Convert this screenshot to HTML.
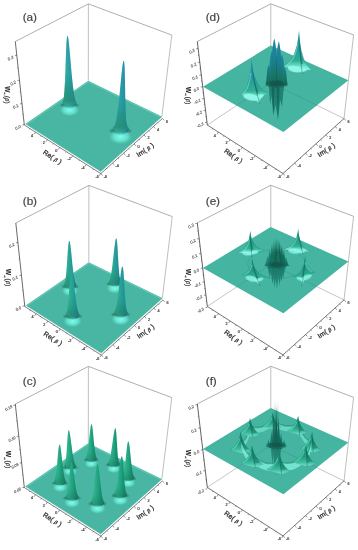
<!DOCTYPE html>
<html><head><meta charset="utf-8"><title>Wigner functions</title>
<style>
html,body{margin:0;padding:0;background:#fff;}
svg{display:block;font-family:"Liberation Sans",sans-serif;filter:blur(0.3px);}
</style></head><body>
<svg width="358" height="550" viewBox="0 0 358 550">
<rect width="358" height="550" fill="#fff"/>
<defs>
<filter id="b5" x="-30%" y="-50%" width="160%" height="200%"><feGaussianBlur stdDeviation="0.7"/></filter>
<radialGradient id="glow"><stop offset="0" stop-color="#8ffff0" stop-opacity="1"/><stop offset="0.5" stop-color="#6eecd9" stop-opacity="0.9"/><stop offset="0.78" stop-color="#5cd6c2" stop-opacity="0.5"/><stop offset="1" stop-color="#48b6a2" stop-opacity="0"/></radialGradient>
<radialGradient id="glowc"><stop offset="0" stop-color="#7ffbea" stop-opacity="0.95"/><stop offset="0.5" stop-color="#66e6d4" stop-opacity="0.6"/><stop offset="1" stop-color="#55cdb9" stop-opacity="0"/></radialGradient>
<radialGradient id="glow2"><stop offset="0" stop-color="#9afff2" stop-opacity="0.9"/><stop offset="0.55" stop-color="#7af0e0" stop-opacity="0.7"/><stop offset="0.8" stop-color="#62d8c6" stop-opacity="0.3"/><stop offset="1" stop-color="#48b6a2" stop-opacity="0"/></radialGradient>
<linearGradient id="gA" x1="0" x2="1" y1="0" y2="0"><stop offset="0.15" stop-color="#34b3a0"/><stop offset="0.5" stop-color="#2a9fa6"/><stop offset="0.85" stop-color="#2386a6"/></linearGradient>
<linearGradient id="gAv" x1="0" x2="0" y1="0" y2="1"><stop offset="0" stop-color="#2590be" stop-opacity="0.5"/><stop offset="0.5" stop-color="#2a9c9c" stop-opacity="0.1"/><stop offset="0.72" stop-color="#23907a" stop-opacity="0.6"/><stop offset="0.9" stop-color="#258a70" stop-opacity="0.75"/><stop offset="1" stop-color="#3aa890" stop-opacity="0.4"/></linearGradient>
<linearGradient id="gB" x1="0" x2="1" y1="0" y2="0"><stop offset="0.15" stop-color="#36b898"/><stop offset="0.5" stop-color="#27a294"/><stop offset="0.85" stop-color="#1f889c"/></linearGradient>
<linearGradient id="gBv" x1="0" x2="0" y1="0" y2="1"><stop offset="0" stop-color="#1f9aa8" stop-opacity="0.35"/><stop offset="0.55" stop-color="#2a9c90" stop-opacity="0.05"/><stop offset="0.85" stop-color="#1d7d60" stop-opacity="0.45"/><stop offset="1" stop-color="#2c6f60" stop-opacity="0.55"/></linearGradient>
<linearGradient id="gG" x1="0" x2="1" y1="0" y2="0"><stop offset="0.25" stop-color="#30b892"/><stop offset="0.55" stop-color="#1fa27e"/><stop offset="0.8" stop-color="#12876a"/></linearGradient>
<linearGradient id="gGv" x1="0" x2="0" y1="0" y2="1"><stop offset="0" stop-color="#22a88a" stop-opacity="0.2"/><stop offset="0.6" stop-color="#2a9c80" stop-opacity="0.0"/><stop offset="0.88" stop-color="#1d7d60" stop-opacity="0.4"/><stop offset="1" stop-color="#2c6f60" stop-opacity="0.55"/></linearGradient>
<linearGradient id="gC" x1="0" x2="0" y1="0" y2="1"><stop offset="0" stop-color="#2388ac"/><stop offset="0.4" stop-color="#2399a0"/><stop offset="0.7" stop-color="#2fae94"/><stop offset="0.87" stop-color="#7cf0de"/><stop offset="0.94" stop-color="#78ead8"/><stop offset="1" stop-color="#55c6b2"/></linearGradient>
<linearGradient id="gE" x1="0" x2="0" y1="0" y2="1"><stop offset="0" stop-color="#1a8f7c"/><stop offset="0.45" stop-color="#209c82"/><stop offset="0.7" stop-color="#33b398"/><stop offset="0.84" stop-color="#80f2e0"/><stop offset="0.93" stop-color="#78ead8"/><stop offset="1" stop-color="#55c6b2"/></linearGradient>
<linearGradient id="gF" x1="0" x2="0" y1="0" y2="1"><stop offset="0" stop-color="#17866f"/><stop offset="0.55" stop-color="#1f9c7e"/><stop offset="0.8" stop-color="#3dbb9e"/><stop offset="1" stop-color="#6fe2cc"/></linearGradient>
<linearGradient id="gS" x1="0" x2="0" y1="0" y2="1"><stop offset="0" stop-color="#1f84a6"/><stop offset="0.45" stop-color="#1c7f92"/><stop offset="0.75" stop-color="#197868"/><stop offset="1" stop-color="#166a5a"/></linearGradient>
<linearGradient id="gS2" x1="0" x2="0" y1="0" y2="1"><stop offset="0" stop-color="#1c8088"/><stop offset="1" stop-color="#166a5a"/></linearGradient>
<linearGradient id="gCold" x1="0" x2="1" y1="0" y2="0"><stop offset="0.1" stop-color="#6fe6d2"/><stop offset="0.42" stop-color="#2fae9b"/><stop offset="0.6" stop-color="#1d8c86"/><stop offset="0.9" stop-color="#5fdcca"/></linearGradient>
<linearGradient id="gCv" x1="0" x2="0" y1="0" y2="1"><stop offset="0" stop-color="#1d84a4" stop-opacity="0.75"/><stop offset="0.5" stop-color="#209a88" stop-opacity="0.35"/><stop offset="0.85" stop-color="#48b6a2" stop-opacity="0.0"/></linearGradient>
</defs>
<line x1="15.30" y1="41.50" x2="88.40" y2="3.90" stroke="#8c8c8c" stroke-width="0.70" />
<line x1="88.40" y1="3.90" x2="171.80" y2="35.10" stroke="#8c8c8c" stroke-width="0.70" />
<line x1="88.40" y1="3.90" x2="88.30" y2="81.10" stroke="#9c9c9c" stroke-width="0.65" />
<line x1="171.80" y1="35.10" x2="161.80" y2="116.80" stroke="#9c9c9c" stroke-width="0.65" />
<polygon points="25.60,123.90 100.70,171.40 161.80,116.80 88.30,81.10" fill="#48b6a2" stroke="#f4fbfa" stroke-width="1.0" stroke-linejoin="round"/>
<polygon points="25.60,123.90 100.70,171.40 161.80,116.80 88.30,81.10" fill="#48b6a2" stroke="#48b6a2" stroke-width="0.3"/>
<polyline points="26.80,124.00 88.30,81.85 160.60,116.90" fill="none" stroke="#62c8b4" stroke-width="1.1" stroke-linejoin="round"/>
<line x1="24.30" y1="125.00" x2="100.80" y2="173.60" stroke="#3a3a3a" stroke-width="0.65" />
<line x1="100.80" y1="173.60" x2="162.40" y2="118.50" stroke="#3a3a3a" stroke-width="0.65" />
<line x1="15.30" y1="41.50" x2="24.30" y2="125.00" stroke="#3a3a3a" stroke-width="0.75" />
<line x1="29.87" y1="128.54" x2="29.17" y2="129.54" stroke="#3a3a3a" stroke-width="0.45" />
<line x1="35.57" y1="132.16" x2="34.07" y2="134.26" stroke="#3a3a3a" stroke-width="0.55" />
<text x="31.97" y="135.56" font-size="3.70" text-anchor="middle" fill="#3a3a3a" transform="rotate(0.0 31.97 135.56)" dominant-baseline="central" stroke="#4a4a4a" stroke-width="0.2">4</text>
<line x1="41.41" y1="135.87" x2="40.71" y2="136.87" stroke="#3a3a3a" stroke-width="0.45" />
<line x1="47.38" y1="139.66" x2="45.88" y2="141.76" stroke="#3a3a3a" stroke-width="0.55" />
<text x="43.78" y="143.06" font-size="3.70" text-anchor="middle" fill="#3a3a3a" transform="rotate(0.0 43.78 143.06)" dominant-baseline="central" stroke="#4a4a4a" stroke-width="0.2">2</text>
<line x1="53.50" y1="143.55" x2="52.80" y2="144.55" stroke="#3a3a3a" stroke-width="0.45" />
<line x1="59.76" y1="147.53" x2="58.26" y2="149.63" stroke="#3a3a3a" stroke-width="0.55" />
<text x="56.16" y="150.93" font-size="3.70" text-anchor="middle" fill="#3a3a3a" transform="rotate(0.0 56.16 150.93)" dominant-baseline="central" stroke="#4a4a4a" stroke-width="0.2">0</text>
<line x1="66.18" y1="151.61" x2="65.48" y2="152.61" stroke="#3a3a3a" stroke-width="0.45" />
<line x1="72.76" y1="155.79" x2="71.26" y2="157.89" stroke="#3a3a3a" stroke-width="0.55" />
<text x="69.16" y="159.19" font-size="3.70" text-anchor="middle" fill="#3a3a3a" transform="rotate(0.0 69.16 159.19)" dominant-baseline="central" stroke="#4a4a4a" stroke-width="0.2">-2</text>
<line x1="79.51" y1="160.07" x2="78.81" y2="161.07" stroke="#3a3a3a" stroke-width="0.45" />
<line x1="86.42" y1="164.47" x2="84.92" y2="166.57" stroke="#3a3a3a" stroke-width="0.55" />
<text x="82.82" y="167.87" font-size="3.70" text-anchor="middle" fill="#3a3a3a" transform="rotate(0.0 82.82 167.87)" dominant-baseline="central" stroke="#4a4a4a" stroke-width="0.2">-4</text>
<line x1="93.52" y1="168.97" x2="92.82" y2="169.97" stroke="#3a3a3a" stroke-width="0.45" />
<line x1="100.80" y1="173.60" x2="99.30" y2="175.70" stroke="#3a3a3a" stroke-width="0.55" />
<text x="97.20" y="177.00" font-size="3.70" text-anchor="middle" fill="#3a3a3a" transform="rotate(0.0 97.20 177.00)" dominant-baseline="central" stroke="#4a4a4a" stroke-width="0.2">-6</text>
<line x1="100.80" y1="173.60" x2="102.70" y2="175.40" stroke="#3a3a3a" stroke-width="0.55" />
<text x="105.40" y="176.60" font-size="3.70" text-anchor="middle" fill="#3a3a3a" transform="rotate(0.0 105.40 176.60)" dominant-baseline="central" stroke="#4a4a4a" stroke-width="0.2">-6</text>
<line x1="106.71" y1="168.31" x2="107.61" y2="169.21" stroke="#3a3a3a" stroke-width="0.45" />
<line x1="112.47" y1="163.17" x2="114.37" y2="164.97" stroke="#3a3a3a" stroke-width="0.55" />
<text x="117.07" y="166.17" font-size="3.70" text-anchor="middle" fill="#3a3a3a" transform="rotate(0.0 117.07 166.17)" dominant-baseline="central" stroke="#4a4a4a" stroke-width="0.2">-4</text>
<line x1="118.06" y1="158.16" x2="118.96" y2="159.06" stroke="#3a3a3a" stroke-width="0.45" />
<line x1="123.51" y1="153.28" x2="125.41" y2="155.08" stroke="#3a3a3a" stroke-width="0.55" />
<text x="128.11" y="156.28" font-size="3.70" text-anchor="middle" fill="#3a3a3a" transform="rotate(0.0 128.11 156.28)" dominant-baseline="central" stroke="#4a4a4a" stroke-width="0.2">-2</text>
<line x1="128.82" y1="148.54" x2="129.72" y2="149.44" stroke="#3a3a3a" stroke-width="0.45" />
<line x1="133.99" y1="143.91" x2="135.89" y2="145.71" stroke="#3a3a3a" stroke-width="0.55" />
<text x="138.59" y="146.91" font-size="3.70" text-anchor="middle" fill="#3a3a3a" transform="rotate(0.0 138.59 146.91)" dominant-baseline="central" stroke="#4a4a4a" stroke-width="0.2">0</text>
<line x1="139.03" y1="139.41" x2="139.93" y2="140.31" stroke="#3a3a3a" stroke-width="0.45" />
<line x1="143.94" y1="135.02" x2="145.84" y2="136.82" stroke="#3a3a3a" stroke-width="0.55" />
<text x="148.54" y="138.02" font-size="3.70" text-anchor="middle" fill="#3a3a3a" transform="rotate(0.0 148.54 138.02)" dominant-baseline="central" stroke="#4a4a4a" stroke-width="0.2">2</text>
<line x1="148.72" y1="130.73" x2="149.62" y2="131.63" stroke="#3a3a3a" stroke-width="0.45" />
<line x1="153.40" y1="126.55" x2="155.30" y2="128.35" stroke="#3a3a3a" stroke-width="0.55" />
<text x="158.00" y="129.55" font-size="3.70" text-anchor="middle" fill="#3a3a3a" transform="rotate(0.0 158.00 129.55)" dominant-baseline="central" stroke="#4a4a4a" stroke-width="0.2">4</text>
<line x1="157.95" y1="122.48" x2="158.85" y2="123.38" stroke="#3a3a3a" stroke-width="0.45" />
<line x1="162.40" y1="118.50" x2="164.30" y2="120.30" stroke="#3a3a3a" stroke-width="0.55" />
<text x="167.00" y="121.50" font-size="3.70" text-anchor="middle" fill="#3a3a3a" transform="rotate(0.0 167.00 121.50)" dominant-baseline="central" stroke="#4a4a4a" stroke-width="0.2">6</text>
<line x1="16.80" y1="55.40" x2="14.80" y2="55.70" stroke="#3a3a3a" stroke-width="0.55" />
<text x="10.50" y="58.20" font-size="4.20" text-anchor="middle" fill="#3a3a3a" transform="rotate(-27.0 10.50 58.20)" dominant-baseline="central" stroke="#4a4a4a" stroke-width="0.1" font-style="italic">0.3</text>
<line x1="18.13" y1="67.80" x2="17.13" y2="67.95" stroke="#3a3a3a" stroke-width="0.45" />
<line x1="19.47" y1="80.20" x2="17.47" y2="80.50" stroke="#3a3a3a" stroke-width="0.55" />
<text x="13.17" y="83.00" font-size="4.20" text-anchor="middle" fill="#3a3a3a" transform="rotate(-27.0 13.17 83.00)" dominant-baseline="central" stroke="#4a4a4a" stroke-width="0.1" font-style="italic">0.2</text>
<line x1="20.73" y1="91.90" x2="19.73" y2="92.05" stroke="#3a3a3a" stroke-width="0.45" />
<line x1="21.99" y1="103.60" x2="19.99" y2="103.90" stroke="#3a3a3a" stroke-width="0.55" />
<text x="15.69" y="106.40" font-size="4.20" text-anchor="middle" fill="#3a3a3a" transform="rotate(-27.0 15.69 106.40)" dominant-baseline="central" stroke="#4a4a4a" stroke-width="0.1" font-style="italic">0.1</text>
<line x1="23.13" y1="114.15" x2="22.13" y2="114.30" stroke="#3a3a3a" stroke-width="0.45" />
<line x1="24.27" y1="124.70" x2="22.27" y2="125.00" stroke="#3a3a3a" stroke-width="0.55" />
<text x="17.97" y="127.50" font-size="4.20" text-anchor="middle" fill="#3a3a3a" transform="rotate(-27.0 17.97 127.50)" dominant-baseline="central" stroke="#4a4a4a" stroke-width="0.1" font-style="italic">0.0</text>
<text x="22.70" y="20.60" font-size="11.80" text-anchor="start" fill="#454545" transform="rotate(0.0 22.70 20.60)" stroke="#454545" stroke-width="0.2" letter-spacing="-0.1">(a)</text>
<text x="51.20" y="159.00" font-size="6.80" text-anchor="middle" fill="#2e2e2e" transform="rotate(32.4 51.20 159.00)" stroke="#2e2e2e" stroke-width="0.26" letter-spacing="0.1">Re( <tspan font-size='5' font-style='italic'>β</tspan> )</text>
<text x="146.50" y="151.80" font-size="6.80" text-anchor="middle" fill="#2e2e2e" transform="rotate(-35.0 146.50 151.80)" stroke="#2e2e2e" stroke-width="0.26" letter-spacing="0.1">Im( <tspan font-size='5' font-style='italic'>β</tspan> )</text>
<text x="5.40" y="95.00" font-size="6.60" text-anchor="middle" fill="#2e2e2e" transform="rotate(90.0 5.40 95.00)" stroke="#2e2e2e" stroke-width="0.12"><tspan font-weight='bold'>W</tspan><tspan font-size='2.3' dy='1.5'>|ψ⟩</tspan><tspan dy='-1.5' font-size='7.6'>(</tspan><tspan font-size='5.4' font-style='italic'>β</tspan><tspan font-size='7.6'>)</tspan></text>
<ellipse cx="69.50" cy="110.00" rx="10.36" ry="6.72" fill="url(#glow)"/>
<path d="M67.50,35.70 L67.32,35.88 L67.19,36.26 L67.08,36.76 L66.98,37.38 L66.89,38.11 L66.80,38.92 L66.72,39.82 L66.64,40.81 L66.56,41.86 L66.49,43.00 L66.41,44.20 L66.34,45.47 L66.28,46.80 L66.21,48.20 L66.14,49.66 L66.08,51.18 L66.02,52.75 L65.95,54.39 L65.89,56.08 L65.83,57.82 L65.76,59.61 L65.70,61.46 L65.63,63.36 L65.57,65.31 L65.50,67.31 L65.43,69.36 L65.35,71.45 L65.28,73.59 L65.19,75.78 L65.10,78.02 L65.01,80.30 L64.90,82.62 L64.79,84.99 L64.66,87.40 L64.50,89.85 L64.32,92.35 L64.09,94.89 L63.79,97.47 L63.34,100.09 L62.41,102.75 C62.50,109.58 76.50,109.58 76.41,102.75 L76.41,102.75 L75.24,100.09 L74.59,97.47 L74.10,94.89 L73.70,92.35 L73.36,89.85 L73.05,87.40 L72.77,84.99 L72.51,82.62 L72.27,80.30 L72.05,78.02 L71.83,75.78 L71.63,73.59 L71.43,71.45 L71.25,69.36 L71.07,67.31 L70.89,65.31 L70.72,63.36 L70.56,61.46 L70.40,59.61 L70.25,57.82 L70.09,56.08 L69.95,54.39 L69.80,52.75 L69.66,51.18 L69.52,49.66 L69.39,48.20 L69.25,46.80 L69.12,45.47 L68.99,44.20 L68.86,43.00 L68.73,41.86 L68.60,40.81 L68.48,39.82 L68.35,38.92 L68.23,38.11 L68.10,37.38 L67.97,36.76 L67.83,36.26 L67.69,35.88 L67.50,35.70 Z" fill="url(#gA)"/>
<path d="M67.50,35.70 L67.32,35.88 L67.19,36.26 L67.08,36.76 L66.98,37.38 L66.89,38.11 L66.80,38.92 L66.72,39.82 L66.64,40.81 L66.56,41.86 L66.49,43.00 L66.41,44.20 L66.34,45.47 L66.28,46.80 L66.21,48.20 L66.14,49.66 L66.08,51.18 L66.02,52.75 L65.95,54.39 L65.89,56.08 L65.83,57.82 L65.76,59.61 L65.70,61.46 L65.63,63.36 L65.57,65.31 L65.50,67.31 L65.43,69.36 L65.35,71.45 L65.28,73.59 L65.19,75.78 L65.10,78.02 L65.01,80.30 L64.90,82.62 L64.79,84.99 L64.66,87.40 L64.50,89.85 L64.32,92.35 L64.09,94.89 L63.79,97.47 L63.34,100.09 L62.41,102.75 C62.50,109.58 76.50,109.58 76.41,102.75 L76.41,102.75 L75.24,100.09 L74.59,97.47 L74.10,94.89 L73.70,92.35 L73.36,89.85 L73.05,87.40 L72.77,84.99 L72.51,82.62 L72.27,80.30 L72.05,78.02 L71.83,75.78 L71.63,73.59 L71.43,71.45 L71.25,69.36 L71.07,67.31 L70.89,65.31 L70.72,63.36 L70.56,61.46 L70.40,59.61 L70.25,57.82 L70.09,56.08 L69.95,54.39 L69.80,52.75 L69.66,51.18 L69.52,49.66 L69.39,48.20 L69.25,46.80 L69.12,45.47 L68.99,44.20 L68.86,43.00 L68.73,41.86 L68.60,40.81 L68.48,39.82 L68.35,38.92 L68.23,38.11 L68.10,37.38 L67.97,36.76 L67.83,36.26 L67.69,35.88 L67.50,35.70 Z" fill="url(#gAv)"/>
<ellipse cx="62.50" cy="105.12" rx="2.24" ry="1.54" fill="#245f52" opacity="0.4" filter="url(#b5)"/>
<ellipse cx="76.50" cy="105.12" rx="2.24" ry="1.54" fill="#245f52" opacity="0.4" filter="url(#b5)"/>
<ellipse cx="69.50" cy="110.20" rx="8.40" ry="5.04" fill="url(#glowc)"/>
<ellipse cx="120.50" cy="136.80" rx="12.21" ry="7.92" fill="url(#glow)"/>
<path d="M123.70,60.70 L123.51,60.89 L123.37,61.26 L123.23,61.77 L123.09,62.40 L122.95,63.13 L122.82,63.96 L122.68,64.87 L122.54,65.86 L122.40,66.93 L122.26,68.08 L122.12,69.29 L121.97,70.58 L121.82,71.92 L121.67,73.34 L121.51,74.81 L121.35,76.35 L121.19,77.94 L121.02,79.59 L120.85,81.30 L120.68,83.06 L120.50,84.88 L120.31,86.74 L120.12,88.66 L119.92,90.64 L119.72,92.66 L119.51,94.73 L119.29,96.84 L119.07,99.01 L118.83,101.22 L118.58,103.48 L118.32,105.78 L118.04,108.13 L117.74,110.53 L117.42,112.97 L117.06,115.45 L116.65,117.97 L116.16,120.54 L115.50,123.15 L114.47,125.80 L112.39,128.49 C112.25,136.31 128.75,136.31 128.89,128.49 L128.89,128.49 L127.19,125.80 L126.49,123.15 L126.13,120.54 L125.91,117.97 L125.76,115.45 L125.65,112.97 L125.57,110.53 L125.50,108.13 L125.44,105.78 L125.38,103.48 L125.33,101.22 L125.29,99.01 L125.25,96.84 L125.21,94.73 L125.18,92.66 L125.14,90.64 L125.11,88.66 L125.07,86.74 L125.04,84.88 L125.01,83.06 L124.97,81.30 L124.94,79.59 L124.90,77.94 L124.86,76.35 L124.82,74.81 L124.78,73.34 L124.74,71.92 L124.69,70.58 L124.64,69.29 L124.59,68.08 L124.53,66.93 L124.47,65.86 L124.41,64.87 L124.34,63.96 L124.27,63.13 L124.18,62.40 L124.09,61.77 L123.99,61.26 L123.87,60.89 L123.70,60.70 Z" fill="url(#gA)"/>
<path d="M123.70,60.70 L123.51,60.89 L123.37,61.26 L123.23,61.77 L123.09,62.40 L122.95,63.13 L122.82,63.96 L122.68,64.87 L122.54,65.86 L122.40,66.93 L122.26,68.08 L122.12,69.29 L121.97,70.58 L121.82,71.92 L121.67,73.34 L121.51,74.81 L121.35,76.35 L121.19,77.94 L121.02,79.59 L120.85,81.30 L120.68,83.06 L120.50,84.88 L120.31,86.74 L120.12,88.66 L119.92,90.64 L119.72,92.66 L119.51,94.73 L119.29,96.84 L119.07,99.01 L118.83,101.22 L118.58,103.48 L118.32,105.78 L118.04,108.13 L117.74,110.53 L117.42,112.97 L117.06,115.45 L116.65,117.97 L116.16,120.54 L115.50,123.15 L114.47,125.80 L112.39,128.49 C112.25,136.31 128.75,136.31 128.89,128.49 L128.89,128.49 L127.19,125.80 L126.49,123.15 L126.13,120.54 L125.91,117.97 L125.76,115.45 L125.65,112.97 L125.57,110.53 L125.50,108.13 L125.44,105.78 L125.38,103.48 L125.33,101.22 L125.29,99.01 L125.25,96.84 L125.21,94.73 L125.18,92.66 L125.14,90.64 L125.11,88.66 L125.07,86.74 L125.04,84.88 L125.01,83.06 L124.97,81.30 L124.94,79.59 L124.90,77.94 L124.86,76.35 L124.82,74.81 L124.78,73.34 L124.74,71.92 L124.69,70.58 L124.64,69.29 L124.59,68.08 L124.53,66.93 L124.47,65.86 L124.41,64.87 L124.34,63.96 L124.27,63.13 L124.18,62.40 L124.09,61.77 L123.99,61.26 L123.87,60.89 L123.70,60.70 Z" fill="url(#gAv)"/>
<ellipse cx="112.25" cy="130.87" rx="2.64" ry="1.81" fill="#245f52" opacity="0.4" filter="url(#b5)"/>
<ellipse cx="128.75" cy="130.87" rx="2.64" ry="1.81" fill="#245f52" opacity="0.4" filter="url(#b5)"/>
<ellipse cx="120.50" cy="137.00" rx="9.90" ry="5.94" fill="url(#glowc)"/>
<line x1="15.80" y1="223.00" x2="88.90" y2="185.40" stroke="#8c8c8c" stroke-width="0.70" />
<line x1="88.90" y1="185.40" x2="172.30" y2="216.60" stroke="#8c8c8c" stroke-width="0.70" />
<line x1="88.90" y1="185.40" x2="88.80" y2="262.60" stroke="#9c9c9c" stroke-width="0.65" />
<line x1="172.30" y1="216.60" x2="162.30" y2="298.30" stroke="#9c9c9c" stroke-width="0.65" />
<polygon points="26.10,305.40 101.20,352.90 162.30,298.30 88.80,262.60" fill="#48b6a2" stroke="#f4fbfa" stroke-width="1.0" stroke-linejoin="round"/>
<polygon points="26.10,305.40 101.20,352.90 162.30,298.30 88.80,262.60" fill="#48b6a2" stroke="#48b6a2" stroke-width="0.3"/>
<polyline points="27.30,305.50 88.80,263.35 161.10,298.40" fill="none" stroke="#62c8b4" stroke-width="1.1" stroke-linejoin="round"/>
<line x1="24.80" y1="306.50" x2="101.30" y2="355.10" stroke="#3a3a3a" stroke-width="0.65" />
<line x1="101.30" y1="355.10" x2="162.90" y2="300.00" stroke="#3a3a3a" stroke-width="0.65" />
<line x1="15.80" y1="223.00" x2="24.80" y2="306.50" stroke="#3a3a3a" stroke-width="0.75" />
<line x1="30.37" y1="310.04" x2="29.67" y2="311.04" stroke="#3a3a3a" stroke-width="0.45" />
<line x1="36.07" y1="313.66" x2="34.57" y2="315.76" stroke="#3a3a3a" stroke-width="0.55" />
<text x="32.47" y="317.06" font-size="3.70" text-anchor="middle" fill="#3a3a3a" transform="rotate(0.0 32.47 317.06)" dominant-baseline="central" stroke="#4a4a4a" stroke-width="0.2">4</text>
<line x1="41.91" y1="317.37" x2="41.21" y2="318.37" stroke="#3a3a3a" stroke-width="0.45" />
<line x1="47.88" y1="321.16" x2="46.38" y2="323.26" stroke="#3a3a3a" stroke-width="0.55" />
<text x="44.28" y="324.56" font-size="3.70" text-anchor="middle" fill="#3a3a3a" transform="rotate(0.0 44.28 324.56)" dominant-baseline="central" stroke="#4a4a4a" stroke-width="0.2">2</text>
<line x1="54.00" y1="325.05" x2="53.30" y2="326.05" stroke="#3a3a3a" stroke-width="0.45" />
<line x1="60.26" y1="329.03" x2="58.76" y2="331.13" stroke="#3a3a3a" stroke-width="0.55" />
<text x="56.66" y="332.43" font-size="3.70" text-anchor="middle" fill="#3a3a3a" transform="rotate(0.0 56.66 332.43)" dominant-baseline="central" stroke="#4a4a4a" stroke-width="0.2">0</text>
<line x1="66.68" y1="333.11" x2="65.98" y2="334.11" stroke="#3a3a3a" stroke-width="0.45" />
<line x1="73.26" y1="337.29" x2="71.76" y2="339.39" stroke="#3a3a3a" stroke-width="0.55" />
<text x="69.66" y="340.69" font-size="3.70" text-anchor="middle" fill="#3a3a3a" transform="rotate(0.0 69.66 340.69)" dominant-baseline="central" stroke="#4a4a4a" stroke-width="0.2">-2</text>
<line x1="80.01" y1="341.57" x2="79.31" y2="342.57" stroke="#3a3a3a" stroke-width="0.45" />
<line x1="86.92" y1="345.97" x2="85.42" y2="348.07" stroke="#3a3a3a" stroke-width="0.55" />
<text x="83.32" y="349.37" font-size="3.70" text-anchor="middle" fill="#3a3a3a" transform="rotate(0.0 83.32 349.37)" dominant-baseline="central" stroke="#4a4a4a" stroke-width="0.2">-4</text>
<line x1="94.02" y1="350.47" x2="93.32" y2="351.47" stroke="#3a3a3a" stroke-width="0.45" />
<line x1="101.30" y1="355.10" x2="99.80" y2="357.20" stroke="#3a3a3a" stroke-width="0.55" />
<text x="97.70" y="358.50" font-size="3.70" text-anchor="middle" fill="#3a3a3a" transform="rotate(0.0 97.70 358.50)" dominant-baseline="central" stroke="#4a4a4a" stroke-width="0.2">-6</text>
<line x1="101.30" y1="355.10" x2="103.20" y2="356.90" stroke="#3a3a3a" stroke-width="0.55" />
<text x="105.90" y="358.10" font-size="3.70" text-anchor="middle" fill="#3a3a3a" transform="rotate(0.0 105.90 358.10)" dominant-baseline="central" stroke="#4a4a4a" stroke-width="0.2">-6</text>
<line x1="107.21" y1="349.81" x2="108.11" y2="350.71" stroke="#3a3a3a" stroke-width="0.45" />
<line x1="112.97" y1="344.67" x2="114.87" y2="346.47" stroke="#3a3a3a" stroke-width="0.55" />
<text x="117.57" y="347.67" font-size="3.70" text-anchor="middle" fill="#3a3a3a" transform="rotate(0.0 117.57 347.67)" dominant-baseline="central" stroke="#4a4a4a" stroke-width="0.2">-4</text>
<line x1="118.56" y1="339.66" x2="119.46" y2="340.56" stroke="#3a3a3a" stroke-width="0.45" />
<line x1="124.01" y1="334.78" x2="125.91" y2="336.58" stroke="#3a3a3a" stroke-width="0.55" />
<text x="128.61" y="337.78" font-size="3.70" text-anchor="middle" fill="#3a3a3a" transform="rotate(0.0 128.61 337.78)" dominant-baseline="central" stroke="#4a4a4a" stroke-width="0.2">-2</text>
<line x1="129.32" y1="330.04" x2="130.22" y2="330.94" stroke="#3a3a3a" stroke-width="0.45" />
<line x1="134.49" y1="325.41" x2="136.39" y2="327.21" stroke="#3a3a3a" stroke-width="0.55" />
<text x="139.09" y="328.41" font-size="3.70" text-anchor="middle" fill="#3a3a3a" transform="rotate(0.0 139.09 328.41)" dominant-baseline="central" stroke="#4a4a4a" stroke-width="0.2">0</text>
<line x1="139.53" y1="320.91" x2="140.43" y2="321.81" stroke="#3a3a3a" stroke-width="0.45" />
<line x1="144.44" y1="316.52" x2="146.34" y2="318.32" stroke="#3a3a3a" stroke-width="0.55" />
<text x="149.04" y="319.52" font-size="3.70" text-anchor="middle" fill="#3a3a3a" transform="rotate(0.0 149.04 319.52)" dominant-baseline="central" stroke="#4a4a4a" stroke-width="0.2">2</text>
<line x1="149.22" y1="312.23" x2="150.12" y2="313.13" stroke="#3a3a3a" stroke-width="0.45" />
<line x1="153.90" y1="308.05" x2="155.80" y2="309.85" stroke="#3a3a3a" stroke-width="0.55" />
<text x="158.50" y="311.05" font-size="3.70" text-anchor="middle" fill="#3a3a3a" transform="rotate(0.0 158.50 311.05)" dominant-baseline="central" stroke="#4a4a4a" stroke-width="0.2">4</text>
<line x1="158.45" y1="303.98" x2="159.35" y2="304.88" stroke="#3a3a3a" stroke-width="0.45" />
<line x1="162.90" y1="300.00" x2="164.80" y2="301.80" stroke="#3a3a3a" stroke-width="0.55" />
<text x="167.50" y="303.00" font-size="3.70" text-anchor="middle" fill="#3a3a3a" transform="rotate(0.0 167.50 303.00)" dominant-baseline="central" stroke="#4a4a4a" stroke-width="0.2">6</text>
<line x1="17.90" y1="242.50" x2="15.90" y2="242.80" stroke="#3a3a3a" stroke-width="0.55" />
<text x="11.60" y="245.30" font-size="4.20" text-anchor="middle" fill="#3a3a3a" transform="rotate(-27.0 11.60 245.30)" dominant-baseline="central" stroke="#4a4a4a" stroke-width="0.1" font-style="italic">0.2</text>
<line x1="19.66" y1="258.85" x2="18.66" y2="259.00" stroke="#3a3a3a" stroke-width="0.45" />
<line x1="21.43" y1="275.20" x2="19.43" y2="275.50" stroke="#3a3a3a" stroke-width="0.55" />
<text x="15.13" y="278.00" font-size="4.20" text-anchor="middle" fill="#3a3a3a" transform="rotate(-27.0 15.13 278.00)" dominant-baseline="central" stroke="#4a4a4a" stroke-width="0.1" font-style="italic">0.1</text>
<line x1="23.08" y1="290.50" x2="22.08" y2="290.65" stroke="#3a3a3a" stroke-width="0.45" />
<line x1="24.72" y1="305.80" x2="22.72" y2="306.10" stroke="#3a3a3a" stroke-width="0.55" />
<text x="18.42" y="308.60" font-size="4.20" text-anchor="middle" fill="#3a3a3a" transform="rotate(-27.0 18.42 308.60)" dominant-baseline="central" stroke="#4a4a4a" stroke-width="0.1" font-style="italic">0.0</text>
<text x="22.80" y="204.50" font-size="11.80" text-anchor="start" fill="#454545" transform="rotate(0.0 22.80 204.50)" stroke="#454545" stroke-width="0.2" letter-spacing="-0.1">(b)</text>
<text x="51.70" y="340.50" font-size="6.80" text-anchor="middle" fill="#2e2e2e" transform="rotate(32.4 51.70 340.50)" stroke="#2e2e2e" stroke-width="0.26" letter-spacing="0.1">Re( <tspan font-size='5' font-style='italic'>β</tspan> )</text>
<text x="147.00" y="333.30" font-size="6.80" text-anchor="middle" fill="#2e2e2e" transform="rotate(-35.0 147.00 333.30)" stroke="#2e2e2e" stroke-width="0.26" letter-spacing="0.1">Im( <tspan font-size='5' font-style='italic'>β</tspan> )</text>
<text x="5.60" y="277.70" font-size="6.60" text-anchor="middle" fill="#2e2e2e" transform="rotate(90.0 5.60 277.70)" stroke="#2e2e2e" stroke-width="0.12"><tspan font-weight='bold'>W</tspan><tspan font-size='2.3' dy='1.5'>|ψ⟩</tspan><tspan dy='-1.5' font-size='7.6'>(</tspan><tspan font-size='5.4' font-style='italic'>β</tspan><tspan font-size='7.6'>)</tspan></text>
<ellipse cx="70.10" cy="290.80" rx="8.79" ry="5.70" fill="url(#glow)"/>
<path d="M69.30,240.90 L69.14,241.02 L69.02,241.26 L68.91,241.59 L68.81,242.00 L68.72,242.47 L68.63,243.00 L68.55,243.59 L68.46,244.23 L68.38,244.92 L68.30,245.66 L68.22,246.45 L68.14,247.27 L68.07,248.15 L67.99,249.06 L67.91,250.01 L67.84,251.00 L67.76,252.03 L67.68,253.10 L67.61,254.20 L67.53,255.33 L67.45,256.51 L67.36,257.71 L67.28,258.95 L67.20,260.22 L67.11,261.53 L67.02,262.86 L66.92,264.23 L66.82,265.63 L66.72,267.06 L66.61,268.52 L66.49,270.00 L66.36,271.52 L66.22,273.06 L66.06,274.64 L65.89,276.24 L65.68,277.87 L65.44,279.53 L65.12,281.21 L64.66,282.92 L63.77,284.66 C63.85,290.43 76.35,290.43 76.36,284.66 L76.36,284.66 L75.37,282.92 L74.83,281.21 L74.44,279.53 L74.13,277.87 L73.86,276.24 L73.62,274.64 L73.40,273.06 L73.21,271.52 L73.02,270.00 L72.85,268.52 L72.69,267.06 L72.54,265.63 L72.39,264.23 L72.25,262.86 L72.12,261.53 L71.99,260.22 L71.86,258.95 L71.74,257.71 L71.62,256.51 L71.50,255.33 L71.39,254.20 L71.28,253.10 L71.17,252.03 L71.06,251.00 L70.95,250.01 L70.85,249.06 L70.74,248.15 L70.64,247.27 L70.54,246.45 L70.44,245.66 L70.34,244.92 L70.23,244.23 L70.13,243.59 L70.03,243.00 L69.92,242.47 L69.82,242.00 L69.71,241.59 L69.59,241.26 L69.47,241.02 L69.30,240.90 Z" fill="url(#gB)"/>
<path d="M69.30,240.90 L69.14,241.02 L69.02,241.26 L68.91,241.59 L68.81,242.00 L68.72,242.47 L68.63,243.00 L68.55,243.59 L68.46,244.23 L68.38,244.92 L68.30,245.66 L68.22,246.45 L68.14,247.27 L68.07,248.15 L67.99,249.06 L67.91,250.01 L67.84,251.00 L67.76,252.03 L67.68,253.10 L67.61,254.20 L67.53,255.33 L67.45,256.51 L67.36,257.71 L67.28,258.95 L67.20,260.22 L67.11,261.53 L67.02,262.86 L66.92,264.23 L66.82,265.63 L66.72,267.06 L66.61,268.52 L66.49,270.00 L66.36,271.52 L66.22,273.06 L66.06,274.64 L65.89,276.24 L65.68,277.87 L65.44,279.53 L65.12,281.21 L64.66,282.92 L63.77,284.66 C63.85,290.43 76.35,290.43 76.36,284.66 L76.36,284.66 L75.37,282.92 L74.83,281.21 L74.44,279.53 L74.13,277.87 L73.86,276.24 L73.62,274.64 L73.40,273.06 L73.21,271.52 L73.02,270.00 L72.85,268.52 L72.69,267.06 L72.54,265.63 L72.39,264.23 L72.25,262.86 L72.12,261.53 L71.99,260.22 L71.86,258.95 L71.74,257.71 L71.62,256.51 L71.50,255.33 L71.39,254.20 L71.28,253.10 L71.17,252.03 L71.06,251.00 L70.95,250.01 L70.85,249.06 L70.74,248.15 L70.64,247.27 L70.54,246.45 L70.44,245.66 L70.34,244.92 L70.23,244.23 L70.13,243.59 L70.03,243.00 L69.92,242.47 L69.82,242.00 L69.71,241.59 L69.59,241.26 L69.47,241.02 L69.30,240.90 Z" fill="url(#gBv)"/>
<ellipse cx="63.85" cy="286.55" rx="2.00" ry="1.38" fill="#245f52" opacity="0.4" filter="url(#b5)"/>
<ellipse cx="76.35" cy="286.55" rx="2.00" ry="1.38" fill="#245f52" opacity="0.4" filter="url(#b5)"/>
<ellipse cx="70.10" cy="291.00" rx="7.12" ry="4.27" fill="url(#glowc)"/>
<ellipse cx="114.80" cy="288.20" rx="8.79" ry="5.70" fill="url(#glow)"/>
<path d="M116.20,238.40 L116.03,238.52 L115.90,238.76 L115.78,239.09 L115.67,239.50 L115.56,239.97 L115.45,240.50 L115.34,241.08 L115.23,241.72 L115.12,242.41 L115.01,243.15 L114.90,243.93 L114.79,244.76 L114.68,245.63 L114.56,246.54 L114.45,247.49 L114.33,248.48 L114.21,249.50 L114.09,250.57 L113.96,251.67 L113.84,252.80 L113.71,253.97 L113.57,255.17 L113.43,256.41 L113.29,257.68 L113.15,258.98 L113.00,260.31 L112.84,261.68 L112.68,263.07 L112.50,264.50 L112.32,265.95 L112.13,267.44 L111.93,268.95 L111.71,270.49 L111.48,272.06 L111.22,273.66 L110.92,275.29 L110.58,276.94 L110.16,278.62 L109.59,280.33 L108.57,282.06 C108.55,287.82 121.05,287.82 121.15,282.06 L121.15,282.06 L120.30,280.33 L119.87,278.62 L119.59,276.94 L119.36,275.29 L119.18,273.66 L119.03,272.06 L118.90,270.49 L118.78,268.95 L118.67,267.44 L118.57,265.95 L118.48,264.50 L118.39,263.07 L118.31,261.68 L118.23,260.31 L118.16,258.98 L118.09,257.68 L118.02,256.41 L117.95,255.17 L117.88,253.97 L117.81,252.80 L117.75,251.67 L117.68,250.57 L117.62,249.50 L117.55,248.48 L117.49,247.49 L117.42,246.54 L117.35,245.63 L117.29,244.76 L117.22,243.93 L117.15,243.15 L117.08,242.41 L117.00,241.72 L116.93,241.08 L116.85,240.50 L116.76,239.97 L116.67,239.50 L116.58,239.09 L116.48,238.76 L116.36,238.52 L116.20,238.40 Z" fill="url(#gB)"/>
<path d="M116.20,238.40 L116.03,238.52 L115.90,238.76 L115.78,239.09 L115.67,239.50 L115.56,239.97 L115.45,240.50 L115.34,241.08 L115.23,241.72 L115.12,242.41 L115.01,243.15 L114.90,243.93 L114.79,244.76 L114.68,245.63 L114.56,246.54 L114.45,247.49 L114.33,248.48 L114.21,249.50 L114.09,250.57 L113.96,251.67 L113.84,252.80 L113.71,253.97 L113.57,255.17 L113.43,256.41 L113.29,257.68 L113.15,258.98 L113.00,260.31 L112.84,261.68 L112.68,263.07 L112.50,264.50 L112.32,265.95 L112.13,267.44 L111.93,268.95 L111.71,270.49 L111.48,272.06 L111.22,273.66 L110.92,275.29 L110.58,276.94 L110.16,278.62 L109.59,280.33 L108.57,282.06 C108.55,287.82 121.05,287.82 121.15,282.06 L121.15,282.06 L120.30,280.33 L119.87,278.62 L119.59,276.94 L119.36,275.29 L119.18,273.66 L119.03,272.06 L118.90,270.49 L118.78,268.95 L118.67,267.44 L118.57,265.95 L118.48,264.50 L118.39,263.07 L118.31,261.68 L118.23,260.31 L118.16,258.98 L118.09,257.68 L118.02,256.41 L117.95,255.17 L117.88,253.97 L117.81,252.80 L117.75,251.67 L117.68,250.57 L117.62,249.50 L117.55,248.48 L117.49,247.49 L117.42,246.54 L117.35,245.63 L117.29,244.76 L117.22,243.93 L117.15,243.15 L117.08,242.41 L117.00,241.72 L116.93,241.08 L116.85,240.50 L116.76,239.97 L116.67,239.50 L116.58,239.09 L116.48,238.76 L116.36,238.52 L116.20,238.40 Z" fill="url(#gBv)"/>
<ellipse cx="108.55" cy="283.95" rx="2.00" ry="1.38" fill="#245f52" opacity="0.4" filter="url(#b5)"/>
<ellipse cx="121.05" cy="283.95" rx="2.00" ry="1.38" fill="#245f52" opacity="0.4" filter="url(#b5)"/>
<ellipse cx="114.80" cy="288.40" rx="7.12" ry="4.27" fill="url(#glowc)"/>
<ellipse cx="72.60" cy="321.20" rx="9.84" ry="6.38" fill="url(#glow)"/>
<path d="M71.50,268.40 L71.32,268.53 L71.19,268.78 L71.07,269.13 L70.96,269.56 L70.86,270.05 L70.77,270.61 L70.67,271.23 L70.58,271.90 L70.49,272.63 L70.41,273.40 L70.32,274.23 L70.24,275.10 L70.16,276.01 L70.08,276.97 L69.99,277.97 L69.91,279.01 L69.83,280.10 L69.75,281.22 L69.67,282.37 L69.59,283.57 L69.50,284.80 L69.42,286.07 L69.33,287.37 L69.24,288.71 L69.15,290.08 L69.05,291.48 L68.95,292.92 L68.85,294.39 L68.74,295.89 L68.62,297.42 L68.50,298.98 L68.36,300.58 L68.21,302.20 L68.05,303.85 L67.86,305.54 L67.64,307.25 L67.37,308.99 L67.03,310.76 L66.53,312.56 L65.55,314.38 C65.60,320.78 79.60,320.78 79.55,314.38 L79.55,314.38 L78.44,312.56 L77.83,310.76 L77.38,308.99 L77.02,307.25 L76.71,305.54 L76.44,303.85 L76.19,302.20 L75.97,300.58 L75.76,298.98 L75.56,297.42 L75.38,295.89 L75.20,294.39 L75.03,292.92 L74.87,291.48 L74.71,290.08 L74.56,288.71 L74.42,287.37 L74.28,286.07 L74.14,284.80 L74.00,283.57 L73.87,282.37 L73.74,281.22 L73.62,280.10 L73.49,279.01 L73.37,277.97 L73.25,276.97 L73.13,276.01 L73.02,275.10 L72.90,274.23 L72.78,273.40 L72.67,272.63 L72.55,271.90 L72.43,271.23 L72.32,270.61 L72.20,270.05 L72.08,269.56 L71.96,269.13 L71.83,268.78 L71.69,268.53 L71.50,268.40 Z" fill="url(#gB)"/>
<path d="M71.50,268.40 L71.32,268.53 L71.19,268.78 L71.07,269.13 L70.96,269.56 L70.86,270.05 L70.77,270.61 L70.67,271.23 L70.58,271.90 L70.49,272.63 L70.41,273.40 L70.32,274.23 L70.24,275.10 L70.16,276.01 L70.08,276.97 L69.99,277.97 L69.91,279.01 L69.83,280.10 L69.75,281.22 L69.67,282.37 L69.59,283.57 L69.50,284.80 L69.42,286.07 L69.33,287.37 L69.24,288.71 L69.15,290.08 L69.05,291.48 L68.95,292.92 L68.85,294.39 L68.74,295.89 L68.62,297.42 L68.50,298.98 L68.36,300.58 L68.21,302.20 L68.05,303.85 L67.86,305.54 L67.64,307.25 L67.37,308.99 L67.03,310.76 L66.53,312.56 L65.55,314.38 C65.60,320.78 79.60,320.78 79.55,314.38 L79.55,314.38 L78.44,312.56 L77.83,310.76 L77.38,308.99 L77.02,307.25 L76.71,305.54 L76.44,303.85 L76.19,302.20 L75.97,300.58 L75.76,298.98 L75.56,297.42 L75.38,295.89 L75.20,294.39 L75.03,292.92 L74.87,291.48 L74.71,290.08 L74.56,288.71 L74.42,287.37 L74.28,286.07 L74.14,284.80 L74.00,283.57 L73.87,282.37 L73.74,281.22 L73.62,280.10 L73.49,279.01 L73.37,277.97 L73.25,276.97 L73.13,276.01 L73.02,275.10 L72.90,274.23 L72.78,273.40 L72.67,272.63 L72.55,271.90 L72.43,271.23 L72.32,270.61 L72.20,270.05 L72.08,269.56 L71.96,269.13 L71.83,268.78 L71.69,268.53 L71.50,268.40 Z" fill="url(#gBv)"/>
<ellipse cx="65.60" cy="316.32" rx="2.24" ry="1.54" fill="#245f52" opacity="0.4" filter="url(#b5)"/>
<ellipse cx="79.60" cy="316.32" rx="2.24" ry="1.54" fill="#245f52" opacity="0.4" filter="url(#b5)"/>
<ellipse cx="72.60" cy="321.40" rx="7.98" ry="4.79" fill="url(#glowc)"/>
<ellipse cx="120.70" cy="319.40" rx="9.84" ry="6.38" fill="url(#glow)"/>
<path d="M122.40,266.60 L122.21,266.73 L122.07,266.98 L121.94,267.33 L121.81,267.76 L121.68,268.25 L121.56,268.81 L121.44,269.43 L121.31,270.10 L121.19,270.83 L121.07,271.60 L120.94,272.43 L120.82,273.30 L120.69,274.21 L120.56,275.17 L120.43,276.17 L120.29,277.21 L120.16,278.30 L120.02,279.42 L119.88,280.57 L119.73,281.77 L119.59,283.00 L119.43,284.27 L119.28,285.57 L119.12,286.91 L118.95,288.28 L118.78,289.68 L118.60,291.12 L118.42,292.59 L118.22,294.09 L118.02,295.62 L117.80,297.18 L117.57,298.78 L117.32,300.40 L117.05,302.05 L116.76,303.74 L116.43,305.45 L116.04,307.19 L115.56,308.96 L114.92,310.76 L113.77,312.58 C113.70,318.98 127.70,318.98 127.77,312.58 L127.77,312.58 L126.83,310.76 L126.36,308.96 L126.05,307.19 L125.81,305.45 L125.61,303.74 L125.45,302.05 L125.30,300.40 L125.18,298.78 L125.06,297.18 L124.96,295.62 L124.86,294.09 L124.77,292.59 L124.68,291.12 L124.60,289.68 L124.52,288.28 L124.44,286.91 L124.37,285.57 L124.30,284.27 L124.22,283.00 L124.15,281.77 L124.08,280.57 L124.01,279.42 L123.94,278.30 L123.88,277.21 L123.81,276.17 L123.73,275.17 L123.66,274.21 L123.59,273.30 L123.52,272.43 L123.44,271.60 L123.36,270.83 L123.28,270.10 L123.20,269.43 L123.11,268.81 L123.02,268.25 L122.92,267.76 L122.82,267.33 L122.71,266.98 L122.58,266.73 L122.40,266.60 Z" fill="url(#gB)"/>
<path d="M122.40,266.60 L122.21,266.73 L122.07,266.98 L121.94,267.33 L121.81,267.76 L121.68,268.25 L121.56,268.81 L121.44,269.43 L121.31,270.10 L121.19,270.83 L121.07,271.60 L120.94,272.43 L120.82,273.30 L120.69,274.21 L120.56,275.17 L120.43,276.17 L120.29,277.21 L120.16,278.30 L120.02,279.42 L119.88,280.57 L119.73,281.77 L119.59,283.00 L119.43,284.27 L119.28,285.57 L119.12,286.91 L118.95,288.28 L118.78,289.68 L118.60,291.12 L118.42,292.59 L118.22,294.09 L118.02,295.62 L117.80,297.18 L117.57,298.78 L117.32,300.40 L117.05,302.05 L116.76,303.74 L116.43,305.45 L116.04,307.19 L115.56,308.96 L114.92,310.76 L113.77,312.58 C113.70,318.98 127.70,318.98 127.77,312.58 L127.77,312.58 L126.83,310.76 L126.36,308.96 L126.05,307.19 L125.81,305.45 L125.61,303.74 L125.45,302.05 L125.30,300.40 L125.18,298.78 L125.06,297.18 L124.96,295.62 L124.86,294.09 L124.77,292.59 L124.68,291.12 L124.60,289.68 L124.52,288.28 L124.44,286.91 L124.37,285.57 L124.30,284.27 L124.22,283.00 L124.15,281.77 L124.08,280.57 L124.01,279.42 L123.94,278.30 L123.88,277.21 L123.81,276.17 L123.73,275.17 L123.66,274.21 L123.59,273.30 L123.52,272.43 L123.44,271.60 L123.36,270.83 L123.28,270.10 L123.20,269.43 L123.11,268.81 L123.02,268.25 L122.92,267.76 L122.82,267.33 L122.71,266.98 L122.58,266.73 L122.40,266.60 Z" fill="url(#gBv)"/>
<ellipse cx="113.70" cy="314.52" rx="2.24" ry="1.54" fill="#245f52" opacity="0.4" filter="url(#b5)"/>
<ellipse cx="127.70" cy="314.52" rx="2.24" ry="1.54" fill="#245f52" opacity="0.4" filter="url(#b5)"/>
<ellipse cx="120.70" cy="319.60" rx="7.98" ry="4.79" fill="url(#glowc)"/>
<line x1="15.30" y1="404.00" x2="88.40" y2="366.40" stroke="#8c8c8c" stroke-width="0.70" />
<line x1="88.40" y1="366.40" x2="171.80" y2="397.60" stroke="#8c8c8c" stroke-width="0.70" />
<line x1="88.40" y1="366.40" x2="88.30" y2="443.60" stroke="#9c9c9c" stroke-width="0.65" />
<line x1="171.80" y1="397.60" x2="161.80" y2="479.30" stroke="#9c9c9c" stroke-width="0.65" />
<polygon points="25.60,486.40 100.70,533.90 161.80,479.30 88.30,443.60" fill="#48b6a2" stroke="#f4fbfa" stroke-width="1.0" stroke-linejoin="round"/>
<polygon points="25.60,486.40 100.70,533.90 161.80,479.30 88.30,443.60" fill="#48b6a2" stroke="#48b6a2" stroke-width="0.3"/>
<polyline points="26.80,486.50 88.30,444.35 160.60,479.40" fill="none" stroke="#62c8b4" stroke-width="1.1" stroke-linejoin="round"/>
<line x1="24.30" y1="487.50" x2="100.80" y2="536.10" stroke="#3a3a3a" stroke-width="0.65" />
<line x1="100.80" y1="536.10" x2="162.40" y2="481.00" stroke="#3a3a3a" stroke-width="0.65" />
<line x1="15.30" y1="404.00" x2="24.30" y2="487.50" stroke="#3a3a3a" stroke-width="0.75" />
<line x1="29.87" y1="491.04" x2="29.17" y2="492.04" stroke="#3a3a3a" stroke-width="0.45" />
<line x1="35.57" y1="494.66" x2="34.07" y2="496.76" stroke="#3a3a3a" stroke-width="0.55" />
<text x="31.97" y="498.06" font-size="3.70" text-anchor="middle" fill="#3a3a3a" transform="rotate(0.0 31.97 498.06)" dominant-baseline="central" stroke="#4a4a4a" stroke-width="0.2">4</text>
<line x1="41.41" y1="498.37" x2="40.71" y2="499.37" stroke="#3a3a3a" stroke-width="0.45" />
<line x1="47.38" y1="502.16" x2="45.88" y2="504.26" stroke="#3a3a3a" stroke-width="0.55" />
<text x="43.78" y="505.56" font-size="3.70" text-anchor="middle" fill="#3a3a3a" transform="rotate(0.0 43.78 505.56)" dominant-baseline="central" stroke="#4a4a4a" stroke-width="0.2">2</text>
<line x1="53.50" y1="506.05" x2="52.80" y2="507.05" stroke="#3a3a3a" stroke-width="0.45" />
<line x1="59.76" y1="510.03" x2="58.26" y2="512.13" stroke="#3a3a3a" stroke-width="0.55" />
<text x="56.16" y="513.43" font-size="3.70" text-anchor="middle" fill="#3a3a3a" transform="rotate(0.0 56.16 513.43)" dominant-baseline="central" stroke="#4a4a4a" stroke-width="0.2">0</text>
<line x1="66.18" y1="514.11" x2="65.48" y2="515.11" stroke="#3a3a3a" stroke-width="0.45" />
<line x1="72.76" y1="518.29" x2="71.26" y2="520.39" stroke="#3a3a3a" stroke-width="0.55" />
<text x="69.16" y="521.69" font-size="3.70" text-anchor="middle" fill="#3a3a3a" transform="rotate(0.0 69.16 521.69)" dominant-baseline="central" stroke="#4a4a4a" stroke-width="0.2">-2</text>
<line x1="79.51" y1="522.57" x2="78.81" y2="523.57" stroke="#3a3a3a" stroke-width="0.45" />
<line x1="86.42" y1="526.97" x2="84.92" y2="529.07" stroke="#3a3a3a" stroke-width="0.55" />
<text x="82.82" y="530.37" font-size="3.70" text-anchor="middle" fill="#3a3a3a" transform="rotate(0.0 82.82 530.37)" dominant-baseline="central" stroke="#4a4a4a" stroke-width="0.2">-4</text>
<line x1="93.52" y1="531.47" x2="92.82" y2="532.47" stroke="#3a3a3a" stroke-width="0.45" />
<line x1="100.80" y1="536.10" x2="99.30" y2="538.20" stroke="#3a3a3a" stroke-width="0.55" />
<text x="97.20" y="539.50" font-size="3.70" text-anchor="middle" fill="#3a3a3a" transform="rotate(0.0 97.20 539.50)" dominant-baseline="central" stroke="#4a4a4a" stroke-width="0.2">-6</text>
<line x1="100.80" y1="536.10" x2="102.70" y2="537.90" stroke="#3a3a3a" stroke-width="0.55" />
<text x="105.40" y="539.10" font-size="3.70" text-anchor="middle" fill="#3a3a3a" transform="rotate(0.0 105.40 539.10)" dominant-baseline="central" stroke="#4a4a4a" stroke-width="0.2">-6</text>
<line x1="106.71" y1="530.81" x2="107.61" y2="531.71" stroke="#3a3a3a" stroke-width="0.45" />
<line x1="112.47" y1="525.67" x2="114.37" y2="527.47" stroke="#3a3a3a" stroke-width="0.55" />
<text x="117.07" y="528.67" font-size="3.70" text-anchor="middle" fill="#3a3a3a" transform="rotate(0.0 117.07 528.67)" dominant-baseline="central" stroke="#4a4a4a" stroke-width="0.2">-4</text>
<line x1="118.06" y1="520.66" x2="118.96" y2="521.56" stroke="#3a3a3a" stroke-width="0.45" />
<line x1="123.51" y1="515.78" x2="125.41" y2="517.58" stroke="#3a3a3a" stroke-width="0.55" />
<text x="128.11" y="518.78" font-size="3.70" text-anchor="middle" fill="#3a3a3a" transform="rotate(0.0 128.11 518.78)" dominant-baseline="central" stroke="#4a4a4a" stroke-width="0.2">-2</text>
<line x1="128.82" y1="511.04" x2="129.72" y2="511.94" stroke="#3a3a3a" stroke-width="0.45" />
<line x1="133.99" y1="506.41" x2="135.89" y2="508.21" stroke="#3a3a3a" stroke-width="0.55" />
<text x="138.59" y="509.41" font-size="3.70" text-anchor="middle" fill="#3a3a3a" transform="rotate(0.0 138.59 509.41)" dominant-baseline="central" stroke="#4a4a4a" stroke-width="0.2">0</text>
<line x1="139.03" y1="501.91" x2="139.93" y2="502.81" stroke="#3a3a3a" stroke-width="0.45" />
<line x1="143.94" y1="497.52" x2="145.84" y2="499.32" stroke="#3a3a3a" stroke-width="0.55" />
<text x="148.54" y="500.52" font-size="3.70" text-anchor="middle" fill="#3a3a3a" transform="rotate(0.0 148.54 500.52)" dominant-baseline="central" stroke="#4a4a4a" stroke-width="0.2">2</text>
<line x1="148.72" y1="493.23" x2="149.62" y2="494.13" stroke="#3a3a3a" stroke-width="0.45" />
<line x1="153.40" y1="489.05" x2="155.30" y2="490.85" stroke="#3a3a3a" stroke-width="0.55" />
<text x="158.00" y="492.05" font-size="3.70" text-anchor="middle" fill="#3a3a3a" transform="rotate(0.0 158.00 492.05)" dominant-baseline="central" stroke="#4a4a4a" stroke-width="0.2">4</text>
<line x1="157.95" y1="484.98" x2="158.85" y2="485.88" stroke="#3a3a3a" stroke-width="0.45" />
<line x1="162.40" y1="481.00" x2="164.30" y2="482.80" stroke="#3a3a3a" stroke-width="0.55" />
<text x="167.00" y="484.00" font-size="3.70" text-anchor="middle" fill="#3a3a3a" transform="rotate(0.0 167.00 484.00)" dominant-baseline="central" stroke="#4a4a4a" stroke-width="0.2">6</text>
<line x1="15.43" y1="405.20" x2="13.43" y2="405.50" stroke="#3a3a3a" stroke-width="0.55" />
<text x="8.63" y="408.00" font-size="3.90" text-anchor="middle" fill="#3a3a3a" transform="rotate(-27.0 8.63 408.00)" dominant-baseline="central" stroke="#4a4a4a" stroke-width="0.1" font-style="italic">0.15</text>
<line x1="17.10" y1="420.70" x2="16.10" y2="420.85" stroke="#3a3a3a" stroke-width="0.45" />
<line x1="18.77" y1="436.20" x2="16.77" y2="436.50" stroke="#3a3a3a" stroke-width="0.55" />
<text x="11.97" y="439.00" font-size="3.90" text-anchor="middle" fill="#3a3a3a" transform="rotate(-27.0 11.97 439.00)" dominant-baseline="central" stroke="#4a4a4a" stroke-width="0.1" font-style="italic">0.10</text>
<line x1="20.20" y1="449.50" x2="19.20" y2="449.65" stroke="#3a3a3a" stroke-width="0.45" />
<line x1="21.64" y1="462.80" x2="19.64" y2="463.10" stroke="#3a3a3a" stroke-width="0.55" />
<text x="14.84" y="465.60" font-size="3.90" text-anchor="middle" fill="#3a3a3a" transform="rotate(-27.0 14.84 465.60)" dominant-baseline="central" stroke="#4a4a4a" stroke-width="0.1" font-style="italic">0.05</text>
<line x1="22.96" y1="475.10" x2="21.96" y2="475.25" stroke="#3a3a3a" stroke-width="0.45" />
<line x1="24.29" y1="487.40" x2="22.29" y2="487.70" stroke="#3a3a3a" stroke-width="0.55" />
<text x="17.49" y="490.20" font-size="3.90" text-anchor="middle" fill="#3a3a3a" transform="rotate(-27.0 17.49 490.20)" dominant-baseline="central" stroke="#4a4a4a" stroke-width="0.1" font-style="italic">0.00</text>
<text x="22.80" y="385.00" font-size="11.80" text-anchor="start" fill="#454545" transform="rotate(0.0 22.80 385.00)" stroke="#454545" stroke-width="0.2" letter-spacing="-0.1">(c)</text>
<text x="51.20" y="521.50" font-size="6.80" text-anchor="middle" fill="#2e2e2e" transform="rotate(32.4 51.20 521.50)" stroke="#2e2e2e" stroke-width="0.26" letter-spacing="0.1">Re( <tspan font-size='5' font-style='italic'>β</tspan> )</text>
<text x="146.50" y="514.30" font-size="6.80" text-anchor="middle" fill="#2e2e2e" transform="rotate(-35.0 146.50 514.30)" stroke="#2e2e2e" stroke-width="0.26" letter-spacing="0.1">Im( <tspan font-size='5' font-style='italic'>β</tspan> )</text>
<text x="5.60" y="459.70" font-size="6.60" text-anchor="middle" fill="#2e2e2e" transform="rotate(90.0 5.60 459.70)" stroke="#2e2e2e" stroke-width="0.12"><tspan font-weight='bold'>W</tspan><tspan font-size='2.3' dy='1.5'>|ψ⟩</tspan><tspan dy='-1.5' font-size='7.6'>(</tspan><tspan font-size='5.4' font-style='italic'>β</tspan><tspan font-size='7.6'>)</tspan></text>
<ellipse cx="91.20" cy="463.60" rx="7.16" ry="4.65" fill="url(#glow)"/>
<path d="M91.50,424.20 L91.35,424.29 L91.23,424.48 L91.12,424.74 L91.03,425.06 L90.93,425.42 L90.84,425.84 L90.75,426.30 L90.65,426.80 L90.57,427.33 L90.48,427.91 L90.39,428.52 L90.30,429.17 L90.21,429.84 L90.12,430.55 L90.03,431.30 L89.94,432.07 L89.85,432.87 L89.76,433.70 L89.66,434.56 L89.56,435.44 L89.47,436.36 L89.36,437.30 L89.26,438.26 L89.15,439.25 L89.04,440.27 L88.93,441.31 L88.81,442.37 L88.69,443.46 L88.56,444.57 L88.42,445.71 L88.28,446.87 L88.12,448.05 L87.96,449.25 L87.77,450.48 L87.57,451.73 L87.33,453.00 L87.06,454.29 L86.71,455.60 L86.23,456.93 L85.34,458.28 C85.70,463.27 96.70,463.27 97.09,458.28 L97.09,458.28 L96.23,456.93 L95.78,455.60 L95.46,454.29 L95.21,453.00 L95.00,451.73 L94.82,450.48 L94.66,449.25 L94.51,448.05 L94.38,446.87 L94.25,445.71 L94.14,444.57 L94.03,443.46 L93.92,442.37 L93.82,441.31 L93.72,440.27 L93.63,439.25 L93.54,438.26 L93.45,437.30 L93.36,436.36 L93.28,435.44 L93.19,434.56 L93.11,433.70 L93.03,432.87 L92.95,432.07 L92.87,431.30 L92.79,430.55 L92.71,429.84 L92.63,429.17 L92.55,428.52 L92.47,427.91 L92.39,427.33 L92.31,426.80 L92.23,426.30 L92.14,425.84 L92.05,425.42 L91.96,425.06 L91.87,424.74 L91.77,424.48 L91.65,424.29 L91.50,424.20 Z" fill="url(#gG)"/>
<path d="M91.50,424.20 L91.35,424.29 L91.23,424.48 L91.12,424.74 L91.03,425.06 L90.93,425.42 L90.84,425.84 L90.75,426.30 L90.65,426.80 L90.57,427.33 L90.48,427.91 L90.39,428.52 L90.30,429.17 L90.21,429.84 L90.12,430.55 L90.03,431.30 L89.94,432.07 L89.85,432.87 L89.76,433.70 L89.66,434.56 L89.56,435.44 L89.47,436.36 L89.36,437.30 L89.26,438.26 L89.15,439.25 L89.04,440.27 L88.93,441.31 L88.81,442.37 L88.69,443.46 L88.56,444.57 L88.42,445.71 L88.28,446.87 L88.12,448.05 L87.96,449.25 L87.77,450.48 L87.57,451.73 L87.33,453.00 L87.06,454.29 L86.71,455.60 L86.23,456.93 L85.34,458.28 C85.70,463.27 96.70,463.27 97.09,458.28 L97.09,458.28 L96.23,456.93 L95.78,455.60 L95.46,454.29 L95.21,453.00 L95.00,451.73 L94.82,450.48 L94.66,449.25 L94.51,448.05 L94.38,446.87 L94.25,445.71 L94.14,444.57 L94.03,443.46 L93.92,442.37 L93.82,441.31 L93.72,440.27 L93.63,439.25 L93.54,438.26 L93.45,437.30 L93.36,436.36 L93.28,435.44 L93.19,434.56 L93.11,433.70 L93.03,432.87 L92.95,432.07 L92.87,431.30 L92.79,430.55 L92.71,429.84 L92.63,429.17 L92.55,428.52 L92.47,427.91 L92.39,427.33 L92.31,426.80 L92.23,426.30 L92.14,425.84 L92.05,425.42 L91.96,425.06 L91.87,424.74 L91.77,424.48 L91.65,424.29 L91.50,424.20 Z" fill="url(#gGv)"/>
<ellipse cx="85.70" cy="459.98" rx="1.76" ry="1.21" fill="#245f52" opacity="0.4" filter="url(#b5)"/>
<ellipse cx="96.70" cy="459.98" rx="1.76" ry="1.21" fill="#245f52" opacity="0.4" filter="url(#b5)"/>
<ellipse cx="91.20" cy="463.80" rx="5.81" ry="3.48" fill="url(#glowc)"/>
<ellipse cx="70.10" cy="471.30" rx="7.49" ry="4.86" fill="url(#glow)"/>
<path d="M68.80,430.20 L68.65,430.30 L68.53,430.49 L68.44,430.76 L68.35,431.09 L68.26,431.48 L68.18,431.91 L68.10,432.39 L68.03,432.91 L67.96,433.47 L67.89,434.07 L67.82,434.71 L67.76,435.38 L67.69,436.09 L67.63,436.83 L67.56,437.60 L67.50,438.40 L67.44,439.24 L67.38,440.11 L67.31,441.00 L67.25,441.93 L67.18,442.88 L67.12,443.86 L67.05,444.86 L66.98,445.90 L66.91,446.96 L66.84,448.04 L66.77,449.15 L66.69,450.29 L66.60,451.45 L66.51,452.63 L66.42,453.84 L66.31,455.07 L66.20,456.33 L66.07,457.61 L65.92,458.91 L65.75,460.23 L65.53,461.58 L65.26,462.94 L64.85,464.33 L64.03,465.74 C64.35,470.96 75.85,470.96 76.06,465.74 L76.06,465.74 L75.08,464.33 L74.54,462.94 L74.14,461.58 L73.82,460.23 L73.54,458.91 L73.29,457.61 L73.06,456.33 L72.86,455.07 L72.66,453.84 L72.48,452.63 L72.31,451.45 L72.15,450.29 L71.99,449.15 L71.85,448.04 L71.70,446.96 L71.56,445.90 L71.43,444.86 L71.30,443.86 L71.17,442.88 L71.05,441.93 L70.93,441.00 L70.81,440.11 L70.69,439.24 L70.58,438.40 L70.47,437.60 L70.36,436.83 L70.25,436.09 L70.14,435.38 L70.04,434.71 L69.93,434.07 L69.83,433.47 L69.72,432.91 L69.62,432.39 L69.52,431.91 L69.41,431.48 L69.31,431.09 L69.20,430.76 L69.08,430.49 L68.96,430.30 L68.80,430.20 Z" fill="url(#gG)"/>
<path d="M68.80,430.20 L68.65,430.30 L68.53,430.49 L68.44,430.76 L68.35,431.09 L68.26,431.48 L68.18,431.91 L68.10,432.39 L68.03,432.91 L67.96,433.47 L67.89,434.07 L67.82,434.71 L67.76,435.38 L67.69,436.09 L67.63,436.83 L67.56,437.60 L67.50,438.40 L67.44,439.24 L67.38,440.11 L67.31,441.00 L67.25,441.93 L67.18,442.88 L67.12,443.86 L67.05,444.86 L66.98,445.90 L66.91,446.96 L66.84,448.04 L66.77,449.15 L66.69,450.29 L66.60,451.45 L66.51,452.63 L66.42,453.84 L66.31,455.07 L66.20,456.33 L66.07,457.61 L65.92,458.91 L65.75,460.23 L65.53,461.58 L65.26,462.94 L64.85,464.33 L64.03,465.74 C64.35,470.96 75.85,470.96 76.06,465.74 L76.06,465.74 L75.08,464.33 L74.54,462.94 L74.14,461.58 L73.82,460.23 L73.54,458.91 L73.29,457.61 L73.06,456.33 L72.86,455.07 L72.66,453.84 L72.48,452.63 L72.31,451.45 L72.15,450.29 L71.99,449.15 L71.85,448.04 L71.70,446.96 L71.56,445.90 L71.43,444.86 L71.30,443.86 L71.17,442.88 L71.05,441.93 L70.93,441.00 L70.81,440.11 L70.69,439.24 L70.58,438.40 L70.47,437.60 L70.36,436.83 L70.25,436.09 L70.14,435.38 L70.04,434.71 L69.93,434.07 L69.83,433.47 L69.72,432.91 L69.62,432.39 L69.52,431.91 L69.41,431.48 L69.31,431.09 L69.20,430.76 L69.08,430.49 L68.96,430.30 L68.80,430.20 Z" fill="url(#gGv)"/>
<ellipse cx="64.35" cy="467.47" rx="1.84" ry="1.26" fill="#245f52" opacity="0.4" filter="url(#b5)"/>
<ellipse cx="75.85" cy="467.47" rx="1.84" ry="1.26" fill="#245f52" opacity="0.4" filter="url(#b5)"/>
<ellipse cx="70.10" cy="471.50" rx="6.07" ry="3.64" fill="url(#glowc)"/>
<ellipse cx="113.60" cy="468.70" rx="7.49" ry="4.86" fill="url(#glow)"/>
<path d="M115.30,428.20 L115.14,428.30 L115.01,428.49 L114.90,428.75 L114.79,429.08 L114.68,429.45 L114.57,429.88 L114.46,430.35 L114.35,430.86 L114.24,431.41 L114.13,432.00 L114.02,432.63 L113.91,433.29 L113.80,433.99 L113.68,434.72 L113.56,435.48 L113.44,436.27 L113.32,437.09 L113.20,437.94 L113.07,438.82 L112.94,439.73 L112.81,440.67 L112.67,441.63 L112.53,442.62 L112.39,443.64 L112.24,444.68 L112.09,445.75 L111.93,446.84 L111.76,447.96 L111.59,449.10 L111.40,450.26 L111.21,451.45 L111.00,452.66 L110.78,453.90 L110.54,455.15 L110.28,456.43 L109.98,457.73 L109.64,459.06 L109.22,460.40 L108.66,461.77 L107.66,463.16 C107.85,468.36 119.35,468.36 119.69,463.16 L119.69,463.16 L118.89,461.77 L118.51,460.40 L118.25,459.06 L118.05,457.73 L117.89,456.43 L117.76,455.15 L117.65,453.90 L117.54,452.66 L117.45,451.45 L117.37,450.26 L117.29,449.10 L117.22,447.96 L117.16,446.84 L117.09,445.75 L117.03,444.68 L116.97,443.64 L116.91,442.62 L116.85,441.63 L116.80,440.67 L116.74,439.73 L116.69,438.82 L116.63,437.94 L116.58,437.09 L116.52,436.27 L116.47,435.48 L116.41,434.72 L116.35,433.99 L116.30,433.29 L116.24,432.63 L116.17,432.00 L116.11,431.41 L116.04,430.86 L115.98,430.35 L115.90,429.88 L115.83,429.45 L115.75,429.08 L115.66,428.75 L115.56,428.49 L115.45,428.30 L115.30,428.20 Z" fill="url(#gG)"/>
<path d="M115.30,428.20 L115.14,428.30 L115.01,428.49 L114.90,428.75 L114.79,429.08 L114.68,429.45 L114.57,429.88 L114.46,430.35 L114.35,430.86 L114.24,431.41 L114.13,432.00 L114.02,432.63 L113.91,433.29 L113.80,433.99 L113.68,434.72 L113.56,435.48 L113.44,436.27 L113.32,437.09 L113.20,437.94 L113.07,438.82 L112.94,439.73 L112.81,440.67 L112.67,441.63 L112.53,442.62 L112.39,443.64 L112.24,444.68 L112.09,445.75 L111.93,446.84 L111.76,447.96 L111.59,449.10 L111.40,450.26 L111.21,451.45 L111.00,452.66 L110.78,453.90 L110.54,455.15 L110.28,456.43 L109.98,457.73 L109.64,459.06 L109.22,460.40 L108.66,461.77 L107.66,463.16 C107.85,468.36 119.35,468.36 119.69,463.16 L119.69,463.16 L118.89,461.77 L118.51,460.40 L118.25,459.06 L118.05,457.73 L117.89,456.43 L117.76,455.15 L117.65,453.90 L117.54,452.66 L117.45,451.45 L117.37,450.26 L117.29,449.10 L117.22,447.96 L117.16,446.84 L117.09,445.75 L117.03,444.68 L116.97,443.64 L116.91,442.62 L116.85,441.63 L116.80,440.67 L116.74,439.73 L116.69,438.82 L116.63,437.94 L116.58,437.09 L116.52,436.27 L116.47,435.48 L116.41,434.72 L116.35,433.99 L116.30,433.29 L116.24,432.63 L116.17,432.00 L116.11,431.41 L116.04,430.86 L115.98,430.35 L115.90,429.88 L115.83,429.45 L115.75,429.08 L115.66,428.75 L115.56,428.49 L115.45,428.30 L115.30,428.20 Z" fill="url(#gGv)"/>
<ellipse cx="107.85" cy="464.87" rx="1.84" ry="1.26" fill="#245f52" opacity="0.4" filter="url(#b5)"/>
<ellipse cx="119.35" cy="464.87" rx="1.84" ry="1.26" fill="#245f52" opacity="0.4" filter="url(#b5)"/>
<ellipse cx="113.60" cy="468.90" rx="6.07" ry="3.64" fill="url(#glowc)"/>
<ellipse cx="60.00" cy="487.30" rx="7.81" ry="5.07" fill="url(#glow)"/>
<path d="M59.60,444.40 L59.44,444.50 L59.32,444.71 L59.21,444.99 L59.11,445.33 L59.01,445.73 L58.92,446.18 L58.83,446.68 L58.74,447.23 L58.65,447.81 L58.57,448.44 L58.48,449.10 L58.40,449.81 L58.31,450.54 L58.23,451.32 L58.15,452.12 L58.06,452.96 L57.98,453.84 L57.89,454.74 L57.81,455.67 L57.72,456.64 L57.63,457.63 L57.54,458.66 L57.45,459.71 L57.35,460.79 L57.25,461.89 L57.15,463.02 L57.04,464.18 L56.93,465.37 L56.81,466.58 L56.69,467.82 L56.56,469.08 L56.42,470.36 L56.26,471.67 L56.09,473.01 L55.90,474.37 L55.68,475.75 L55.42,477.15 L55.08,478.58 L54.60,480.03 L53.69,481.50 C54.00,486.94 66.00,486.94 66.28,481.50 L66.28,481.50 L65.31,480.03 L64.80,478.58 L64.42,477.15 L64.12,475.75 L63.87,474.37 L63.65,473.01 L63.45,471.67 L63.27,470.36 L63.10,469.08 L62.94,467.82 L62.79,466.58 L62.65,465.37 L62.51,464.18 L62.39,463.02 L62.26,461.89 L62.14,460.79 L62.03,459.71 L61.91,458.66 L61.80,457.63 L61.70,456.64 L61.59,455.67 L61.49,454.74 L61.39,453.84 L61.29,452.96 L61.19,452.12 L61.09,451.32 L60.99,450.54 L60.90,449.81 L60.80,449.10 L60.70,448.44 L60.61,447.81 L60.51,447.23 L60.41,446.68 L60.31,446.18 L60.21,445.73 L60.11,445.33 L60.00,444.99 L59.89,444.71 L59.77,444.50 L59.60,444.40 Z" fill="url(#gG)"/>
<path d="M59.60,444.40 L59.44,444.50 L59.32,444.71 L59.21,444.99 L59.11,445.33 L59.01,445.73 L58.92,446.18 L58.83,446.68 L58.74,447.23 L58.65,447.81 L58.57,448.44 L58.48,449.10 L58.40,449.81 L58.31,450.54 L58.23,451.32 L58.15,452.12 L58.06,452.96 L57.98,453.84 L57.89,454.74 L57.81,455.67 L57.72,456.64 L57.63,457.63 L57.54,458.66 L57.45,459.71 L57.35,460.79 L57.25,461.89 L57.15,463.02 L57.04,464.18 L56.93,465.37 L56.81,466.58 L56.69,467.82 L56.56,469.08 L56.42,470.36 L56.26,471.67 L56.09,473.01 L55.90,474.37 L55.68,475.75 L55.42,477.15 L55.08,478.58 L54.60,480.03 L53.69,481.50 C54.00,486.94 66.00,486.94 66.28,481.50 L66.28,481.50 L65.31,480.03 L64.80,478.58 L64.42,477.15 L64.12,475.75 L63.87,474.37 L63.65,473.01 L63.45,471.67 L63.27,470.36 L63.10,469.08 L62.94,467.82 L62.79,466.58 L62.65,465.37 L62.51,464.18 L62.39,463.02 L62.26,461.89 L62.14,460.79 L62.03,459.71 L61.91,458.66 L61.80,457.63 L61.70,456.64 L61.59,455.67 L61.49,454.74 L61.39,453.84 L61.29,452.96 L61.19,452.12 L61.09,451.32 L60.99,450.54 L60.90,449.81 L60.80,449.10 L60.70,448.44 L60.61,447.81 L60.51,447.23 L60.41,446.68 L60.31,446.18 L60.21,445.73 L60.11,445.33 L60.00,444.99 L59.89,444.71 L59.77,444.50 L59.60,444.40 Z" fill="url(#gGv)"/>
<ellipse cx="54.00" cy="483.26" rx="1.92" ry="1.32" fill="#245f52" opacity="0.4" filter="url(#b5)"/>
<ellipse cx="66.00" cy="483.26" rx="1.92" ry="1.32" fill="#245f52" opacity="0.4" filter="url(#b5)"/>
<ellipse cx="60.00" cy="487.50" rx="6.34" ry="3.80" fill="url(#glowc)"/>
<ellipse cx="128.20" cy="482.80" rx="7.81" ry="5.07" fill="url(#glow)"/>
<path d="M128.30,441.40 L128.13,441.50 L128.01,441.70 L127.90,441.96 L127.80,442.30 L127.70,442.68 L127.60,443.11 L127.50,443.59 L127.41,444.11 L127.31,444.68 L127.22,445.28 L127.13,445.92 L127.04,446.59 L126.95,447.30 L126.86,448.04 L126.76,448.82 L126.67,449.63 L126.58,450.46 L126.48,451.33 L126.38,452.23 L126.28,453.15 L126.18,454.11 L126.08,455.09 L125.98,456.10 L125.87,457.14 L125.76,458.20 L125.64,459.29 L125.52,460.40 L125.39,461.54 L125.26,462.70 L125.12,463.89 L124.97,465.10 L124.82,466.33 L124.64,467.59 L124.46,468.87 L124.24,470.18 L124.00,471.50 L123.72,472.85 L123.36,474.23 L122.86,475.62 L121.91,477.03 C122.20,482.44 134.20,482.44 134.50,477.03 L134.50,477.03 L133.57,475.62 L133.07,474.23 L132.72,472.85 L132.45,471.50 L132.21,470.18 L132.01,468.87 L131.83,467.59 L131.66,466.33 L131.51,465.10 L131.37,463.89 L131.24,462.70 L131.11,461.54 L130.99,460.40 L130.88,459.29 L130.77,458.20 L130.66,457.14 L130.56,456.10 L130.46,455.09 L130.36,454.11 L130.26,453.15 L130.17,452.23 L130.07,451.33 L129.98,450.46 L129.89,449.63 L129.80,448.82 L129.71,448.04 L129.63,447.30 L129.54,446.59 L129.45,445.92 L129.36,445.28 L129.27,444.68 L129.18,444.11 L129.09,443.59 L129.00,443.11 L128.90,442.68 L128.80,442.30 L128.70,441.96 L128.59,441.70 L128.46,441.50 L128.30,441.40 Z" fill="url(#gG)"/>
<path d="M128.30,441.40 L128.13,441.50 L128.01,441.70 L127.90,441.96 L127.80,442.30 L127.70,442.68 L127.60,443.11 L127.50,443.59 L127.41,444.11 L127.31,444.68 L127.22,445.28 L127.13,445.92 L127.04,446.59 L126.95,447.30 L126.86,448.04 L126.76,448.82 L126.67,449.63 L126.58,450.46 L126.48,451.33 L126.38,452.23 L126.28,453.15 L126.18,454.11 L126.08,455.09 L125.98,456.10 L125.87,457.14 L125.76,458.20 L125.64,459.29 L125.52,460.40 L125.39,461.54 L125.26,462.70 L125.12,463.89 L124.97,465.10 L124.82,466.33 L124.64,467.59 L124.46,468.87 L124.24,470.18 L124.00,471.50 L123.72,472.85 L123.36,474.23 L122.86,475.62 L121.91,477.03 C122.20,482.44 134.20,482.44 134.50,477.03 L134.50,477.03 L133.57,475.62 L133.07,474.23 L132.72,472.85 L132.45,471.50 L132.21,470.18 L132.01,468.87 L131.83,467.59 L131.66,466.33 L131.51,465.10 L131.37,463.89 L131.24,462.70 L131.11,461.54 L130.99,460.40 L130.88,459.29 L130.77,458.20 L130.66,457.14 L130.56,456.10 L130.46,455.09 L130.36,454.11 L130.26,453.15 L130.17,452.23 L130.07,451.33 L129.98,450.46 L129.89,449.63 L129.80,448.82 L129.71,448.04 L129.63,447.30 L129.54,446.59 L129.45,445.92 L129.36,445.28 L129.27,444.68 L129.18,444.11 L129.09,443.59 L129.00,443.11 L128.90,442.68 L128.80,442.30 L128.70,441.96 L128.59,441.70 L128.46,441.50 L128.30,441.40 Z" fill="url(#gGv)"/>
<ellipse cx="122.20" cy="478.76" rx="1.92" ry="1.32" fill="#245f52" opacity="0.4" filter="url(#b5)"/>
<ellipse cx="134.20" cy="478.76" rx="1.92" ry="1.32" fill="#245f52" opacity="0.4" filter="url(#b5)"/>
<ellipse cx="128.20" cy="483.00" rx="6.34" ry="3.80" fill="url(#glowc)"/>
<ellipse cx="72.00" cy="502.60" rx="8.47" ry="5.49" fill="url(#glow)"/>
<path d="M71.60,462.00 L71.43,462.09 L71.30,462.29 L71.18,462.55 L71.07,462.87 L70.97,463.24 L70.87,463.65 L70.77,464.12 L70.68,464.62 L70.59,465.17 L70.49,465.75 L70.40,466.36 L70.31,467.02 L70.22,467.70 L70.14,468.42 L70.05,469.17 L69.96,469.95 L69.86,470.76 L69.77,471.60 L69.68,472.46 L69.59,473.36 L69.49,474.28 L69.39,475.23 L69.29,476.21 L69.19,477.21 L69.08,478.23 L68.97,479.29 L68.86,480.36 L68.74,481.46 L68.62,482.59 L68.48,483.73 L68.34,484.90 L68.19,486.10 L68.02,487.31 L67.84,488.55 L67.64,489.81 L67.40,491.09 L67.12,492.40 L66.76,493.72 L66.25,495.07 L65.27,496.44 C65.50,502.21 78.50,502.21 78.70,496.44 L78.70,496.44 L77.67,495.07 L77.12,493.72 L76.72,492.40 L76.41,491.09 L76.14,489.81 L75.90,488.55 L75.69,487.31 L75.49,486.10 L75.31,484.90 L75.15,483.73 L74.99,482.59 L74.84,481.46 L74.70,480.36 L74.56,479.29 L74.43,478.23 L74.30,477.21 L74.18,476.21 L74.06,475.23 L73.94,474.28 L73.83,473.36 L73.72,472.46 L73.61,471.60 L73.50,470.76 L73.39,469.95 L73.29,469.17 L73.18,468.42 L73.08,467.70 L72.98,467.02 L72.88,466.36 L72.77,465.75 L72.67,465.17 L72.57,464.62 L72.47,464.12 L72.36,463.65 L72.25,463.24 L72.14,462.87 L72.03,462.55 L71.91,462.29 L71.78,462.09 L71.60,462.00 Z" fill="url(#gG)"/>
<path d="M71.60,462.00 L71.43,462.09 L71.30,462.29 L71.18,462.55 L71.07,462.87 L70.97,463.24 L70.87,463.65 L70.77,464.12 L70.68,464.62 L70.59,465.17 L70.49,465.75 L70.40,466.36 L70.31,467.02 L70.22,467.70 L70.14,468.42 L70.05,469.17 L69.96,469.95 L69.86,470.76 L69.77,471.60 L69.68,472.46 L69.59,473.36 L69.49,474.28 L69.39,475.23 L69.29,476.21 L69.19,477.21 L69.08,478.23 L68.97,479.29 L68.86,480.36 L68.74,481.46 L68.62,482.59 L68.48,483.73 L68.34,484.90 L68.19,486.10 L68.02,487.31 L67.84,488.55 L67.64,489.81 L67.40,491.09 L67.12,492.40 L66.76,493.72 L66.25,495.07 L65.27,496.44 C65.50,502.21 78.50,502.21 78.70,496.44 L78.70,496.44 L77.67,495.07 L77.12,493.72 L76.72,492.40 L76.41,491.09 L76.14,489.81 L75.90,488.55 L75.69,487.31 L75.49,486.10 L75.31,484.90 L75.15,483.73 L74.99,482.59 L74.84,481.46 L74.70,480.36 L74.56,479.29 L74.43,478.23 L74.30,477.21 L74.18,476.21 L74.06,475.23 L73.94,474.28 L73.83,473.36 L73.72,472.46 L73.61,471.60 L73.50,470.76 L73.39,469.95 L73.29,469.17 L73.18,468.42 L73.08,467.70 L72.98,467.02 L72.88,466.36 L72.77,465.75 L72.67,465.17 L72.57,464.62 L72.47,464.12 L72.36,463.65 L72.25,463.24 L72.14,462.87 L72.03,462.55 L71.91,462.29 L71.78,462.09 L71.60,462.00 Z" fill="url(#gGv)"/>
<ellipse cx="65.50" cy="498.14" rx="2.08" ry="1.43" fill="#245f52" opacity="0.4" filter="url(#b5)"/>
<ellipse cx="78.50" cy="498.14" rx="2.08" ry="1.43" fill="#245f52" opacity="0.4" filter="url(#b5)"/>
<ellipse cx="72.00" cy="502.80" rx="6.86" ry="4.12" fill="url(#glowc)"/>
<ellipse cx="120.30" cy="500.20" rx="8.47" ry="5.49" fill="url(#glow)"/>
<path d="M121.80,456.30 L121.62,456.40 L121.48,456.61 L121.36,456.90 L121.23,457.25 L121.12,457.65 L121.00,458.11 L120.88,458.62 L120.76,459.17 L120.65,459.76 L120.53,460.40 L120.41,461.07 L120.29,461.79 L120.17,462.54 L120.05,463.32 L119.93,464.14 L119.80,465.00 L119.68,465.88 L119.55,466.80 L119.41,467.75 L119.28,468.73 L119.14,469.74 L118.99,470.77 L118.85,471.84 L118.70,472.94 L118.54,474.06 L118.38,475.21 L118.21,476.39 L118.04,477.59 L117.85,478.82 L117.66,480.07 L117.46,481.35 L117.24,482.66 L117.01,483.99 L116.76,485.35 L116.48,486.72 L116.16,488.13 L115.80,489.55 L115.35,491.00 L114.74,492.48 L113.65,493.97 C113.80,499.81 126.80,499.81 127.08,493.97 L127.08,493.97 L126.17,492.48 L125.71,491.00 L125.41,489.55 L125.17,488.13 L124.98,486.72 L124.81,485.35 L124.67,483.99 L124.55,482.66 L124.43,481.35 L124.33,480.07 L124.23,478.82 L124.14,477.59 L124.05,476.39 L123.97,475.21 L123.89,474.06 L123.81,472.94 L123.73,471.84 L123.66,470.77 L123.59,469.74 L123.52,468.73 L123.45,467.75 L123.38,466.80 L123.31,465.88 L123.24,465.00 L123.17,464.14 L123.10,463.32 L123.03,462.54 L122.96,461.79 L122.89,461.07 L122.81,460.40 L122.73,459.76 L122.65,459.17 L122.57,458.62 L122.49,458.11 L122.40,457.65 L122.31,457.25 L122.21,456.90 L122.10,456.61 L121.97,456.40 L121.80,456.30 Z" fill="url(#gG)"/>
<path d="M121.80,456.30 L121.62,456.40 L121.48,456.61 L121.36,456.90 L121.23,457.25 L121.12,457.65 L121.00,458.11 L120.88,458.62 L120.76,459.17 L120.65,459.76 L120.53,460.40 L120.41,461.07 L120.29,461.79 L120.17,462.54 L120.05,463.32 L119.93,464.14 L119.80,465.00 L119.68,465.88 L119.55,466.80 L119.41,467.75 L119.28,468.73 L119.14,469.74 L118.99,470.77 L118.85,471.84 L118.70,472.94 L118.54,474.06 L118.38,475.21 L118.21,476.39 L118.04,477.59 L117.85,478.82 L117.66,480.07 L117.46,481.35 L117.24,482.66 L117.01,483.99 L116.76,485.35 L116.48,486.72 L116.16,488.13 L115.80,489.55 L115.35,491.00 L114.74,492.48 L113.65,493.97 C113.80,499.81 126.80,499.81 127.08,493.97 L127.08,493.97 L126.17,492.48 L125.71,491.00 L125.41,489.55 L125.17,488.13 L124.98,486.72 L124.81,485.35 L124.67,483.99 L124.55,482.66 L124.43,481.35 L124.33,480.07 L124.23,478.82 L124.14,477.59 L124.05,476.39 L123.97,475.21 L123.89,474.06 L123.81,472.94 L123.73,471.84 L123.66,470.77 L123.59,469.74 L123.52,468.73 L123.45,467.75 L123.38,466.80 L123.31,465.88 L123.24,465.00 L123.17,464.14 L123.10,463.32 L123.03,462.54 L122.96,461.79 L122.89,461.07 L122.81,460.40 L122.73,459.76 L122.65,459.17 L122.57,458.62 L122.49,458.11 L122.40,457.65 L122.31,457.25 L122.21,456.90 L122.10,456.61 L121.97,456.40 L121.80,456.30 Z" fill="url(#gGv)"/>
<ellipse cx="113.80" cy="495.74" rx="2.08" ry="1.43" fill="#245f52" opacity="0.4" filter="url(#b5)"/>
<ellipse cx="126.80" cy="495.74" rx="2.08" ry="1.43" fill="#245f52" opacity="0.4" filter="url(#b5)"/>
<ellipse cx="120.30" cy="500.40" rx="6.86" ry="4.12" fill="url(#glowc)"/>
<ellipse cx="97.50" cy="508.40" rx="8.79" ry="5.70" fill="url(#glow)"/>
<path d="M97.50,463.80 L97.32,463.90 L97.19,464.12 L97.07,464.40 L96.95,464.76 L96.84,465.17 L96.74,465.63 L96.64,466.15 L96.54,466.71 L96.44,467.31 L96.34,467.95 L96.24,468.64 L96.14,469.36 L96.04,470.12 L95.94,470.91 L95.84,471.74 L95.75,472.61 L95.64,473.50 L95.54,474.43 L95.44,475.39 L95.33,476.39 L95.23,477.41 L95.12,478.46 L95.01,479.54 L94.89,480.65 L94.77,481.79 L94.65,482.95 L94.52,484.14 L94.39,485.36 L94.25,486.61 L94.10,487.88 L93.94,489.17 L93.77,490.50 L93.59,491.84 L93.39,493.22 L93.16,494.61 L92.90,496.03 L92.60,497.48 L92.21,498.95 L91.67,500.44 L90.65,501.95 C90.75,507.99 104.25,507.99 104.35,501.95 L104.35,501.95 L103.33,500.44 L102.79,498.95 L102.40,497.48 L102.10,496.03 L101.84,494.61 L101.61,493.22 L101.41,491.84 L101.23,490.50 L101.06,489.17 L100.90,487.88 L100.75,486.61 L100.61,485.36 L100.48,484.14 L100.35,482.95 L100.23,481.79 L100.11,480.65 L99.99,479.54 L99.88,478.46 L99.77,477.41 L99.67,476.39 L99.56,475.39 L99.46,474.43 L99.36,473.50 L99.25,472.61 L99.16,471.74 L99.06,470.91 L98.96,470.12 L98.86,469.36 L98.76,468.64 L98.66,467.95 L98.56,467.31 L98.46,466.71 L98.36,466.15 L98.26,465.63 L98.16,465.17 L98.05,464.76 L97.93,464.40 L97.81,464.12 L97.68,463.90 L97.50,463.80 Z" fill="url(#gG)"/>
<path d="M97.50,463.80 L97.32,463.90 L97.19,464.12 L97.07,464.40 L96.95,464.76 L96.84,465.17 L96.74,465.63 L96.64,466.15 L96.54,466.71 L96.44,467.31 L96.34,467.95 L96.24,468.64 L96.14,469.36 L96.04,470.12 L95.94,470.91 L95.84,471.74 L95.75,472.61 L95.64,473.50 L95.54,474.43 L95.44,475.39 L95.33,476.39 L95.23,477.41 L95.12,478.46 L95.01,479.54 L94.89,480.65 L94.77,481.79 L94.65,482.95 L94.52,484.14 L94.39,485.36 L94.25,486.61 L94.10,487.88 L93.94,489.17 L93.77,490.50 L93.59,491.84 L93.39,493.22 L93.16,494.61 L92.90,496.03 L92.60,497.48 L92.21,498.95 L91.67,500.44 L90.65,501.95 C90.75,507.99 104.25,507.99 104.35,501.95 L104.35,501.95 L103.33,500.44 L102.79,498.95 L102.40,497.48 L102.10,496.03 L101.84,494.61 L101.61,493.22 L101.41,491.84 L101.23,490.50 L101.06,489.17 L100.90,487.88 L100.75,486.61 L100.61,485.36 L100.48,484.14 L100.35,482.95 L100.23,481.79 L100.11,480.65 L99.99,479.54 L99.88,478.46 L99.77,477.41 L99.67,476.39 L99.56,475.39 L99.46,474.43 L99.36,473.50 L99.25,472.61 L99.16,471.74 L99.06,470.91 L98.96,470.12 L98.86,469.36 L98.76,468.64 L98.66,467.95 L98.56,467.31 L98.46,466.71 L98.36,466.15 L98.26,465.63 L98.16,465.17 L98.05,464.76 L97.93,464.40 L97.81,464.12 L97.68,463.90 L97.50,463.80 Z" fill="url(#gGv)"/>
<ellipse cx="90.75" cy="503.73" rx="2.16" ry="1.49" fill="#245f52" opacity="0.4" filter="url(#b5)"/>
<ellipse cx="104.25" cy="503.73" rx="2.16" ry="1.49" fill="#245f52" opacity="0.4" filter="url(#b5)"/>
<ellipse cx="97.50" cy="508.60" rx="7.13" ry="4.28" fill="url(#glowc)"/>
<line x1="197.30" y1="41.50" x2="270.80" y2="3.90" stroke="#8c8c8c" stroke-width="0.70" />
<line x1="270.80" y1="3.90" x2="353.60" y2="34.90" stroke="#8c8c8c" stroke-width="0.70" />
<line x1="270.80" y1="3.90" x2="270.80" y2="82.80" stroke="#9c9c9c" stroke-width="0.65" />
<line x1="353.60" y1="34.90" x2="344.00" y2="118.50" stroke="#9c9c9c" stroke-width="0.65" />
<line x1="207.30" y1="125.00" x2="270.80" y2="82.80" stroke="#8c8c8c" stroke-width="0.50" />
<line x1="344.00" y1="118.50" x2="270.80" y2="82.80" stroke="#8c8c8c" stroke-width="0.50" />
<polygon points="203.00,86.70 283.40,131.90 348.40,80.20 270.70,45.60" fill="#45b4a0" />
<clipPath id="cp41"><polygon points="203.00,86.70 283.40,131.90 348.40,80.20 270.70,45.60"/></clipPath>
<g clip-path="url(#cp41)" opacity="0.3">
<line x1="207.30" y1="125.00" x2="270.80" y2="82.80" stroke="#2a6a5e" stroke-width="0.60" />
<line x1="344.00" y1="118.50" x2="270.80" y2="82.80" stroke="#2a6a5e" stroke-width="0.60" />
</g>
<line x1="207.30" y1="125.00" x2="283.00" y2="173.50" stroke="#3a3a3a" stroke-width="0.70" />
<line x1="283.00" y1="173.50" x2="344.00" y2="118.50" stroke="#3a3a3a" stroke-width="0.70" />
<line x1="197.30" y1="41.50" x2="207.30" y2="125.00" stroke="#3a3a3a" stroke-width="0.80" />
<line x1="212.81" y1="128.53" x2="212.11" y2="129.53" stroke="#3a3a3a" stroke-width="0.45" />
<line x1="218.45" y1="132.14" x2="216.95" y2="134.24" stroke="#3a3a3a" stroke-width="0.55" />
<text x="214.85" y="135.54" font-size="3.70" text-anchor="middle" fill="#3a3a3a" transform="rotate(0.0 214.85 135.54)" dominant-baseline="central" stroke="#4a4a4a" stroke-width="0.2">4</text>
<line x1="224.22" y1="135.84" x2="223.52" y2="136.84" stroke="#3a3a3a" stroke-width="0.45" />
<line x1="230.12" y1="139.62" x2="228.62" y2="141.72" stroke="#3a3a3a" stroke-width="0.55" />
<text x="226.52" y="143.02" font-size="3.70" text-anchor="middle" fill="#3a3a3a" transform="rotate(0.0 226.52 143.02)" dominant-baseline="central" stroke="#4a4a4a" stroke-width="0.2">2</text>
<line x1="236.18" y1="143.50" x2="235.48" y2="144.50" stroke="#3a3a3a" stroke-width="0.45" />
<line x1="242.37" y1="147.47" x2="240.87" y2="149.57" stroke="#3a3a3a" stroke-width="0.55" />
<text x="238.77" y="150.87" font-size="3.70" text-anchor="middle" fill="#3a3a3a" transform="rotate(0.0 238.77 150.87)" dominant-baseline="central" stroke="#4a4a4a" stroke-width="0.2">0</text>
<line x1="248.73" y1="151.54" x2="248.03" y2="152.54" stroke="#3a3a3a" stroke-width="0.45" />
<line x1="255.24" y1="155.71" x2="253.74" y2="157.81" stroke="#3a3a3a" stroke-width="0.55" />
<text x="251.64" y="159.11" font-size="3.70" text-anchor="middle" fill="#3a3a3a" transform="rotate(0.0 251.64 159.11)" dominant-baseline="central" stroke="#4a4a4a" stroke-width="0.2">-2</text>
<line x1="261.91" y1="159.99" x2="261.21" y2="160.99" stroke="#3a3a3a" stroke-width="0.45" />
<line x1="268.76" y1="164.38" x2="267.26" y2="166.48" stroke="#3a3a3a" stroke-width="0.55" />
<text x="265.16" y="167.78" font-size="3.70" text-anchor="middle" fill="#3a3a3a" transform="rotate(0.0 265.16 167.78)" dominant-baseline="central" stroke="#4a4a4a" stroke-width="0.2">-4</text>
<line x1="275.79" y1="168.88" x2="275.09" y2="169.88" stroke="#3a3a3a" stroke-width="0.45" />
<line x1="283.00" y1="173.50" x2="281.50" y2="175.60" stroke="#3a3a3a" stroke-width="0.55" />
<text x="279.40" y="176.90" font-size="3.70" text-anchor="middle" fill="#3a3a3a" transform="rotate(0.0 279.40 176.90)" dominant-baseline="central" stroke="#4a4a4a" stroke-width="0.2">-6</text>
<line x1="283.00" y1="173.50" x2="284.90" y2="175.30" stroke="#3a3a3a" stroke-width="0.55" />
<text x="287.60" y="176.50" font-size="3.70" text-anchor="middle" fill="#3a3a3a" transform="rotate(0.0 287.60 176.50)" dominant-baseline="central" stroke="#4a4a4a" stroke-width="0.2">-6</text>
<line x1="288.87" y1="168.21" x2="289.77" y2="169.11" stroke="#3a3a3a" stroke-width="0.45" />
<line x1="294.58" y1="163.06" x2="296.48" y2="164.86" stroke="#3a3a3a" stroke-width="0.55" />
<text x="299.18" y="166.06" font-size="3.70" text-anchor="middle" fill="#3a3a3a" transform="rotate(0.0 299.18 166.06)" dominant-baseline="central" stroke="#4a4a4a" stroke-width="0.2">-4</text>
<line x1="300.13" y1="158.05" x2="301.03" y2="158.95" stroke="#3a3a3a" stroke-width="0.45" />
<line x1="305.53" y1="153.18" x2="307.43" y2="154.98" stroke="#3a3a3a" stroke-width="0.55" />
<text x="310.13" y="156.18" font-size="3.70" text-anchor="middle" fill="#3a3a3a" transform="rotate(0.0 310.13 156.18)" dominant-baseline="central" stroke="#4a4a4a" stroke-width="0.2">-2</text>
<line x1="310.79" y1="148.44" x2="311.69" y2="149.34" stroke="#3a3a3a" stroke-width="0.45" />
<line x1="315.91" y1="143.83" x2="317.81" y2="145.63" stroke="#3a3a3a" stroke-width="0.55" />
<text x="320.51" y="146.83" font-size="3.70" text-anchor="middle" fill="#3a3a3a" transform="rotate(0.0 320.51 146.83)" dominant-baseline="central" stroke="#4a4a4a" stroke-width="0.2">0</text>
<line x1="320.89" y1="139.33" x2="321.79" y2="140.23" stroke="#3a3a3a" stroke-width="0.45" />
<line x1="325.75" y1="134.95" x2="327.65" y2="136.75" stroke="#3a3a3a" stroke-width="0.55" />
<text x="330.35" y="137.95" font-size="3.70" text-anchor="middle" fill="#3a3a3a" transform="rotate(0.0 330.35 137.95)" dominant-baseline="central" stroke="#4a4a4a" stroke-width="0.2">2</text>
<line x1="330.49" y1="130.68" x2="331.39" y2="131.58" stroke="#3a3a3a" stroke-width="0.45" />
<line x1="335.10" y1="126.52" x2="337.00" y2="128.32" stroke="#3a3a3a" stroke-width="0.55" />
<text x="339.70" y="129.52" font-size="3.70" text-anchor="middle" fill="#3a3a3a" transform="rotate(0.0 339.70 129.52)" dominant-baseline="central" stroke="#4a4a4a" stroke-width="0.2">4</text>
<line x1="339.61" y1="122.46" x2="340.51" y2="123.36" stroke="#3a3a3a" stroke-width="0.45" />
<line x1="344.00" y1="118.50" x2="345.90" y2="120.30" stroke="#3a3a3a" stroke-width="0.55" />
<text x="348.60" y="121.50" font-size="3.70" text-anchor="middle" fill="#3a3a3a" transform="rotate(0.0 348.60 121.50)" dominant-baseline="central" stroke="#4a4a4a" stroke-width="0.2">6</text>
<line x1="198.14" y1="48.50" x2="196.14" y2="48.80" stroke="#3a3a3a" stroke-width="0.55" />
<text x="191.84" y="51.30" font-size="4.20" text-anchor="middle" fill="#3a3a3a" transform="rotate(-27.0 191.84 51.30)" dominant-baseline="central" stroke="#4a4a4a" stroke-width="0.1" font-style="italic">0.3</text>
<line x1="198.96" y1="55.35" x2="197.96" y2="55.50" stroke="#3a3a3a" stroke-width="0.45" />
<line x1="199.78" y1="62.20" x2="197.78" y2="62.50" stroke="#3a3a3a" stroke-width="0.55" />
<text x="193.48" y="65.00" font-size="4.20" text-anchor="middle" fill="#3a3a3a" transform="rotate(-27.0 193.48 65.00)" dominant-baseline="central" stroke="#4a4a4a" stroke-width="0.1" font-style="italic">0.2</text>
<line x1="200.54" y1="68.55" x2="199.54" y2="68.70" stroke="#3a3a3a" stroke-width="0.45" />
<line x1="201.30" y1="74.90" x2="199.30" y2="75.20" stroke="#3a3a3a" stroke-width="0.55" />
<text x="195.00" y="77.70" font-size="4.20" text-anchor="middle" fill="#3a3a3a" transform="rotate(-27.0 195.00 77.70)" dominant-baseline="central" stroke="#4a4a4a" stroke-width="0.1" font-style="italic">0.1</text>
<line x1="202.01" y1="80.80" x2="201.01" y2="80.95" stroke="#3a3a3a" stroke-width="0.45" />
<line x1="202.71" y1="86.70" x2="200.71" y2="87.00" stroke="#3a3a3a" stroke-width="0.55" />
<text x="196.41" y="89.50" font-size="4.20" text-anchor="middle" fill="#3a3a3a" transform="rotate(-27.0 196.41 89.50)" dominant-baseline="central" stroke="#4a4a4a" stroke-width="0.1" font-style="italic">0.0</text>
<line x1="203.42" y1="92.60" x2="202.42" y2="92.75" stroke="#3a3a3a" stroke-width="0.45" />
<line x1="204.13" y1="98.50" x2="202.13" y2="98.80" stroke="#3a3a3a" stroke-width="0.55" />
<text x="197.33" y="101.30" font-size="3.90" text-anchor="middle" fill="#3a3a3a" transform="rotate(-27.0 197.33 101.30)" dominant-baseline="central" stroke="#4a4a4a" stroke-width="0.1" font-style="italic">-0.1</text>
<line x1="204.84" y1="104.45" x2="203.84" y2="104.60" stroke="#3a3a3a" stroke-width="0.45" />
<line x1="205.55" y1="110.40" x2="203.55" y2="110.70" stroke="#3a3a3a" stroke-width="0.55" />
<text x="198.75" y="113.20" font-size="3.90" text-anchor="middle" fill="#3a3a3a" transform="rotate(-27.0 198.75 113.20)" dominant-baseline="central" stroke="#4a4a4a" stroke-width="0.1" font-style="italic">-0.2</text>
<line x1="206.26" y1="116.30" x2="205.26" y2="116.45" stroke="#3a3a3a" stroke-width="0.45" />
<line x1="206.96" y1="122.20" x2="204.96" y2="122.50" stroke="#3a3a3a" stroke-width="0.55" />
<text x="200.16" y="125.00" font-size="3.90" text-anchor="middle" fill="#3a3a3a" transform="rotate(-27.0 200.16 125.00)" dominant-baseline="central" stroke="#4a4a4a" stroke-width="0.1" font-style="italic">-0.3</text>
<text x="205.70" y="20.60" font-size="11.80" text-anchor="start" fill="#454545" transform="rotate(0.0 205.70 20.60)" stroke="#454545" stroke-width="0.2" letter-spacing="-0.1">(d)</text>
<text x="232.20" y="157.80" font-size="6.80" text-anchor="middle" fill="#2e2e2e" transform="rotate(34.8 232.20 157.80)" stroke="#2e2e2e" stroke-width="0.26" letter-spacing="0.1">Re( <tspan font-size='5' font-style='italic'>β</tspan> )</text>
<text x="327.60" y="151.80" font-size="6.80" text-anchor="middle" fill="#2e2e2e" transform="rotate(-33.3 327.60 151.80)" stroke="#2e2e2e" stroke-width="0.26" letter-spacing="0.1">Im( <tspan font-size='5' font-style='italic'>β</tspan> )</text>
<text x="186.20" y="95.80" font-size="6.60" text-anchor="middle" fill="#2e2e2e" transform="rotate(90.0 186.20 95.80)" stroke="#2e2e2e" stroke-width="0.12"><tspan font-weight='bold'>W</tspan><tspan font-size='2.3' dy='1.5'>|ψ⟩</tspan><tspan dy='-1.5' font-size='7.6'>(</tspan><tspan font-size='5.4' font-style='italic'>β</tspan><tspan font-size='7.6'>)</tspan></text>
<path d="M299.00,30.40 L298.70,33.22 L298.45,35.30 L298.20,37.18 L297.95,38.94 L297.69,40.61 L297.41,42.21 L297.12,43.76 L296.80,45.27 L296.47,46.73 L296.11,48.17 L295.72,49.58 L295.30,50.96 L294.83,52.32 L294.32,53.66 L293.76,54.98 L293.14,56.28 L292.44,57.57 L291.65,58.84 L290.75,60.10 L289.72,61.34 L288.52,62.57 L287.11,63.79 L285.44,65.00 L283.40,66.20 Q295.60,68.88 302.20,73.40 Q302.65,69.75 311.60,69.70 L309.96,68.38 L308.60,67.06 L307.46,65.72 L306.50,64.37 L305.66,63.00 L304.94,61.62 L304.30,60.23 L303.74,58.81 L303.23,57.38 L302.78,55.93 L302.37,54.46 L301.99,52.97 L301.65,51.45 L301.33,49.91 L301.04,48.33 L300.77,46.72 L300.52,45.07 L300.29,43.36 L300.06,41.60 L299.85,39.77 L299.64,37.85 L299.45,35.78 L299.24,33.49 L299.00,30.40 Z" fill="url(#gC)"/>
<path d="M299.00,30.40 L299.13,33.65 L299.26,36.06 L299.39,38.23 L299.54,40.26 L299.69,42.18 L299.85,44.04 L300.01,45.83 L300.19,47.56 L300.38,49.26 L300.59,50.92 L300.80,52.54 L301.03,54.14 L301.28,55.71 L301.55,57.26 L301.83,58.78 L302.15,60.28 L302.49,61.77 L302.86,63.24 L301.16,64.56 L301.00,63.03 L300.84,61.49 L300.69,59.92 L300.54,58.34 L300.39,56.73 L300.25,55.10 L300.11,53.44 L299.97,51.75 L299.84,50.02 L299.72,48.26 L299.60,46.45 L299.49,44.58 L299.38,42.66 L299.28,40.66 L299.19,38.55 L299.11,36.29 L299.04,33.78 L299.00,30.40 Z" fill="#106058" opacity="0.50"/>
<ellipse cx="294.91" cy="69.06" rx="7.25" ry="3.14" fill="#92f9ea" opacity="0.95" filter="url(#b5)" transform="rotate(10.5 294.91 69.06)"/>
<ellipse cx="303.06" cy="70.11" rx="3.64" ry="1.68" fill="#92f9ea" opacity="0.95" filter="url(#b5)" transform="rotate(-10.7 303.06 70.11)"/>
<path d="M297.12,43.76 L296.80,45.27 L296.47,46.73 L296.11,48.17 L295.72,49.58 L295.30,50.96 L294.83,52.32 L294.32,53.66 L293.76,54.98 L293.14,56.28 L292.44,57.57 L291.65,58.84 L290.75,60.10 L289.72,61.34 L288.52,62.57 L287.11,63.79 L285.44,65.00 L287.11,65.50 L288.76,64.29 L290.14,63.07 L291.31,61.84 L292.31,60.60 L293.18,59.34 L293.94,58.07 L294.61,56.78 L295.21,55.48 L295.74,54.16 L296.22,52.82 L296.66,51.46 L297.05,50.08 L297.41,48.67 L297.73,47.23 L298.04,45.77 L298.31,44.26 Z" fill="#7ef0d6" opacity="0.5"/>
<path d="M299.49,44.58 L299.60,46.45 L299.72,48.26 L299.84,50.02 L299.97,51.75 L300.11,53.44 L300.25,55.10 L300.39,56.73 L300.54,58.34 L300.69,59.92 L300.84,61.49 L301.00,63.03 L301.16,64.56 L301.33,66.07 L301.50,67.56 L301.67,69.04 L301.84,70.51 L302.02,71.96 L302.20,73.40" fill="none" stroke="#154f46" stroke-width="0.7" opacity="0.6" stroke-linecap="round"/>
<path d="M296.47,46.73 L296.11,48.17 L295.72,49.58 L295.30,50.96 L294.83,52.32 L294.32,53.66 L293.76,54.98 L293.14,56.28 L292.44,57.57 L291.65,58.84 L290.75,60.10 L289.72,61.34 L288.52,62.57 L287.11,63.79 L285.44,65.00 L283.40,66.20" fill="none" stroke="#1a6658" stroke-width="0.45" opacity="0.55"/>
<path d="M301.65,51.45 L301.99,52.97 L302.37,54.46 L302.78,55.93 L303.23,57.38 L303.74,58.81 L304.30,60.23 L304.94,61.62 L305.66,63.00 L306.50,64.37 L307.46,65.72 L308.60,67.06 L309.96,68.38 L311.60,69.70" fill="none" stroke="#1a6658" stroke-width="0.45" opacity="0.5"/>
<path d="M268.6,84.0 L270.2,104.5 L271.6,96 L273.3,116 L275.6,105 L278,120.2 L280.2,100 L282,106.5 L284.2,84.0 Z" fill="#1c7e6f" opacity="0.92"/>
<path d="M271.5,87.0 L273.3,113 L274.8,87.0 Z M276.3,87.0 L278,117 L279.6,87.0 Z" fill="#136256" opacity="0.8"/>
<path d="M268.80,65.00 C268.05,66.23 267.30,69.10 266.94,73.20 C266.55,78.33 266.10,82.42 265.80,85.50 L271.80,85.50 C271.50,82.42 271.05,78.33 270.66,73.20 C270.30,69.10 269.55,66.23 268.80,65.00 Z" fill="url(#gS2)" opacity="1.00"/>
<path d="M284.60,67.50 C283.85,68.58 283.10,71.10 282.74,74.70 C282.35,79.20 281.90,82.80 281.60,85.50 L287.60,85.50 C287.30,82.80 286.85,79.20 286.46,74.70 C286.10,71.10 285.35,68.58 284.60,67.50 Z" fill="url(#gS2)" opacity="1.00"/>
<path d="M271.80,51.00 C270.93,53.07 270.05,57.90 269.63,64.80 C269.18,73.42 268.65,80.33 268.30,85.50 L275.30,85.50 C274.95,80.33 274.43,73.42 273.97,64.80 C273.55,57.90 272.68,53.07 271.80,51.00 Z" fill="url(#gS)" opacity="1.00"/>
<path d="M282.00,54.50 C281.12,56.36 280.25,60.70 279.83,66.90 C279.38,74.65 278.85,80.85 278.50,85.50 L285.50,85.50 C285.15,80.85 284.62,74.65 284.17,66.90 C283.75,60.70 282.88,56.36 282.00,54.50 Z" fill="url(#gS)" opacity="1.00"/>
<path d="M274.30,38.60 C273.35,41.41 272.40,47.98 271.94,57.36 C271.45,69.09 270.88,78.47 270.50,85.50 L278.10,85.50 C277.72,78.47 277.15,69.09 276.66,57.36 C276.20,47.98 275.25,41.41 274.30,38.60 Z" fill="url(#gS)" opacity="1.00"/>
<path d="M278.80,41.20 C277.85,43.86 276.90,50.06 276.44,58.92 C275.95,70.00 275.38,78.85 275.00,85.50 L282.60,85.50 C282.22,78.85 281.65,70.00 281.16,58.92 C280.70,50.06 279.75,43.86 278.80,41.20 Z" fill="url(#gS)" opacity="1.00"/>
<path d="M276.4,47 L277.2,84.0 L275.8,84.0 Z" fill="#0f5a6a" opacity="0.6"/>
<polygon points="288.50,84.00 284.28,84.73 287.13,86.14 283.05,86.22 283.32,87.79 279.45,86.98 277.95,88.57 275.43,87.38 272.24,88.30 271.42,86.82 267.52,87.05 269.77,85.35 264.85,85.10 269.03,84.00 264.85,82.90 268.13,82.32 267.52,80.95 271.92,81.46 272.24,79.70 275.54,80.95 277.95,79.43 279.99,80.48 283.32,80.21 282.91,81.82 287.13,81.86 285.67,83.13" fill="#176457" opacity="0.85"/>
<polygon points="284.50,83.50 282.28,84.03 283.58,84.89 281.10,85.03 281.04,85.97 278.71,85.69 277.46,86.48 275.72,85.91 273.66,86.31 273.01,85.40 270.51,85.49 270.80,84.62 268.73,84.22 271.49,83.50 268.73,82.78 271.45,82.51 270.51,81.51 272.82,81.50 273.66,80.69 275.78,81.27 277.46,80.52 278.77,81.26 281.04,81.03 280.35,82.22 283.58,82.11 282.04,82.99" fill="#124f45" opacity="0.60"/>
<path d="M251.60,59.60 L251.38,62.36 L251.20,64.41 L251.02,66.25 L250.84,67.97 L250.65,69.61 L250.45,71.18 L250.24,72.70 L250.01,74.18 L249.77,75.62 L249.51,77.02 L249.22,78.40 L248.92,79.76 L248.58,81.09 L248.21,82.41 L247.81,83.70 L247.35,84.98 L246.85,86.24 L246.27,87.48 L245.62,88.72 L244.88,89.94 L244.01,91.14 L242.99,92.34 L241.77,93.53 L240.30,94.70 Q251.44,96.67 260.00,103.80 Q258.49,96.38 268.50,93.50 L266.29,92.37 L264.48,91.22 L262.95,90.07 L261.66,88.90 L260.54,87.72 L259.57,86.53 L258.71,85.33 L257.95,84.11 L257.28,82.88 L256.67,81.63 L256.11,80.36 L255.61,79.07 L255.15,77.76 L254.73,76.43 L254.34,75.07 L253.98,73.68 L253.64,72.25 L253.32,70.78 L253.02,69.27 L252.74,67.68 L252.46,66.02 L252.20,64.24 L251.93,62.27 L251.60,59.60 Z" fill="url(#gC)"/>
<path d="M251.60,59.60 L251.81,62.71 L252.03,65.02 L252.26,67.10 L252.52,69.04 L252.79,70.88 L253.08,72.65 L253.38,74.36 L253.71,76.03 L254.05,77.65 L254.41,79.24 L254.80,80.80 L255.21,82.32 L255.64,83.83 L256.10,85.31 L256.59,86.77 L257.12,88.20 L257.69,89.63 L258.31,91.03 L257.28,94.71 L256.86,93.14 L256.44,91.56 L256.03,89.95 L255.64,88.32 L255.25,86.66 L254.87,84.99 L254.51,83.28 L254.15,81.54 L253.81,79.77 L253.49,77.95 L253.17,76.09 L252.87,74.18 L252.59,72.20 L252.33,70.14 L252.10,67.97 L251.89,65.65 L251.71,63.08 L251.60,59.60 Z" fill="#106058" opacity="0.50"/>
<ellipse cx="250.94" cy="97.19" rx="7.81" ry="3.39" fill="#92f9ea" opacity="0.95" filter="url(#b5)" transform="rotate(12.4 250.94 97.19)"/>
<ellipse cx="259.11" cy="96.83" rx="4.81" ry="2.08" fill="#92f9ea" opacity="0.95" filter="url(#b5)" transform="rotate(-25.2 259.11 96.83)"/>
<path d="M250.24,72.70 L250.01,74.18 L249.77,75.62 L249.51,77.02 L249.22,78.40 L248.92,79.76 L248.58,81.09 L248.21,82.41 L247.81,83.70 L247.35,84.98 L246.85,86.24 L246.27,87.48 L245.62,88.72 L244.88,89.94 L244.01,91.14 L242.99,92.34 L241.77,93.53 L243.45,94.03 L244.64,92.84 L245.63,91.64 L246.47,90.44 L247.19,89.22 L247.81,87.98 L248.35,86.74 L248.83,85.48 L249.25,84.20 L249.63,82.91 L249.97,81.59 L250.28,80.26 L250.55,78.90 L250.80,77.52 L251.03,76.12 L251.24,74.68 L251.43,73.20 Z" fill="#7ef0d6" opacity="0.5"/>
<path d="M252.87,74.18 L253.17,76.09 L253.49,77.95 L253.81,79.77 L254.15,81.54 L254.51,83.28 L254.87,84.99 L255.25,86.66 L255.64,88.32 L256.03,89.95 L256.44,91.56 L256.86,93.14 L257.28,94.71 L257.71,96.27 L258.16,97.80 L258.61,99.32 L259.06,100.83 L259.53,102.32 L260.00,103.80" fill="none" stroke="#154f46" stroke-width="0.7" opacity="0.6" stroke-linecap="round"/>
<path d="M249.77,75.62 L249.51,77.02 L249.22,78.40 L248.92,79.76 L248.58,81.09 L248.21,82.41 L247.81,83.70 L247.35,84.98 L246.85,86.24 L246.27,87.48 L245.62,88.72 L244.88,89.94 L244.01,91.14 L242.99,92.34 L241.77,93.53 L240.30,94.70" fill="none" stroke="#1a6658" stroke-width="0.45" opacity="0.55"/>
<path d="M255.15,77.76 L255.61,79.07 L256.11,80.36 L256.67,81.63 L257.28,82.88 L257.95,84.11 L258.71,85.33 L259.57,86.53 L260.54,87.72 L261.66,88.90 L262.95,90.07 L264.48,91.22 L266.29,92.37 L268.50,93.50" fill="none" stroke="#1a6658" stroke-width="0.45" opacity="0.5"/>
<line x1="197.30" y1="222.90" x2="270.80" y2="185.30" stroke="#8c8c8c" stroke-width="0.70" />
<line x1="270.80" y1="185.30" x2="353.60" y2="216.30" stroke="#8c8c8c" stroke-width="0.70" />
<line x1="270.80" y1="185.30" x2="270.80" y2="264.20" stroke="#9c9c9c" stroke-width="0.65" />
<line x1="353.60" y1="216.30" x2="344.00" y2="299.90" stroke="#9c9c9c" stroke-width="0.65" />
<line x1="207.30" y1="306.40" x2="270.80" y2="264.20" stroke="#8c8c8c" stroke-width="0.50" />
<line x1="344.00" y1="299.90" x2="270.80" y2="264.20" stroke="#8c8c8c" stroke-width="0.50" />
<polygon points="203.00,268.10 283.40,313.30 348.40,261.60 270.70,227.00" fill="#45b4a0" />
<clipPath id="cp222"><polygon points="203.00,268.10 283.40,313.30 348.40,261.60 270.70,227.00"/></clipPath>
<g clip-path="url(#cp222)" opacity="0.3">
<line x1="207.30" y1="306.40" x2="270.80" y2="264.20" stroke="#2a6a5e" stroke-width="0.60" />
<line x1="344.00" y1="299.90" x2="270.80" y2="264.20" stroke="#2a6a5e" stroke-width="0.60" />
</g>
<line x1="207.30" y1="306.40" x2="283.00" y2="354.90" stroke="#3a3a3a" stroke-width="0.70" />
<line x1="283.00" y1="354.90" x2="344.00" y2="299.90" stroke="#3a3a3a" stroke-width="0.70" />
<line x1="197.30" y1="222.90" x2="207.30" y2="306.40" stroke="#3a3a3a" stroke-width="0.80" />
<line x1="212.81" y1="309.93" x2="212.11" y2="310.93" stroke="#3a3a3a" stroke-width="0.45" />
<line x1="218.45" y1="313.54" x2="216.95" y2="315.64" stroke="#3a3a3a" stroke-width="0.55" />
<text x="214.85" y="316.94" font-size="3.70" text-anchor="middle" fill="#3a3a3a" transform="rotate(0.0 214.85 316.94)" dominant-baseline="central" stroke="#4a4a4a" stroke-width="0.2">4</text>
<line x1="224.22" y1="317.24" x2="223.52" y2="318.24" stroke="#3a3a3a" stroke-width="0.45" />
<line x1="230.12" y1="321.02" x2="228.62" y2="323.12" stroke="#3a3a3a" stroke-width="0.55" />
<text x="226.52" y="324.42" font-size="3.70" text-anchor="middle" fill="#3a3a3a" transform="rotate(0.0 226.52 324.42)" dominant-baseline="central" stroke="#4a4a4a" stroke-width="0.2">2</text>
<line x1="236.18" y1="324.90" x2="235.48" y2="325.90" stroke="#3a3a3a" stroke-width="0.45" />
<line x1="242.37" y1="328.87" x2="240.87" y2="330.97" stroke="#3a3a3a" stroke-width="0.55" />
<text x="238.77" y="332.27" font-size="3.70" text-anchor="middle" fill="#3a3a3a" transform="rotate(0.0 238.77 332.27)" dominant-baseline="central" stroke="#4a4a4a" stroke-width="0.2">0</text>
<line x1="248.73" y1="332.94" x2="248.03" y2="333.94" stroke="#3a3a3a" stroke-width="0.45" />
<line x1="255.24" y1="337.11" x2="253.74" y2="339.21" stroke="#3a3a3a" stroke-width="0.55" />
<text x="251.64" y="340.51" font-size="3.70" text-anchor="middle" fill="#3a3a3a" transform="rotate(0.0 251.64 340.51)" dominant-baseline="central" stroke="#4a4a4a" stroke-width="0.2">-2</text>
<line x1="261.91" y1="341.39" x2="261.21" y2="342.39" stroke="#3a3a3a" stroke-width="0.45" />
<line x1="268.76" y1="345.78" x2="267.26" y2="347.88" stroke="#3a3a3a" stroke-width="0.55" />
<text x="265.16" y="349.18" font-size="3.70" text-anchor="middle" fill="#3a3a3a" transform="rotate(0.0 265.16 349.18)" dominant-baseline="central" stroke="#4a4a4a" stroke-width="0.2">-4</text>
<line x1="275.79" y1="350.28" x2="275.09" y2="351.28" stroke="#3a3a3a" stroke-width="0.45" />
<line x1="283.00" y1="354.90" x2="281.50" y2="357.00" stroke="#3a3a3a" stroke-width="0.55" />
<text x="279.40" y="358.30" font-size="3.70" text-anchor="middle" fill="#3a3a3a" transform="rotate(0.0 279.40 358.30)" dominant-baseline="central" stroke="#4a4a4a" stroke-width="0.2">-6</text>
<line x1="283.00" y1="354.90" x2="284.90" y2="356.70" stroke="#3a3a3a" stroke-width="0.55" />
<text x="287.60" y="357.90" font-size="3.70" text-anchor="middle" fill="#3a3a3a" transform="rotate(0.0 287.60 357.90)" dominant-baseline="central" stroke="#4a4a4a" stroke-width="0.2">-6</text>
<line x1="288.87" y1="349.61" x2="289.77" y2="350.51" stroke="#3a3a3a" stroke-width="0.45" />
<line x1="294.58" y1="344.46" x2="296.48" y2="346.26" stroke="#3a3a3a" stroke-width="0.55" />
<text x="299.18" y="347.46" font-size="3.70" text-anchor="middle" fill="#3a3a3a" transform="rotate(0.0 299.18 347.46)" dominant-baseline="central" stroke="#4a4a4a" stroke-width="0.2">-4</text>
<line x1="300.13" y1="339.45" x2="301.03" y2="340.35" stroke="#3a3a3a" stroke-width="0.45" />
<line x1="305.53" y1="334.58" x2="307.43" y2="336.38" stroke="#3a3a3a" stroke-width="0.55" />
<text x="310.13" y="337.58" font-size="3.70" text-anchor="middle" fill="#3a3a3a" transform="rotate(0.0 310.13 337.58)" dominant-baseline="central" stroke="#4a4a4a" stroke-width="0.2">-2</text>
<line x1="310.79" y1="329.84" x2="311.69" y2="330.74" stroke="#3a3a3a" stroke-width="0.45" />
<line x1="315.91" y1="325.23" x2="317.81" y2="327.03" stroke="#3a3a3a" stroke-width="0.55" />
<text x="320.51" y="328.23" font-size="3.70" text-anchor="middle" fill="#3a3a3a" transform="rotate(0.0 320.51 328.23)" dominant-baseline="central" stroke="#4a4a4a" stroke-width="0.2">0</text>
<line x1="320.89" y1="320.73" x2="321.79" y2="321.63" stroke="#3a3a3a" stroke-width="0.45" />
<line x1="325.75" y1="316.35" x2="327.65" y2="318.15" stroke="#3a3a3a" stroke-width="0.55" />
<text x="330.35" y="319.35" font-size="3.70" text-anchor="middle" fill="#3a3a3a" transform="rotate(0.0 330.35 319.35)" dominant-baseline="central" stroke="#4a4a4a" stroke-width="0.2">2</text>
<line x1="330.49" y1="312.08" x2="331.39" y2="312.98" stroke="#3a3a3a" stroke-width="0.45" />
<line x1="335.10" y1="307.92" x2="337.00" y2="309.72" stroke="#3a3a3a" stroke-width="0.55" />
<text x="339.70" y="310.92" font-size="3.70" text-anchor="middle" fill="#3a3a3a" transform="rotate(0.0 339.70 310.92)" dominant-baseline="central" stroke="#4a4a4a" stroke-width="0.2">4</text>
<line x1="339.61" y1="303.86" x2="340.51" y2="304.76" stroke="#3a3a3a" stroke-width="0.45" />
<line x1="344.00" y1="299.90" x2="345.90" y2="301.70" stroke="#3a3a3a" stroke-width="0.55" />
<text x="348.60" y="302.90" font-size="3.70" text-anchor="middle" fill="#3a3a3a" transform="rotate(0.0 348.60 302.90)" dominant-baseline="central" stroke="#4a4a4a" stroke-width="0.2">6</text>
<line x1="197.34" y1="223.20" x2="195.34" y2="223.50" stroke="#3a3a3a" stroke-width="0.55" />
<text x="191.04" y="226.00" font-size="4.20" text-anchor="middle" fill="#3a3a3a" transform="rotate(-27.0 191.04 226.00)" dominant-baseline="central" stroke="#4a4a4a" stroke-width="0.1" font-style="italic">0.3</text>
<line x1="198.26" y1="230.90" x2="197.26" y2="231.05" stroke="#3a3a3a" stroke-width="0.45" />
<line x1="199.18" y1="238.60" x2="197.18" y2="238.90" stroke="#3a3a3a" stroke-width="0.55" />
<text x="192.88" y="241.40" font-size="4.20" text-anchor="middle" fill="#3a3a3a" transform="rotate(-27.0 192.88 241.40)" dominant-baseline="central" stroke="#4a4a4a" stroke-width="0.1" font-style="italic">0.2</text>
<line x1="200.07" y1="246.05" x2="199.07" y2="246.20" stroke="#3a3a3a" stroke-width="0.45" />
<line x1="200.96" y1="253.50" x2="198.96" y2="253.80" stroke="#3a3a3a" stroke-width="0.55" />
<text x="194.66" y="256.30" font-size="4.20" text-anchor="middle" fill="#3a3a3a" transform="rotate(-27.0 194.66 256.30)" dominant-baseline="central" stroke="#4a4a4a" stroke-width="0.1" font-style="italic">0.1</text>
<line x1="201.84" y1="260.80" x2="200.84" y2="260.95" stroke="#3a3a3a" stroke-width="0.45" />
<line x1="202.71" y1="268.10" x2="200.71" y2="268.40" stroke="#3a3a3a" stroke-width="0.55" />
<text x="196.41" y="270.90" font-size="4.20" text-anchor="middle" fill="#3a3a3a" transform="rotate(-27.0 196.41 270.90)" dominant-baseline="central" stroke="#4a4a4a" stroke-width="0.1" font-style="italic">0.0</text>
<line x1="203.54" y1="275.00" x2="202.54" y2="275.15" stroke="#3a3a3a" stroke-width="0.45" />
<line x1="204.37" y1="281.90" x2="202.37" y2="282.20" stroke="#3a3a3a" stroke-width="0.55" />
<text x="197.57" y="284.70" font-size="3.90" text-anchor="middle" fill="#3a3a3a" transform="rotate(-27.0 197.57 284.70)" dominant-baseline="central" stroke="#4a4a4a" stroke-width="0.1" font-style="italic">-0.1</text>
<line x1="205.15" y1="288.45" x2="204.15" y2="288.60" stroke="#3a3a3a" stroke-width="0.45" />
<line x1="205.93" y1="295.00" x2="203.93" y2="295.30" stroke="#3a3a3a" stroke-width="0.55" />
<text x="199.13" y="297.80" font-size="3.90" text-anchor="middle" fill="#3a3a3a" transform="rotate(-27.0 199.13 297.80)" dominant-baseline="central" stroke="#4a4a4a" stroke-width="0.1" font-style="italic">-0.2</text>
<line x1="206.68" y1="301.20" x2="205.68" y2="301.35" stroke="#3a3a3a" stroke-width="0.45" />
<line x1="207.42" y1="307.40" x2="205.42" y2="307.70" stroke="#3a3a3a" stroke-width="0.55" />
<text x="200.62" y="310.20" font-size="3.90" text-anchor="middle" fill="#3a3a3a" transform="rotate(-27.0 200.62 310.20)" dominant-baseline="central" stroke="#4a4a4a" stroke-width="0.1" font-style="italic">-0.3</text>
<text x="205.80" y="204.50" font-size="11.80" text-anchor="start" fill="#454545" transform="rotate(0.0 205.80 204.50)" stroke="#454545" stroke-width="0.2" letter-spacing="-0.1">(e)</text>
<text x="232.20" y="339.20" font-size="6.80" text-anchor="middle" fill="#2e2e2e" transform="rotate(34.8 232.20 339.20)" stroke="#2e2e2e" stroke-width="0.26" letter-spacing="0.1">Re( <tspan font-size='5' font-style='italic'>β</tspan> )</text>
<text x="327.60" y="333.20" font-size="6.80" text-anchor="middle" fill="#2e2e2e" transform="rotate(-33.3 327.60 333.20)" stroke="#2e2e2e" stroke-width="0.26" letter-spacing="0.1">Im( <tspan font-size='5' font-style='italic'>β</tspan> )</text>
<text x="186.20" y="277.80" font-size="6.60" text-anchor="middle" fill="#2e2e2e" transform="rotate(90.0 186.20 277.80)" stroke="#2e2e2e" stroke-width="0.12"><tspan font-weight='bold'>W</tspan><tspan font-size='2.3' dy='1.5'>|ψ⟩</tspan><tspan dy='-1.5' font-size='7.6'>(</tspan><tspan font-size='5.4' font-style='italic'>β</tspan><tspan font-size='7.6'>)</tspan></text>
<ellipse cx="276.8" cy="264.0" rx="29.0" ry="14.5" fill="none" stroke="#1c7a6a" stroke-width="0.7" opacity="0.28"/>
<path d="M298.20,228.70 L297.95,230.32 L297.74,231.52 L297.53,232.60 L297.32,233.61 L297.10,234.57 L296.86,235.50 L296.61,236.39 L296.34,237.25 L296.05,238.10 L295.73,238.93 L295.39,239.74 L295.01,240.53 L294.59,241.31 L294.13,242.08 L293.61,242.84 L293.03,243.59 L292.37,244.33 L291.61,245.07 L290.73,245.79 L289.70,246.50 L288.47,247.21 L286.98,247.91 L285.14,248.61 L282.80,249.30 Q296.83,250.55 303.00,254.00 Q298.88,250.70 310.20,251.40 L308.38,250.64 L306.94,249.87 L305.78,249.10 L304.82,248.32 L304.02,247.53 L303.33,246.73 L302.74,245.93 L302.23,245.11 L301.77,244.29 L301.37,243.45 L301.01,242.60 L300.68,241.74 L300.39,240.86 L300.12,239.97 L299.88,239.06 L299.65,238.13 L299.44,237.17 L299.24,236.19 L299.06,235.17 L298.89,234.11 L298.72,233.00 L298.56,231.81 L298.40,230.49 L298.20,228.70 Z" fill="url(#gE)"/>
<path d="M298.20,228.70 L298.32,230.60 L298.45,232.01 L298.59,233.27 L298.74,234.45 L298.90,235.58 L299.07,236.66 L299.25,237.70 L299.45,238.72 L299.65,239.71 L299.87,240.68 L300.10,241.63 L300.35,242.56 L300.61,243.48 L300.89,244.38 L301.20,245.27 L301.53,246.15 L301.90,247.01 L302.30,247.87 L301.45,248.80 L301.20,247.90 L300.97,246.99 L300.73,246.07 L300.51,245.14 L300.29,244.19 L300.07,243.23 L299.86,242.25 L299.66,241.26 L299.46,240.24 L299.28,239.21 L299.10,238.14 L298.93,237.05 L298.77,235.91 L298.62,234.73 L298.48,233.49 L298.36,232.17 L298.26,230.69 L298.20,228.70 Z" fill="#106058" opacity="0.50"/>
<ellipse cx="294.57" cy="251.13" rx="6.22" ry="2.70" fill="#92f9ea" opacity="0.80" filter="url(#b5)" transform="rotate(6.5 294.57 251.13)"/>
<ellipse cx="302.55" cy="251.76" rx="2.30" ry="1.40" fill="#92f9ea" opacity="0.80" filter="url(#b5)" transform="rotate(-9.9 302.55 251.76)"/>
<path d="M296.61,236.39 L296.34,237.25 L296.05,238.10 L295.73,238.93 L295.39,239.74 L295.01,240.53 L294.59,241.31 L294.13,242.08 L293.61,242.84 L293.03,243.59 L292.37,244.33 L291.61,245.07 L290.73,245.79 L289.70,246.50 L288.47,247.21 L286.98,247.91 L285.14,248.61 L286.81,249.11 L288.63,248.41 L290.09,247.71 L291.29,247.00 L292.29,246.29 L293.15,245.57 L293.88,244.83 L294.51,244.09 L295.06,243.34 L295.55,242.58 L295.98,241.81 L296.37,241.03 L296.72,240.24 L297.03,239.43 L297.31,238.60 L297.57,237.75 L297.81,236.89 Z" fill="#7ef0d6" opacity="0.5"/>
<path d="M298.93,237.05 L299.10,238.14 L299.28,239.21 L299.46,240.24 L299.66,241.26 L299.86,242.25 L300.07,243.23 L300.29,244.19 L300.51,245.14 L300.73,246.07 L300.97,246.99 L301.20,247.90 L301.45,248.80 L301.69,249.69 L301.95,250.57 L302.20,251.44 L302.46,252.30 L302.73,253.15 L303.00,254.00" fill="none" stroke="#154f46" stroke-width="0.7" opacity="0.6" stroke-linecap="round"/>
<path d="M296.05,238.10 L295.73,238.93 L295.39,239.74 L295.01,240.53 L294.59,241.31 L294.13,242.08 L293.61,242.84 L293.03,243.59 L292.37,244.33 L291.61,245.07 L290.73,245.79 L289.70,246.50 L288.47,247.21 L286.98,247.91 L285.14,248.61 L282.80,249.30" fill="none" stroke="#1a6658" stroke-width="0.45" opacity="0.55"/>
<path d="M300.39,240.86 L300.68,241.74 L301.01,242.60 L301.37,243.45 L301.77,244.29 L302.23,245.11 L302.74,245.93 L303.33,246.73 L304.02,247.53 L304.82,248.32 L305.78,249.10 L306.94,249.87 L308.38,250.64 L310.20,251.40" fill="none" stroke="#1a6658" stroke-width="0.45" opacity="0.5"/>
<path d="M250.20,230.70 L249.99,232.45 L249.82,233.75 L249.64,234.93 L249.46,236.02 L249.28,237.06 L249.08,238.06 L248.87,239.02 L248.64,239.96 L248.40,240.87 L248.13,241.77 L247.84,242.65 L247.53,243.51 L247.18,244.35 L246.79,245.19 L246.36,246.01 L245.87,246.82 L245.32,247.62 L244.68,248.42 L243.94,249.20 L243.08,249.97 L242.05,250.74 L240.80,251.50 L239.26,252.25 L237.30,253.00 Q249.45,251.99 251.80,256.50 Q251.43,251.76 263.70,250.00 L261.65,249.35 L260.04,248.70 L258.73,248.04 L257.65,247.38 L256.75,246.71 L255.98,246.03 L255.31,245.35 L254.73,244.65 L254.22,243.95 L253.77,243.24 L253.36,242.52 L253.00,241.78 L252.66,241.04 L252.36,240.28 L252.09,239.51 L251.83,238.71 L251.59,237.90 L251.37,237.07 L251.17,236.20 L250.97,235.30 L250.78,234.36 L250.60,233.34 L250.42,232.22 L250.20,230.70 Z" fill="url(#gE)"/>
<path d="M250.20,230.70 L250.31,232.50 L250.41,233.83 L250.51,235.03 L250.62,236.16 L250.74,237.22 L250.86,238.25 L250.99,239.24 L251.13,240.20 L251.28,241.14 L251.44,242.06 L251.61,242.95 L251.80,243.84 L252.00,244.71 L252.23,245.56 L252.47,246.41 L252.75,247.24 L253.05,248.06 L253.39,248.87 L251.28,251.20 L251.20,250.28 L251.12,249.35 L251.04,248.41 L250.97,247.46 L250.90,246.50 L250.82,245.52 L250.75,244.52 L250.69,243.51 L250.62,242.47 L250.56,241.41 L250.50,240.33 L250.44,239.21 L250.39,238.06 L250.34,236.85 L250.29,235.59 L250.25,234.23 L250.22,232.73 L250.20,230.70 Z" fill="#106058" opacity="0.50"/>
<ellipse cx="246.81" cy="253.45" rx="4.47" ry="1.94" fill="#92f9ea" opacity="0.80" filter="url(#b5)" transform="rotate(6.8 246.81 253.45)"/>
<ellipse cx="254.33" cy="252.55" rx="4.07" ry="1.76" fill="#92f9ea" opacity="0.80" filter="url(#b5)" transform="rotate(-14.3 254.33 252.55)"/>
<path d="M248.87,239.02 L248.64,239.96 L248.40,240.87 L248.13,241.77 L247.84,242.65 L247.53,243.51 L247.18,244.35 L246.79,245.19 L246.36,246.01 L245.87,246.82 L245.32,247.62 L244.68,248.42 L243.94,249.20 L243.08,249.97 L242.05,250.74 L240.80,251.50 L239.26,252.25 L240.93,252.75 L242.45,252.00 L243.67,251.24 L244.67,250.47 L245.51,249.70 L246.22,248.92 L246.82,248.12 L247.35,247.32 L247.81,246.51 L248.21,245.69 L248.57,244.85 L248.89,244.01 L249.17,243.15 L249.43,242.27 L249.66,241.37 L249.87,240.46 L250.07,239.52 Z" fill="#7ef0d6" opacity="0.5"/>
<path d="M250.44,239.21 L250.50,240.33 L250.56,241.41 L250.62,242.47 L250.69,243.51 L250.75,244.52 L250.82,245.52 L250.90,246.50 L250.97,247.46 L251.04,248.41 L251.12,249.35 L251.20,250.28 L251.28,251.20 L251.36,252.10 L251.45,253.00 L251.53,253.89 L251.62,254.77 L251.71,255.64 L251.80,256.50" fill="none" stroke="#154f46" stroke-width="0.7" opacity="0.6" stroke-linecap="round"/>
<path d="M248.40,240.87 L248.13,241.77 L247.84,242.65 L247.53,243.51 L247.18,244.35 L246.79,245.19 L246.36,246.01 L245.87,246.82 L245.32,247.62 L244.68,248.42 L243.94,249.20 L243.08,249.97 L242.05,250.74 L240.80,251.50 L239.26,252.25 L237.30,253.00" fill="none" stroke="#1a6658" stroke-width="0.45" opacity="0.55"/>
<path d="M252.66,241.04 L253.00,241.78 L253.36,242.52 L253.77,243.24 L254.22,243.95 L254.73,244.65 L255.31,245.35 L255.98,246.03 L256.75,246.71 L257.65,247.38 L258.73,248.04 L260.04,248.70 L261.65,249.35 L263.70,250.00" fill="none" stroke="#1a6658" stroke-width="0.45" opacity="0.5"/>
<path d="M269.80,278.00 C268.93,272.15 267.70,267.60 266.30,265.00 L273.30,265.00 C271.90,267.60 270.68,272.15 269.80,278.00 Z" fill="#1a7a6b" opacity="0.85"/>
<path d="M283.20,279.00 C282.32,272.70 281.10,267.80 279.70,265.00 L286.70,265.00 C285.30,267.80 284.07,272.70 283.20,279.00 Z" fill="#1a7a6b" opacity="0.85"/>
<path d="M272.50,284.00 C271.50,275.45 270.10,268.80 268.50,265.00 L276.50,265.00 C274.90,268.80 273.50,275.45 272.50,284.00 Z" fill="#1a7a6b" opacity="0.85"/>
<path d="M274.60,288.00 C273.60,277.65 272.20,269.60 270.60,265.00 L278.60,265.00 C277.00,269.60 275.60,277.65 274.60,288.00 Z" fill="#1a7a6b" opacity="0.85"/>
<path d="M277.00,289.60 C275.94,278.53 274.45,269.92 272.75,265.00 L281.25,265.00 C279.55,269.92 278.06,278.53 277.00,289.60 Z" fill="#1a7a6b" opacity="0.85"/>
<path d="M279.60,286.00 C278.60,276.55 277.20,269.20 275.60,265.00 L283.60,265.00 C282.00,269.20 280.60,276.55 279.60,286.00 Z" fill="#1a7a6b" opacity="0.85"/>
<path d="M281.50,282.00 C280.62,274.35 279.40,268.40 278.00,265.00 L285.00,265.00 C283.60,268.40 282.38,274.35 281.50,282.00 Z" fill="#1a7a6b" opacity="0.85"/>
<path d="M267.50,256.00 C266.69,260.50 265.55,264.00 264.25,266.00 L270.75,266.00 C269.45,264.00 268.31,260.50 267.50,256.00 Z" fill="#1d8478" opacity="1.00"/>
<path d="M286.00,257.00 C285.19,261.05 284.05,264.20 282.75,266.00 L289.25,266.00 C287.95,264.20 286.81,261.05 286.00,257.00 Z" fill="#19786c" opacity="1.00"/>
<path d="M269.80,249.00 C268.93,256.65 267.70,262.60 266.30,266.00 L273.30,266.00 C271.90,262.60 270.68,256.65 269.80,249.00 Z" fill="#1a7c70" opacity="1.00"/>
<path d="M283.80,250.00 C282.93,257.20 281.70,262.80 280.30,266.00 L287.30,266.00 C285.90,262.80 284.68,257.20 283.80,250.00 Z" fill="#167064" opacity="1.00"/>
<path d="M272.00,243.50 C271.19,253.62 270.05,261.50 268.75,266.00 L275.25,266.00 C273.95,261.50 272.81,253.62 272.00,243.50 Z" fill="#16705f" opacity="1.00"/>
<path d="M281.80,244.50 C280.99,254.18 279.85,261.70 278.55,266.00 L285.05,266.00 C283.75,261.70 282.61,254.18 281.80,244.50 Z" fill="#146a5a" opacity="1.00"/>
<path d="M274.00,240.50 C273.25,251.97 272.20,260.90 271.00,266.00 L277.00,266.00 C275.80,260.90 274.75,251.97 274.00,240.50 Z" fill="#157262" opacity="1.00"/>
<path d="M279.80,241.00 C279.05,252.25 278.00,261.00 276.80,266.00 L282.80,266.00 C281.60,261.00 280.55,252.25 279.80,241.00 Z" fill="#12614f" opacity="1.00"/>
<path d="M276.00,238.30 C275.31,250.77 274.35,260.46 273.25,266.00 L278.75,266.00 C277.65,260.46 276.69,250.77 276.00,238.30 Z" fill="#12614f" opacity="1.00"/>
<path d="M278.00,238.80 C277.31,251.04 276.35,260.56 275.25,266.00 L280.75,266.00 C279.65,260.56 278.69,251.04 278.00,238.80 Z" fill="#157060" opacity="1.00"/>
<polygon points="288.30,265.00 284.45,265.72 286.98,267.04 282.40,266.90 283.33,268.62 279.86,268.09 278.19,269.37 275.92,267.77 272.72,269.11 272.05,267.63 268.19,267.92 269.74,266.42 265.63,266.05 269.54,265.00 265.63,263.95 269.45,263.52 268.19,262.08 272.70,262.73 272.72,260.89 275.82,261.91 278.19,260.63 279.39,262.39 283.33,261.38 282.29,263.14 286.98,262.96 284.67,264.26" fill="#176457" opacity="0.85"/>
<polygon points="284.30,264.50 281.99,264.98 283.44,265.80 280.70,265.79 281.06,266.80 278.52,266.20 277.70,267.28 276.08,266.71 274.14,267.12 274.15,265.93 271.19,266.36 272.01,265.44 269.52,265.17 270.80,264.50 269.52,263.83 272.58,263.67 271.19,262.64 273.69,262.82 274.14,261.88 276.13,262.43 277.70,261.72 278.47,262.86 281.06,262.20 280.71,263.21 283.44,263.20 282.34,263.99" fill="#124f45" opacity="0.60"/>
<path d="M252.30,258.30 L252.13,259.61 L251.98,260.59 L251.84,261.46 L251.69,262.28 L251.53,263.06 L251.37,263.81 L251.19,264.53 L251.01,265.23 L250.80,265.92 L250.59,266.59 L250.35,267.25 L250.08,267.89 L249.79,268.53 L249.47,269.15 L249.11,269.77 L248.71,270.37 L248.25,270.97 L247.72,271.57 L247.11,272.15 L246.39,272.73 L245.54,273.31 L244.50,273.88 L243.22,274.44 L241.60,275.00 Q253.21,276.98 259.90,285.50 Q255.31,277.19 269.70,277.80 L267.06,277.15 L264.98,276.49 L263.30,275.82 L261.91,275.15 L260.74,274.48 L259.75,273.79 L258.89,273.10 L258.14,272.40 L257.48,271.69 L256.90,270.97 L256.37,270.24 L255.90,269.50 L255.48,268.75 L255.09,267.98 L254.73,267.20 L254.40,266.40 L254.10,265.58 L253.81,264.73 L253.55,263.86 L253.29,262.95 L253.05,261.99 L252.82,260.97 L252.58,259.83 L252.30,258.30 Z" fill="url(#gE)"/>
<path d="M252.30,258.30 L252.48,260.17 L252.68,261.55 L252.89,262.80 L253.11,263.96 L253.36,265.07 L253.62,266.13 L253.89,267.16 L254.18,268.16 L254.50,269.13 L254.83,270.08 L255.18,271.02 L255.55,271.93 L255.95,272.83 L256.38,273.72 L256.84,274.60 L257.34,275.46 L257.88,276.31 L258.48,277.16 L257.44,279.91 L257.05,278.94 L256.68,277.97 L256.31,276.98 L255.95,275.97 L255.60,274.96 L255.26,273.92 L254.93,272.87 L254.61,271.80 L254.30,270.71 L254.01,269.59 L253.72,268.45 L253.45,267.27 L253.20,266.05 L252.96,264.79 L252.75,263.45 L252.56,262.03 L252.40,260.44 L252.30,258.30 Z" fill="#106058" opacity="0.50"/>
<ellipse cx="251.70" cy="278.71" rx="6.33" ry="2.74" fill="#92f9ea" opacity="0.80" filter="url(#b5)" transform="rotate(14.9 251.70 278.71)"/>
<ellipse cx="259.80" cy="279.55" rx="3.74" ry="1.62" fill="#92f9ea" opacity="0.80" filter="url(#b5)" transform="rotate(-19.1 259.80 279.55)"/>
<path d="M251.19,264.53 L251.01,265.23 L250.80,265.92 L250.59,266.59 L250.35,267.25 L250.08,267.89 L249.79,268.53 L249.47,269.15 L249.11,269.77 L248.71,270.37 L248.25,270.97 L247.72,271.57 L247.11,272.15 L246.39,272.73 L245.54,273.31 L244.50,273.88 L243.22,274.44 L244.90,274.94 L246.15,274.38 L247.16,273.81 L247.98,273.23 L248.67,272.65 L249.26,272.07 L249.76,271.47 L250.19,270.87 L250.56,270.27 L250.89,269.65 L251.18,269.03 L251.44,268.39 L251.68,267.75 L251.88,267.09 L252.07,266.42 L252.24,265.73 L252.39,265.03 Z" fill="#7ef0d6" opacity="0.5"/>
<path d="M253.45,267.27 L253.72,268.45 L254.01,269.59 L254.30,270.71 L254.61,271.80 L254.93,272.87 L255.26,273.92 L255.60,274.96 L255.95,275.97 L256.31,276.98 L256.68,277.97 L257.05,278.94 L257.44,279.91 L257.83,280.86 L258.23,281.81 L258.64,282.74 L259.05,283.67 L259.47,284.59 L259.90,285.50" fill="none" stroke="#154f46" stroke-width="0.7" opacity="0.6" stroke-linecap="round"/>
<path d="M250.80,265.92 L250.59,266.59 L250.35,267.25 L250.08,267.89 L249.79,268.53 L249.47,269.15 L249.11,269.77 L248.71,270.37 L248.25,270.97 L247.72,271.57 L247.11,272.15 L246.39,272.73 L245.54,273.31 L244.50,273.88 L243.22,274.44 L241.60,275.00" fill="none" stroke="#1a6658" stroke-width="0.45" opacity="0.55"/>
<path d="M255.48,268.75 L255.90,269.50 L256.37,270.24 L256.90,270.97 L257.48,271.69 L258.14,272.40 L258.89,273.10 L259.75,273.79 L260.74,274.48 L261.91,275.15 L263.30,275.82 L264.98,276.49 L267.06,277.15 L269.70,277.80" fill="none" stroke="#1a6658" stroke-width="0.45" opacity="0.5"/>
<path d="M305.10,255.60 L304.90,257.32 L304.73,258.59 L304.56,259.73 L304.39,260.80 L304.20,261.82 L304.01,262.79 L303.81,263.74 L303.59,264.65 L303.35,265.55 L303.10,266.42 L302.82,267.28 L302.51,268.12 L302.17,268.95 L301.80,269.76 L301.38,270.57 L300.90,271.36 L300.37,272.14 L299.75,272.92 L299.04,273.68 L298.20,274.44 L297.20,275.19 L295.99,275.93 L294.50,276.67 L292.60,277.40 Q303.44,275.86 301.80,285.80 Q305.10,275.48 314.80,272.30 L313.33,271.74 L312.17,271.18 L311.23,270.61 L310.46,270.03 L309.80,269.45 L309.25,268.87 L308.77,268.27 L308.36,267.67 L307.99,267.07 L307.66,266.45 L307.37,265.83 L307.11,265.19 L306.87,264.55 L306.65,263.89 L306.46,263.22 L306.27,262.53 L306.10,261.83 L305.94,261.11 L305.80,260.36 L305.65,259.58 L305.52,258.76 L305.39,257.89 L305.26,256.91 L305.10,255.60 Z" fill="url(#gE)"/>
<path d="M305.10,255.60 L304.98,257.68 L304.87,259.22 L304.75,260.61 L304.62,261.90 L304.48,263.13 L304.34,264.32 L304.18,265.46 L304.01,266.57 L303.84,267.65 L303.65,268.71 L303.44,269.75 L303.23,270.77 L302.99,271.78 L302.74,272.77 L302.47,273.74 L302.17,274.70 L301.83,275.65 L301.47,276.59 L302.87,279.59 L303.04,278.52 L303.20,277.43 L303.36,276.34 L303.51,275.22 L303.67,274.09 L303.81,272.95 L303.96,271.78 L304.10,270.59 L304.23,269.38 L304.36,268.14 L304.48,266.87 L304.60,265.56 L304.71,264.21 L304.81,262.80 L304.90,261.32 L304.99,259.74 L305.06,257.98 L305.10,255.60 Z" fill="#106058" opacity="0.50"/>
<ellipse cx="300.23" cy="278.90" rx="3.74" ry="1.62" fill="#92f9ea" opacity="0.80" filter="url(#b5)" transform="rotate(21.2 300.23 278.90)"/>
<ellipse cx="306.45" cy="277.37" rx="5.62" ry="2.44" fill="#92f9ea" opacity="0.80" filter="url(#b5)" transform="rotate(-23.0 306.45 277.37)"/>
<path d="M306.10,261.83 L306.27,262.53 L306.46,263.22 L306.65,263.89 L306.87,264.55 L307.11,265.19 L307.37,265.83 L307.66,266.45 L307.99,267.07 L308.36,267.67 L308.77,268.27 L309.25,268.87 L309.80,269.45 L310.46,270.03 L311.23,270.61 L312.17,271.18 L313.33,271.74 L311.65,272.24 L310.52,271.68 L309.61,271.11 L308.86,270.53 L308.24,269.95 L307.72,269.37 L307.27,268.77 L306.88,268.17 L306.54,267.57 L306.24,266.95 L305.98,266.33 L305.75,265.69 L305.54,265.05 L305.36,264.39 L305.19,263.72 L305.04,263.03 L304.90,262.33 Z" fill="#7ef0d6" opacity="0.5"/>
<path d="M304.60,265.56 L304.48,266.87 L304.36,268.14 L304.23,269.38 L304.10,270.59 L303.96,271.78 L303.81,272.95 L303.67,274.09 L303.51,275.22 L303.36,276.34 L303.20,277.43 L303.04,278.52 L302.87,279.59 L302.70,280.65 L302.52,281.70 L302.35,282.74 L302.17,283.77 L301.99,284.79 L301.80,285.80" fill="none" stroke="#154f46" stroke-width="0.7" opacity="0.6" stroke-linecap="round"/>
<path d="M303.35,265.55 L303.10,266.42 L302.82,267.28 L302.51,268.12 L302.17,268.95 L301.80,269.76 L301.38,270.57 L300.90,271.36 L300.37,272.14 L299.75,272.92 L299.04,273.68 L298.20,274.44 L297.20,275.19 L295.99,275.93 L294.50,276.67 L292.60,277.40" fill="none" stroke="#1a6658" stroke-width="0.45" opacity="0.55"/>
<path d="M306.87,264.55 L307.11,265.19 L307.37,265.83 L307.66,266.45 L307.99,267.07 L308.36,267.67 L308.77,268.27 L309.25,268.87 L309.80,269.45 L310.46,270.03 L311.23,270.61 L312.17,271.18 L313.33,271.74 L314.80,272.30" fill="none" stroke="#1a6658" stroke-width="0.45" opacity="0.5"/>
<line x1="197.30" y1="403.90" x2="270.80" y2="366.30" stroke="#8c8c8c" stroke-width="0.70" />
<line x1="270.80" y1="366.30" x2="353.60" y2="397.30" stroke="#8c8c8c" stroke-width="0.70" />
<line x1="270.80" y1="366.30" x2="270.80" y2="445.20" stroke="#9c9c9c" stroke-width="0.65" />
<line x1="353.60" y1="397.30" x2="344.00" y2="480.90" stroke="#9c9c9c" stroke-width="0.65" />
<line x1="207.30" y1="487.40" x2="270.80" y2="445.20" stroke="#8c8c8c" stroke-width="0.50" />
<line x1="344.00" y1="480.90" x2="270.80" y2="445.20" stroke="#8c8c8c" stroke-width="0.50" />
<polygon points="203.00,449.10 283.40,494.30 348.40,442.60 270.70,408.00" fill="#45b4a0" />
<clipPath id="cp403"><polygon points="203.00,449.10 283.40,494.30 348.40,442.60 270.70,408.00"/></clipPath>
<g clip-path="url(#cp403)" opacity="0.3">
<line x1="207.30" y1="487.40" x2="270.80" y2="445.20" stroke="#2a6a5e" stroke-width="0.60" />
<line x1="344.00" y1="480.90" x2="270.80" y2="445.20" stroke="#2a6a5e" stroke-width="0.60" />
</g>
<line x1="207.30" y1="487.40" x2="283.00" y2="535.90" stroke="#3a3a3a" stroke-width="0.70" />
<line x1="283.00" y1="535.90" x2="344.00" y2="480.90" stroke="#3a3a3a" stroke-width="0.70" />
<line x1="197.30" y1="403.90" x2="207.30" y2="487.40" stroke="#3a3a3a" stroke-width="0.80" />
<line x1="212.81" y1="490.93" x2="212.11" y2="491.93" stroke="#3a3a3a" stroke-width="0.45" />
<line x1="218.45" y1="494.54" x2="216.95" y2="496.64" stroke="#3a3a3a" stroke-width="0.55" />
<text x="214.85" y="497.94" font-size="3.70" text-anchor="middle" fill="#3a3a3a" transform="rotate(0.0 214.85 497.94)" dominant-baseline="central" stroke="#4a4a4a" stroke-width="0.2">4</text>
<line x1="224.22" y1="498.24" x2="223.52" y2="499.24" stroke="#3a3a3a" stroke-width="0.45" />
<line x1="230.12" y1="502.02" x2="228.62" y2="504.12" stroke="#3a3a3a" stroke-width="0.55" />
<text x="226.52" y="505.42" font-size="3.70" text-anchor="middle" fill="#3a3a3a" transform="rotate(0.0 226.52 505.42)" dominant-baseline="central" stroke="#4a4a4a" stroke-width="0.2">2</text>
<line x1="236.18" y1="505.90" x2="235.48" y2="506.90" stroke="#3a3a3a" stroke-width="0.45" />
<line x1="242.37" y1="509.87" x2="240.87" y2="511.97" stroke="#3a3a3a" stroke-width="0.55" />
<text x="238.77" y="513.27" font-size="3.70" text-anchor="middle" fill="#3a3a3a" transform="rotate(0.0 238.77 513.27)" dominant-baseline="central" stroke="#4a4a4a" stroke-width="0.2">0</text>
<line x1="248.73" y1="513.94" x2="248.03" y2="514.94" stroke="#3a3a3a" stroke-width="0.45" />
<line x1="255.24" y1="518.11" x2="253.74" y2="520.21" stroke="#3a3a3a" stroke-width="0.55" />
<text x="251.64" y="521.51" font-size="3.70" text-anchor="middle" fill="#3a3a3a" transform="rotate(0.0 251.64 521.51)" dominant-baseline="central" stroke="#4a4a4a" stroke-width="0.2">-2</text>
<line x1="261.91" y1="522.39" x2="261.21" y2="523.39" stroke="#3a3a3a" stroke-width="0.45" />
<line x1="268.76" y1="526.78" x2="267.26" y2="528.88" stroke="#3a3a3a" stroke-width="0.55" />
<text x="265.16" y="530.18" font-size="3.70" text-anchor="middle" fill="#3a3a3a" transform="rotate(0.0 265.16 530.18)" dominant-baseline="central" stroke="#4a4a4a" stroke-width="0.2">-4</text>
<line x1="275.79" y1="531.28" x2="275.09" y2="532.28" stroke="#3a3a3a" stroke-width="0.45" />
<line x1="283.00" y1="535.90" x2="281.50" y2="538.00" stroke="#3a3a3a" stroke-width="0.55" />
<text x="279.40" y="539.30" font-size="3.70" text-anchor="middle" fill="#3a3a3a" transform="rotate(0.0 279.40 539.30)" dominant-baseline="central" stroke="#4a4a4a" stroke-width="0.2">-6</text>
<line x1="283.00" y1="535.90" x2="284.90" y2="537.70" stroke="#3a3a3a" stroke-width="0.55" />
<text x="287.60" y="538.90" font-size="3.70" text-anchor="middle" fill="#3a3a3a" transform="rotate(0.0 287.60 538.90)" dominant-baseline="central" stroke="#4a4a4a" stroke-width="0.2">-6</text>
<line x1="288.87" y1="530.61" x2="289.77" y2="531.51" stroke="#3a3a3a" stroke-width="0.45" />
<line x1="294.58" y1="525.46" x2="296.48" y2="527.26" stroke="#3a3a3a" stroke-width="0.55" />
<text x="299.18" y="528.46" font-size="3.70" text-anchor="middle" fill="#3a3a3a" transform="rotate(0.0 299.18 528.46)" dominant-baseline="central" stroke="#4a4a4a" stroke-width="0.2">-4</text>
<line x1="300.13" y1="520.45" x2="301.03" y2="521.35" stroke="#3a3a3a" stroke-width="0.45" />
<line x1="305.53" y1="515.58" x2="307.43" y2="517.38" stroke="#3a3a3a" stroke-width="0.55" />
<text x="310.13" y="518.58" font-size="3.70" text-anchor="middle" fill="#3a3a3a" transform="rotate(0.0 310.13 518.58)" dominant-baseline="central" stroke="#4a4a4a" stroke-width="0.2">-2</text>
<line x1="310.79" y1="510.84" x2="311.69" y2="511.74" stroke="#3a3a3a" stroke-width="0.45" />
<line x1="315.91" y1="506.23" x2="317.81" y2="508.03" stroke="#3a3a3a" stroke-width="0.55" />
<text x="320.51" y="509.23" font-size="3.70" text-anchor="middle" fill="#3a3a3a" transform="rotate(0.0 320.51 509.23)" dominant-baseline="central" stroke="#4a4a4a" stroke-width="0.2">0</text>
<line x1="320.89" y1="501.73" x2="321.79" y2="502.63" stroke="#3a3a3a" stroke-width="0.45" />
<line x1="325.75" y1="497.35" x2="327.65" y2="499.15" stroke="#3a3a3a" stroke-width="0.55" />
<text x="330.35" y="500.35" font-size="3.70" text-anchor="middle" fill="#3a3a3a" transform="rotate(0.0 330.35 500.35)" dominant-baseline="central" stroke="#4a4a4a" stroke-width="0.2">2</text>
<line x1="330.49" y1="493.08" x2="331.39" y2="493.98" stroke="#3a3a3a" stroke-width="0.45" />
<line x1="335.10" y1="488.92" x2="337.00" y2="490.72" stroke="#3a3a3a" stroke-width="0.55" />
<text x="339.70" y="491.92" font-size="3.70" text-anchor="middle" fill="#3a3a3a" transform="rotate(0.0 339.70 491.92)" dominant-baseline="central" stroke="#4a4a4a" stroke-width="0.2">4</text>
<line x1="339.61" y1="484.86" x2="340.51" y2="485.76" stroke="#3a3a3a" stroke-width="0.45" />
<line x1="344.00" y1="480.90" x2="345.90" y2="482.70" stroke="#3a3a3a" stroke-width="0.55" />
<text x="348.60" y="483.90" font-size="3.70" text-anchor="middle" fill="#3a3a3a" transform="rotate(0.0 348.60 483.90)" dominant-baseline="central" stroke="#4a4a4a" stroke-width="0.2">6</text>
<line x1="197.38" y1="404.60" x2="195.38" y2="404.90" stroke="#3a3a3a" stroke-width="0.55" />
<text x="191.08" y="407.40" font-size="4.20" text-anchor="middle" fill="#3a3a3a" transform="rotate(-27.0 191.08 407.40)" dominant-baseline="central" stroke="#4a4a4a" stroke-width="0.1" font-style="italic">0.2</text>
<line x1="198.78" y1="416.25" x2="197.78" y2="416.40" stroke="#3a3a3a" stroke-width="0.45" />
<line x1="200.17" y1="427.90" x2="198.17" y2="428.20" stroke="#3a3a3a" stroke-width="0.55" />
<text x="193.87" y="430.70" font-size="4.20" text-anchor="middle" fill="#3a3a3a" transform="rotate(-27.0 193.87 430.70)" dominant-baseline="central" stroke="#4a4a4a" stroke-width="0.1" font-style="italic">0.1</text>
<line x1="201.48" y1="438.80" x2="200.48" y2="438.95" stroke="#3a3a3a" stroke-width="0.45" />
<line x1="202.79" y1="449.70" x2="200.79" y2="450.00" stroke="#3a3a3a" stroke-width="0.55" />
<text x="196.49" y="452.50" font-size="4.20" text-anchor="middle" fill="#3a3a3a" transform="rotate(-27.0 196.49 452.50)" dominant-baseline="central" stroke="#4a4a4a" stroke-width="0.1" font-style="italic">0.0</text>
<line x1="204.04" y1="460.15" x2="203.04" y2="460.30" stroke="#3a3a3a" stroke-width="0.45" />
<line x1="205.29" y1="470.60" x2="203.29" y2="470.90" stroke="#3a3a3a" stroke-width="0.55" />
<text x="198.49" y="473.40" font-size="3.90" text-anchor="middle" fill="#3a3a3a" transform="rotate(-27.0 198.49 473.40)" dominant-baseline="central" stroke="#4a4a4a" stroke-width="0.1" font-style="italic">-0.1</text>
<line x1="206.38" y1="479.70" x2="205.38" y2="479.85" stroke="#3a3a3a" stroke-width="0.45" />
<line x1="207.47" y1="488.80" x2="205.47" y2="489.10" stroke="#3a3a3a" stroke-width="0.55" />
<text x="200.67" y="491.60" font-size="3.90" text-anchor="middle" fill="#3a3a3a" transform="rotate(-27.0 200.67 491.60)" dominant-baseline="central" stroke="#4a4a4a" stroke-width="0.1" font-style="italic">-0.2</text>
<text x="205.80" y="385.00" font-size="11.80" text-anchor="start" fill="#454545" transform="rotate(0.0 205.80 385.00)" stroke="#454545" stroke-width="0.2" letter-spacing="-0.1">(f)</text>
<text x="232.20" y="520.20" font-size="6.80" text-anchor="middle" fill="#2e2e2e" transform="rotate(34.8 232.20 520.20)" stroke="#2e2e2e" stroke-width="0.26" letter-spacing="0.1">Re( <tspan font-size='5' font-style='italic'>β</tspan> )</text>
<text x="327.60" y="514.20" font-size="6.80" text-anchor="middle" fill="#2e2e2e" transform="rotate(-33.3 327.60 514.20)" stroke="#2e2e2e" stroke-width="0.26" letter-spacing="0.1">Im( <tspan font-size='5' font-style='italic'>β</tspan> )</text>
<text x="186.20" y="458.60" font-size="6.60" text-anchor="middle" fill="#2e2e2e" transform="rotate(90.0 186.20 458.60)" stroke="#2e2e2e" stroke-width="0.12"><tspan font-weight='bold'>W</tspan><tspan font-size='2.3' dy='1.5'>|ψ⟩</tspan><tspan dy='-1.5' font-size='7.6'>(</tspan><tspan font-size='5.4' font-style='italic'>β</tspan><tspan font-size='7.6'>)</tspan></text>
<path d="M250.44,426.25 Q261.80,430.22 272.80,419.93 L272.80,426.00 Q261.80,434.78 250.80,433.00 Z" fill="#84f4e2" opacity="0.55"/>
<path d="M250.44,426.25 Q261.80,430.22 272.80,419.93 L272.80,419.93 Q261.80,432.42 250.44,426.25 Z" fill="#239a84" opacity="0.55"/>
<path d="M250.44,426.25 Q261.80,430.22 272.80,419.93" fill="none" stroke="#1b6053" stroke-width="0.6" opacity="0.6"/>
<path d="M272.80,419.93 Q285.25,429.22 297.88,424.16 L297.70,431.00 Q285.25,433.78 272.80,426.00 Z" fill="#84f4e2" opacity="0.55"/>
<path d="M272.80,419.93 Q285.25,429.22 297.88,424.16 L297.88,424.16 Q285.25,431.42 272.80,419.93 Z" fill="#239a84" opacity="0.55"/>
<path d="M272.80,419.93 Q285.25,429.22 297.88,424.16" fill="none" stroke="#1b6053" stroke-width="0.6" opacity="0.6"/>
<path d="M241.06,441.58 Q246.20,441.97 250.44,426.25 L250.80,433.00 Q246.20,446.53 241.60,449.50 Z" fill="#84f4e2" opacity="0.55"/>
<path d="M241.06,441.58 Q246.20,441.97 250.44,426.25 L250.44,426.25 Q246.20,444.17 241.06,441.58 Z" fill="#239a84" opacity="0.55"/>
<path d="M241.06,441.58 Q246.20,441.97 250.44,426.25" fill="none" stroke="#1b6053" stroke-width="0.6" opacity="0.6"/>
<path d="M297.88,424.16 Q304.35,440.47 311.54,441.03 L311.00,448.50 Q304.35,445.03 297.70,431.00 Z" fill="#84f4e2" opacity="0.55"/>
<path d="M297.88,424.16 Q304.35,440.47 311.54,441.03 L311.54,441.03 Q304.35,442.67 297.88,424.16 Z" fill="#239a84" opacity="0.55"/>
<path d="M297.88,424.16 Q304.35,440.47 311.54,441.03" fill="none" stroke="#1b6053" stroke-width="0.6" opacity="0.6"/>
<path d="M272.80,412.50 L272.52,413.56 L272.30,414.35 L272.08,415.06 L271.85,415.72 L271.63,416.35 L271.39,416.95 L271.14,417.54 L270.89,418.11 L270.61,418.66 L270.33,419.20 L270.02,419.73 L269.70,420.25 L269.35,420.77 L268.98,421.27 L268.58,421.77 L268.15,422.26 L267.68,422.75 L267.17,423.22 L266.61,423.70 L266.00,424.17 L265.33,424.63 L264.58,425.09 L263.74,425.55 L262.80,426.00 C267.30,428.20 272.30,429.00 274.80,429.60 C277.00,429.00 278.80,428.50 281.30,427.20 L280.50,426.71 L279.79,426.21 L279.15,425.71 L278.58,425.20 L278.06,424.69 L277.59,424.18 L277.15,423.66 L276.75,423.13 L276.39,422.59 L276.05,422.05 L275.73,421.50 L275.44,420.94 L275.16,420.38 L274.90,419.80 L274.66,419.21 L274.43,418.60 L274.21,417.99 L274.00,417.35 L273.80,416.69 L273.60,416.01 L273.41,415.29 L273.23,414.51 L273.04,413.66 L272.80,412.50 Z" fill="url(#gF)"/>
<path d="M272.80,412.50 L273.04,413.66 L273.23,414.51 L273.41,415.29 L273.60,416.01 L273.80,416.69 L274.00,417.35 L274.21,417.99 L274.43,418.60 L274.66,419.21 L274.90,419.80 L275.16,420.38 L275.44,420.94 L275.73,421.50 L276.05,422.05 L276.39,422.59 L276.75,423.13 L277.15,423.66 L277.59,424.18 L278.06,424.69 L278.58,425.20 L279.15,425.71 L274.28,426.69 L274.18,426.08 L274.09,425.48 L273.99,424.86 L273.90,424.24 L273.80,423.61 L273.71,422.97 L273.62,422.32 L273.54,421.66 L273.45,420.99 L273.37,420.30 L273.29,419.60 L273.21,418.88 L273.14,418.14 L273.07,417.38 L273.00,416.58 L272.94,415.74 L272.88,414.84 L272.83,413.85 L272.80,412.50 Z" fill="#106058" opacity="0.40"/>
<path d="M271.14,417.54 L270.89,418.11 L270.61,418.66 L270.33,419.20 L270.02,419.73 L269.70,420.25 L269.35,420.77 L268.98,421.27 L268.58,421.77 L268.15,422.26 L267.68,422.75 L267.17,423.22 L266.61,423.70 L266.00,424.17 L265.33,424.63 L264.58,425.09 L263.74,425.55 L265.41,426.05 L266.22,425.59 L266.95,425.13 L267.59,424.67 L268.18,424.20 L268.71,423.72 L269.19,423.25 L269.63,422.76 L270.03,422.27 L270.40,421.77 L270.74,421.27 L271.06,420.75 L271.35,420.23 L271.62,419.70 L271.88,419.16 L272.12,418.61 L272.34,418.04 Z" fill="#7ef0d6" opacity="0.5"/>
<path d="M273.14,418.14 L273.21,418.88 L273.29,419.60 L273.37,420.30 L273.45,420.99 L273.54,421.66 L273.62,422.32 L273.71,422.97 L273.80,423.61 L273.90,424.24 L273.99,424.86 L274.09,425.48 L274.18,426.08 L274.28,426.69 L274.38,427.28 L274.49,427.87 L274.59,428.45 L274.69,429.03 L274.80,429.60" fill="none" stroke="#154f46" stroke-width="0.7" opacity="0.6" stroke-linecap="round"/>
<path d="M270.61,418.66 L270.33,419.20 L270.02,419.73 L269.70,420.25 L269.35,420.77 L268.98,421.27 L268.58,421.77 L268.15,422.26 L267.68,422.75 L267.17,423.22 L266.61,423.70 L266.00,424.17 L265.33,424.63 L264.58,425.09 L263.74,425.55 L262.80,426.00" fill="none" stroke="#1a6658" stroke-width="0.45" opacity="0.55"/>
<path d="M275.44,420.94 L275.73,421.50 L276.05,422.05 L276.39,422.59 L276.75,423.13 L277.15,423.66 L277.59,424.18 L278.06,424.69 L278.58,425.20 L279.15,425.71 L279.79,426.21 L280.50,426.71 L281.30,427.20" fill="none" stroke="#1a6658" stroke-width="0.45" opacity="0.45"/>
<path d="M250.00,418.00 L249.77,419.18 L249.58,420.05 L249.39,420.84 L249.20,421.58 L249.00,422.28 L248.78,422.95 L248.56,423.60 L248.32,424.23 L248.07,424.84 L247.80,425.45 L247.51,426.04 L247.20,426.62 L246.87,427.18 L246.51,427.75 L246.12,428.30 L245.69,428.84 L245.23,429.38 L244.72,429.92 L244.17,430.44 L243.55,430.96 L242.87,431.48 L242.11,431.99 L241.26,432.50 L240.30,433.00 C245.03,435.31 250.28,436.15 252.90,436.78 C255.21,436.15 257.10,435.62 259.73,434.26 L258.86,433.72 L258.08,433.17 L257.39,432.61 L256.76,432.05 L256.18,431.49 L255.66,430.92 L255.18,430.34 L254.73,429.76 L254.32,429.16 L253.93,428.56 L253.57,427.96 L253.23,427.34 L252.91,426.71 L252.60,426.07 L252.32,425.42 L252.04,424.75 L251.78,424.07 L251.52,423.36 L251.28,422.64 L251.03,421.88 L250.80,421.08 L250.56,420.23 L250.31,419.28 L250.00,418.00 Z" fill="url(#gF)"/>
<path d="M250.00,418.00 L250.31,419.28 L250.56,420.23 L250.80,421.08 L251.03,421.88 L251.28,422.64 L251.52,423.36 L251.78,424.07 L252.04,424.75 L252.32,425.42 L252.60,426.07 L252.91,426.71 L253.23,427.34 L253.57,427.96 L253.93,428.56 L254.32,429.16 L254.73,429.76 L255.18,430.34 L255.66,430.92 L256.18,431.49 L256.76,432.05 L257.39,432.61 L252.15,433.58 L252.01,432.92 L251.87,432.25 L251.73,431.58 L251.59,430.89 L251.45,430.20 L251.32,429.50 L251.19,428.79 L251.07,428.06 L250.95,427.32 L250.83,426.57 L250.71,425.80 L250.60,425.01 L250.49,424.20 L250.39,423.35 L250.29,422.48 L250.20,421.56 L250.12,420.57 L250.05,419.48 L250.00,418.00 Z" fill="#106058" opacity="0.40"/>
<path d="M248.56,423.60 L248.32,424.23 L248.07,424.84 L247.80,425.45 L247.51,426.04 L247.20,426.62 L246.87,427.18 L246.51,427.75 L246.12,428.30 L245.69,428.84 L245.23,429.38 L244.72,429.92 L244.17,430.44 L243.55,430.96 L242.87,431.48 L242.11,431.99 L241.26,432.50 L242.93,433.00 L243.76,432.49 L244.49,431.98 L245.15,431.46 L245.73,430.94 L246.26,430.42 L246.74,429.88 L247.17,429.34 L247.57,428.80 L247.93,428.25 L248.26,427.68 L248.56,427.12 L248.84,426.54 L249.10,425.95 L249.33,425.34 L249.55,424.73 L249.76,424.10 Z" fill="#7ef0d6" opacity="0.5"/>
<path d="M250.49,424.20 L250.60,425.01 L250.71,425.80 L250.83,426.57 L250.95,427.32 L251.07,428.06 L251.19,428.79 L251.32,429.50 L251.45,430.20 L251.59,430.89 L251.73,431.58 L251.87,432.25 L252.01,432.92 L252.15,433.58 L252.30,434.23 L252.44,434.88 L252.59,435.52 L252.75,436.15 L252.90,436.78" fill="none" stroke="#154f46" stroke-width="0.7" opacity="0.6" stroke-linecap="round"/>
<path d="M248.07,424.84 L247.80,425.45 L247.51,426.04 L247.20,426.62 L246.87,427.18 L246.51,427.75 L246.12,428.30 L245.69,428.84 L245.23,429.38 L244.72,429.92 L244.17,430.44 L243.55,430.96 L242.87,431.48 L242.11,431.99 L241.26,432.50 L240.30,433.00" fill="none" stroke="#1a6658" stroke-width="0.45" opacity="0.55"/>
<path d="M253.23,427.34 L253.57,427.96 L253.93,428.56 L254.32,429.16 L254.73,429.76 L255.18,430.34 L255.66,430.92 L256.18,431.49 L256.76,432.05 L257.39,432.61 L258.08,433.17 L258.86,433.72 L259.73,434.26" fill="none" stroke="#1a6658" stroke-width="0.45" opacity="0.45"/>
<path d="M298.10,415.80 L297.78,417.00 L297.52,417.88 L297.27,418.68 L297.01,419.43 L296.75,420.13 L296.49,420.81 L296.21,421.47 L295.92,422.11 L295.62,422.74 L295.30,423.35 L294.97,423.94 L294.61,424.53 L294.23,425.11 L293.83,425.68 L293.39,426.24 L292.93,426.79 L292.42,427.34 L291.87,427.88 L291.27,428.41 L290.62,428.94 L289.89,429.46 L289.09,429.98 L288.20,430.49 L287.20,431.00 C291.93,433.31 297.18,434.15 299.80,434.78 C302.11,434.15 304.00,433.62 306.62,432.26 L305.80,431.71 L305.06,431.15 L304.41,430.59 L303.82,430.03 L303.29,429.45 L302.81,428.88 L302.37,428.29 L301.96,427.70 L301.59,427.10 L301.25,426.49 L300.93,425.88 L300.64,425.25 L300.36,424.62 L300.11,423.97 L299.87,423.31 L299.64,422.63 L299.43,421.94 L299.23,421.23 L299.03,420.49 L298.85,419.73 L298.67,418.92 L298.49,418.05 L298.32,417.09 L298.10,415.80 Z" fill="url(#gF)"/>
<path d="M298.10,415.80 L298.32,417.09 L298.49,418.05 L298.67,418.92 L298.85,419.73 L299.03,420.49 L299.23,421.23 L299.43,421.94 L299.64,422.63 L299.87,423.31 L300.11,423.97 L300.36,424.62 L300.64,425.25 L300.93,425.88 L301.25,426.49 L301.59,427.10 L301.96,427.70 L302.37,428.29 L302.81,428.88 L303.29,429.45 L303.82,430.03 L304.41,430.59 L299.36,431.54 L299.28,430.88 L299.19,430.20 L299.11,429.52 L299.03,428.83 L298.95,428.13 L298.88,427.42 L298.80,426.70 L298.73,425.97 L298.65,425.22 L298.58,424.46 L298.52,423.68 L298.45,422.88 L298.39,422.06 L298.33,421.21 L298.27,420.33 L298.22,419.40 L298.17,418.40 L298.13,417.29 L298.10,415.80 Z" fill="#106058" opacity="0.40"/>
<path d="M296.21,421.47 L295.92,422.11 L295.62,422.74 L295.30,423.35 L294.97,423.94 L294.61,424.53 L294.23,425.11 L293.83,425.68 L293.39,426.24 L292.93,426.79 L292.42,427.34 L291.87,427.88 L291.27,428.41 L290.62,428.94 L289.89,429.46 L289.09,429.98 L288.20,430.49 L289.87,430.99 L290.74,430.48 L291.51,429.96 L292.21,429.44 L292.84,428.91 L293.41,428.38 L293.93,427.84 L294.40,427.29 L294.84,426.74 L295.25,426.18 L295.62,425.61 L295.97,425.03 L296.30,424.44 L296.60,423.85 L296.89,423.24 L297.16,422.61 L297.41,421.97 Z" fill="#7ef0d6" opacity="0.5"/>
<path d="M298.39,422.06 L298.45,422.88 L298.52,423.68 L298.58,424.46 L298.65,425.22 L298.73,425.97 L298.80,426.70 L298.88,427.42 L298.95,428.13 L299.03,428.83 L299.11,429.52 L299.19,430.20 L299.28,430.88 L299.36,431.54 L299.45,432.20 L299.53,432.86 L299.62,433.50 L299.71,434.14 L299.80,434.78" fill="none" stroke="#154f46" stroke-width="0.7" opacity="0.6" stroke-linecap="round"/>
<path d="M295.62,422.74 L295.30,423.35 L294.97,423.94 L294.61,424.53 L294.23,425.11 L293.83,425.68 L293.39,426.24 L292.93,426.79 L292.42,427.34 L291.87,427.88 L291.27,428.41 L290.62,428.94 L289.89,429.46 L289.09,429.98 L288.20,430.49 L287.20,431.00" fill="none" stroke="#1a6658" stroke-width="0.45" opacity="0.55"/>
<path d="M300.64,425.25 L300.93,425.88 L301.25,426.49 L301.59,427.10 L301.96,427.70 L302.37,428.29 L302.81,428.88 L303.29,429.45 L303.82,430.03 L304.41,430.59 L305.06,431.15 L305.80,431.71 L306.62,432.26" fill="none" stroke="#1a6658" stroke-width="0.45" opacity="0.45"/>
<path d="M240.40,431.90 L240.19,433.28 L240.01,434.31 L239.83,435.23 L239.65,436.10 L239.45,436.92 L239.25,437.71 L239.03,438.47 L238.79,439.21 L238.54,439.93 L238.28,440.64 L237.99,441.33 L237.68,442.01 L237.34,442.68 L236.98,443.34 L236.58,443.98 L236.15,444.62 L235.68,445.26 L235.16,445.88 L234.59,446.50 L233.96,447.11 L233.26,447.72 L232.48,448.32 L231.60,448.91 L230.60,449.50 C235.55,451.92 241.05,452.80 243.80,453.46 C246.22,452.80 248.20,452.25 250.95,450.82 L250.03,450.19 L249.21,449.55 L248.47,448.90 L247.79,448.25 L247.18,447.59 L246.62,446.93 L246.10,446.26 L245.62,445.58 L245.17,444.89 L244.75,444.19 L244.36,443.49 L243.99,442.77 L243.64,442.04 L243.31,441.29 L242.99,440.53 L242.69,439.76 L242.40,438.96 L242.11,438.14 L241.84,437.29 L241.57,436.41 L241.30,435.48 L241.03,434.49 L240.75,433.39 L240.40,431.90 Z" fill="url(#gF)"/>
<path d="M240.40,431.90 L240.75,433.39 L241.03,434.49 L241.30,435.48 L241.57,436.41 L241.84,437.29 L242.11,438.14 L242.40,438.96 L242.69,439.76 L242.99,440.53 L243.31,441.29 L243.64,442.04 L243.99,442.77 L244.36,443.49 L244.75,444.19 L245.17,444.89 L245.62,445.58 L246.10,446.26 L246.62,446.93 L247.18,447.59 L247.79,448.25 L248.47,448.90 L242.92,449.78 L242.75,449.03 L242.59,448.26 L242.42,447.49 L242.26,446.70 L242.11,445.91 L241.95,445.10 L241.80,444.28 L241.65,443.45 L241.51,442.60 L241.37,441.74 L241.23,440.85 L241.10,439.95 L240.98,439.01 L240.86,438.05 L240.74,437.04 L240.64,435.98 L240.54,434.85 L240.46,433.60 L240.40,431.90 Z" fill="#106058" opacity="0.40"/>
<path d="M239.03,438.47 L238.79,439.21 L238.54,439.93 L238.28,440.64 L237.99,441.33 L237.68,442.01 L237.34,442.68 L236.98,443.34 L236.58,443.98 L236.15,444.62 L235.68,445.26 L235.16,445.88 L234.59,446.50 L233.96,447.11 L233.26,447.72 L232.48,448.32 L231.60,448.91 L233.27,449.41 L234.12,448.82 L234.88,448.22 L235.55,447.61 L236.15,447.00 L236.70,446.38 L237.19,445.76 L237.63,445.12 L238.03,444.48 L238.40,443.84 L238.73,443.18 L239.04,442.51 L239.32,441.83 L239.57,441.14 L239.81,440.43 L240.03,439.71 L240.22,438.97 Z" fill="#7ef0d6" opacity="0.5"/>
<path d="M240.98,439.01 L241.10,439.95 L241.23,440.85 L241.37,441.74 L241.51,442.60 L241.65,443.45 L241.80,444.28 L241.95,445.10 L242.11,445.91 L242.26,446.70 L242.42,447.49 L242.59,448.26 L242.75,449.03 L242.92,449.78 L243.09,450.53 L243.27,451.28 L243.44,452.01 L243.62,452.74 L243.80,453.46" fill="none" stroke="#154f46" stroke-width="0.7" opacity="0.6" stroke-linecap="round"/>
<path d="M238.54,439.93 L238.28,440.64 L237.99,441.33 L237.68,442.01 L237.34,442.68 L236.98,443.34 L236.58,443.98 L236.15,444.62 L235.68,445.26 L235.16,445.88 L234.59,446.50 L233.96,447.11 L233.26,447.72 L232.48,448.32 L231.60,448.91 L230.60,449.50" fill="none" stroke="#1a6658" stroke-width="0.45" opacity="0.55"/>
<path d="M243.99,442.77 L244.36,443.49 L244.75,444.19 L245.17,444.89 L245.62,445.58 L246.10,446.26 L246.62,446.93 L247.18,447.59 L247.79,448.25 L248.47,448.90 L249.21,449.55 L250.03,450.19 L250.95,450.82" fill="none" stroke="#1a6658" stroke-width="0.45" opacity="0.45"/>
<path d="M312.20,431.90 L311.80,433.21 L311.48,434.17 L311.18,435.05 L310.87,435.86 L310.57,436.63 L310.25,437.38 L309.93,438.09 L309.60,438.79 L309.25,439.47 L308.88,440.14 L308.50,440.79 L308.10,441.43 L307.67,442.06 L307.22,442.69 L306.73,443.30 L306.21,443.90 L305.66,444.50 L305.05,445.09 L304.40,445.67 L303.69,446.25 L302.90,446.82 L302.04,447.38 L301.08,447.94 L300.00,448.50 C304.95,450.92 310.45,451.80 313.20,452.46 C315.62,451.80 317.60,451.25 320.35,449.82 L319.51,449.22 L318.77,448.62 L318.11,448.00 L317.52,447.39 L316.99,446.77 L316.51,446.14 L316.08,445.50 L315.68,444.86 L315.32,444.20 L314.99,443.54 L314.69,442.87 L314.41,442.19 L314.15,441.50 L313.92,440.80 L313.70,440.08 L313.49,439.34 L313.30,438.59 L313.12,437.81 L312.95,437.01 L312.80,436.17 L312.65,435.30 L312.51,434.35 L312.36,433.31 L312.20,431.90 Z" fill="url(#gF)"/>
<path d="M312.20,431.90 L312.36,433.31 L312.51,434.35 L312.65,435.30 L312.80,436.17 L312.95,437.01 L313.12,437.81 L313.30,438.59 L313.49,439.34 L313.70,440.08 L313.92,440.80 L314.15,441.50 L314.41,442.19 L314.69,442.87 L314.99,443.54 L315.32,444.20 L315.68,444.86 L316.08,445.50 L316.51,446.14 L316.99,446.77 L317.52,447.39 L318.11,448.00 L312.94,448.96 L312.89,448.23 L312.84,447.50 L312.80,446.76 L312.75,446.02 L312.70,445.26 L312.66,444.49 L312.61,443.71 L312.57,442.91 L312.53,442.11 L312.48,441.28 L312.45,440.44 L312.41,439.57 L312.37,438.68 L312.33,437.76 L312.30,436.80 L312.27,435.80 L312.24,434.72 L312.22,433.52 L312.20,431.90 Z" fill="#106058" opacity="0.40"/>
<path d="M309.93,438.09 L309.60,438.79 L309.25,439.47 L308.88,440.14 L308.50,440.79 L308.10,441.43 L307.67,442.06 L307.22,442.69 L306.73,443.30 L306.21,443.90 L305.66,444.50 L305.05,445.09 L304.40,445.67 L303.69,446.25 L302.90,446.82 L302.04,447.38 L301.08,447.94 L302.75,448.44 L303.68,447.88 L304.52,447.32 L305.28,446.75 L305.96,446.17 L306.59,445.59 L307.16,445.00 L307.69,444.40 L308.18,443.80 L308.64,443.19 L309.06,442.56 L309.46,441.93 L309.83,441.29 L310.18,440.64 L310.51,439.97 L310.83,439.29 L311.13,438.59 Z" fill="#7ef0d6" opacity="0.5"/>
<path d="M312.37,438.68 L312.41,439.57 L312.45,440.44 L312.48,441.28 L312.53,442.11 L312.57,442.91 L312.61,443.71 L312.66,444.49 L312.70,445.26 L312.75,446.02 L312.80,446.76 L312.84,447.50 L312.89,448.23 L312.94,448.96 L312.99,449.67 L313.04,450.38 L313.09,451.08 L313.15,451.77 L313.20,452.46" fill="none" stroke="#154f46" stroke-width="0.7" opacity="0.6" stroke-linecap="round"/>
<path d="M309.25,439.47 L308.88,440.14 L308.50,440.79 L308.10,441.43 L307.67,442.06 L307.22,442.69 L306.73,443.30 L306.21,443.90 L305.66,444.50 L305.05,445.09 L304.40,445.67 L303.69,446.25 L302.90,446.82 L302.04,447.38 L301.08,447.94 L300.00,448.50" fill="none" stroke="#1a6658" stroke-width="0.45" opacity="0.55"/>
<path d="M314.41,442.19 L314.69,442.87 L314.99,443.54 L315.32,444.20 L315.68,444.86 L316.08,445.50 L316.51,446.14 L316.99,446.77 L317.52,447.39 L318.11,448.00 L318.77,448.62 L319.51,449.22 L320.35,449.82" fill="none" stroke="#1a6658" stroke-width="0.45" opacity="0.45"/>
<path d="M272.50,466.00 C271.94,456.77 271.15,449.60 270.25,445.50 L274.75,445.50 C273.85,449.60 273.06,456.77 272.50,466.00 Z" fill="#1a7a6b" opacity="0.80"/>
<path d="M279.50,468.00 C278.94,457.88 278.15,450.00 277.25,445.50 L281.75,445.50 C280.85,450.00 280.06,457.88 279.50,468.00 Z" fill="#1a7a6b" opacity="0.80"/>
<path d="M276.00,477.00 C275.44,462.82 274.65,451.80 273.75,445.50 L278.25,445.50 C277.35,451.80 276.56,462.82 276.00,477.00 Z" fill="#1a7a6b" opacity="0.80"/>
<path d="M274.50,472.00 C274.00,460.07 273.30,450.80 272.50,445.50 L276.50,445.50 C275.70,450.80 275.00,460.07 274.50,472.00 Z" fill="#1a7a6b" opacity="0.80"/>
<path d="M278.00,473.00 C277.50,460.62 276.80,451.00 276.00,445.50 L280.00,445.50 C279.20,451.00 278.50,460.62 278.00,473.00 Z" fill="#1a7a6b" opacity="0.80"/>
<path d="M268.50,439.00 C267.88,442.38 267.00,445.00 266.00,446.50 L271.00,446.50 C270.00,445.00 269.12,442.38 268.50,439.00 Z" fill="#1d8478" opacity="1.00"/>
<path d="M284.00,440.00 C283.38,442.93 282.50,445.20 281.50,446.50 L286.50,446.50 C285.50,445.20 284.62,442.93 284.00,440.00 Z" fill="#19786c" opacity="1.00"/>
<path d="M271.50,431.00 C270.88,437.98 270.00,443.40 269.00,446.50 L274.00,446.50 C273.00,443.40 272.12,437.98 271.50,431.00 Z" fill="#1a7c70" opacity="1.00"/>
<path d="M281.00,433.00 C280.38,439.07 279.50,443.80 278.50,446.50 L283.50,446.50 C282.50,443.80 281.62,439.07 281.00,433.00 Z" fill="#167064" opacity="1.00"/>
<path d="M273.80,416.00 C273.18,429.73 272.30,440.40 271.30,446.50 L276.30,446.50 C275.30,440.40 274.43,429.73 273.80,416.00 Z" fill="#16705f" opacity="1.00"/>
<path d="M278.60,418.00 C277.98,430.82 277.10,440.80 276.10,446.50 L281.10,446.50 C280.10,440.80 279.23,430.82 278.60,418.00 Z" fill="#146a5a" opacity="1.00"/>
<path d="M276.20,406.00 C275.62,424.23 274.82,438.40 273.90,446.50 L278.50,446.50 C277.58,438.40 276.77,424.23 276.20,406.00 Z" fill="#135f52" opacity="1.00"/>
<path d="M274.30,400.50 C274.14,420.75 273.91,436.50 273.65,445.50 L274.95,445.50 C274.69,436.50 274.46,420.75 274.30,400.50 Z" fill="#176a60" opacity="0.75"/>
<path d="M275.80,399.50 C275.64,420.20 275.41,436.30 275.15,445.50 L276.45,445.50 C276.19,436.30 275.96,420.20 275.80,399.50 Z" fill="#176a60" opacity="0.75"/>
<path d="M277.20,400.20 C277.04,420.58 276.81,436.44 276.55,445.50 L277.85,445.50 C277.59,436.44 277.36,420.58 277.20,400.20 Z" fill="#176a60" opacity="0.75"/>
<path d="M278.50,402.50 C278.35,421.85 278.14,436.90 277.90,445.50 L279.10,445.50 C278.86,436.90 278.65,421.85 278.50,402.50 Z" fill="#176a60" opacity="0.75"/>
<path d="M273.00,404.00 C272.85,422.68 272.64,437.20 272.40,445.50 L273.60,445.50 C273.36,437.20 273.15,422.68 273.00,404.00 Z" fill="#176a60" opacity="0.75"/>
<polygon points="287.20,445.50 283.79,446.21 285.94,447.45 282.23,447.54 282.45,448.96 279.34,448.66 277.53,449.67 275.25,448.47 272.30,449.43 271.69,447.99 267.97,448.29 269.02,446.94 265.52,446.51 268.97,445.50 265.52,444.49 269.16,444.09 267.97,442.71 271.54,442.92 272.30,441.57 275.17,442.25 277.53,441.33 278.69,442.99 282.45,442.04 281.80,443.60 285.94,443.55 283.02,444.86" fill="#176457" opacity="0.85"/>
<polygon points="283.20,445.00 280.77,445.42 282.40,446.21 280.17,446.31 280.18,447.14 278.08,446.84 277.04,447.58 275.53,447.04 273.72,447.43 273.59,446.41 270.96,446.72 272.07,445.80 269.40,445.62 271.65,445.00 269.40,444.38 272.08,444.20 270.96,443.28 273.15,443.36 273.72,442.57 275.65,443.33 277.04,442.42 278.00,443.23 280.18,442.86 279.67,443.86 282.40,443.79 280.81,444.58" fill="#124f45" opacity="0.60"/>
<path d="M241.06,441.58 Q247.30,457.39 252.55,455.17 L253.00,463.00 Q247.30,464.61 241.60,449.50 Z" fill="#84f4e2" opacity="0.75"/>
<path d="M241.06,441.58 Q247.30,457.39 252.55,455.17 L252.55,455.17 Q247.30,459.59 241.06,441.58 Z" fill="#239a84" opacity="0.55"/>
<path d="M241.06,441.58 Q247.30,457.39 252.55,455.17" fill="none" stroke="#1b6053" stroke-width="0.6" opacity="0.6"/>
<path d="M311.54,441.03 Q307.95,456.39 305.48,454.21 L304.90,462.00 Q307.95,463.61 311.00,448.50 Z" fill="#84f4e2" opacity="0.75"/>
<path d="M311.54,441.03 Q307.95,456.39 305.48,454.21 L305.48,454.21 Q307.95,458.59 311.54,441.03 Z" fill="#239a84" opacity="0.55"/>
<path d="M311.54,441.03 Q307.95,456.39 305.48,454.21" fill="none" stroke="#1b6053" stroke-width="0.6" opacity="0.6"/>
<path d="M252.55,455.17 Q266.10,467.39 279.20,461.40 L279.20,469.50 Q266.10,474.61 253.00,463.00 Z" fill="#84f4e2" opacity="0.75"/>
<path d="M252.55,455.17 Q266.10,467.39 279.20,461.40 L279.20,461.40 Q266.10,469.59 252.55,455.17 Z" fill="#239a84" opacity="0.55"/>
<path d="M252.55,455.17 Q266.10,467.39 279.20,461.40" fill="none" stroke="#1b6053" stroke-width="0.6" opacity="0.6"/>
<path d="M279.20,461.40 Q292.05,466.89 305.48,454.21 L304.90,462.00 Q292.05,474.11 279.20,469.50 Z" fill="#84f4e2" opacity="0.75"/>
<path d="M279.20,461.40 Q292.05,466.89 305.48,454.21 L305.48,454.21 Q292.05,469.09 279.20,461.40 Z" fill="#239a84" opacity="0.55"/>
<path d="M279.20,461.40 Q292.05,466.89 305.48,454.21" fill="none" stroke="#1b6053" stroke-width="0.6" opacity="0.6"/>
<path d="M252.00,445.60 L251.75,446.97 L251.53,447.98 L251.32,448.90 L251.10,449.75 L250.88,450.56 L250.64,451.34 L250.39,452.09 L250.12,452.83 L249.83,453.54 L249.53,454.24 L249.20,454.92 L248.85,455.59 L248.47,456.25 L248.06,456.91 L247.62,457.55 L247.14,458.18 L246.61,458.81 L246.04,459.42 L245.41,460.03 L244.71,460.64 L243.93,461.24 L243.07,461.83 L242.10,462.42 L241.00,463.00 C246.40,465.64 252.40,466.60 255.40,467.32 C258.04,466.60 260.20,466.00 263.20,464.44 L262.21,463.81 L261.32,463.17 L260.52,462.53 L259.80,461.88 L259.14,461.23 L258.54,460.57 L257.98,459.90 L257.47,459.22 L256.99,458.54 L256.55,457.84 L256.13,457.14 L255.74,456.42 L255.37,455.69 L255.02,454.95 L254.69,454.20 L254.37,453.42 L254.06,452.63 L253.77,451.81 L253.48,450.97 L253.20,450.09 L252.93,449.17 L252.65,448.18 L252.36,447.08 L252.00,445.60 Z" fill="url(#gF)"/>
<path d="M252.00,445.60 L252.36,447.08 L252.65,448.18 L252.93,449.17 L253.20,450.09 L253.48,450.97 L253.77,451.81 L254.06,452.63 L254.37,453.42 L254.69,454.20 L255.02,454.95 L255.37,455.69 L255.74,456.42 L256.13,457.14 L256.55,457.84 L256.99,458.54 L257.47,459.22 L257.98,459.90 L258.54,460.57 L259.14,461.23 L259.80,461.88 L260.52,462.53 L254.52,463.62 L254.35,462.85 L254.19,462.08 L254.02,461.30 L253.86,460.51 L253.71,459.71 L253.55,458.90 L253.40,458.07 L253.25,457.24 L253.11,456.38 L252.97,455.51 L252.83,454.62 L252.70,453.71 L252.58,452.76 L252.46,451.79 L252.34,450.78 L252.24,449.72 L252.14,448.58 L252.06,447.31 L252.00,445.60 Z" fill="#106058" opacity="0.40"/>
<path d="M250.39,452.09 L250.12,452.83 L249.83,453.54 L249.53,454.24 L249.20,454.92 L248.85,455.59 L248.47,456.25 L248.06,456.91 L247.62,457.55 L247.14,458.18 L246.61,458.81 L246.04,459.42 L245.41,460.03 L244.71,460.64 L243.93,461.24 L243.07,461.83 L242.10,462.42 L243.77,462.92 L244.71,462.33 L245.55,461.74 L246.30,461.14 L246.97,460.53 L247.57,459.92 L248.12,459.31 L248.62,458.68 L249.07,458.05 L249.48,457.41 L249.86,456.75 L250.21,456.09 L250.53,455.42 L250.83,454.74 L251.10,454.04 L251.35,453.33 L251.58,452.59 Z" fill="#7ef0d6" opacity="0.5"/>
<path d="M252.58,452.76 L252.70,453.71 L252.83,454.62 L252.97,455.51 L253.11,456.38 L253.25,457.24 L253.40,458.07 L253.55,458.90 L253.71,459.71 L253.86,460.51 L254.02,461.30 L254.19,462.08 L254.35,462.85 L254.52,463.62 L254.69,464.37 L254.87,465.12 L255.04,465.86 L255.22,466.59 L255.40,467.32" fill="none" stroke="#154f46" stroke-width="0.7" opacity="0.6" stroke-linecap="round"/>
<path d="M249.83,453.54 L249.53,454.24 L249.20,454.92 L248.85,455.59 L248.47,456.25 L248.06,456.91 L247.62,457.55 L247.14,458.18 L246.61,458.81 L246.04,459.42 L245.41,460.03 L244.71,460.64 L243.93,461.24 L243.07,461.83 L242.10,462.42 L241.00,463.00" fill="none" stroke="#1a6658" stroke-width="0.45" opacity="0.55"/>
<path d="M255.74,456.42 L256.13,457.14 L256.55,457.84 L256.99,458.54 L257.47,459.22 L257.98,459.90 L258.54,460.57 L259.14,461.23 L259.80,461.88 L260.52,462.53 L261.32,463.17 L262.21,463.81 L263.20,464.44" fill="none" stroke="#1a6658" stroke-width="0.45" opacity="0.45"/>
<path d="M306.20,444.70 L305.77,446.06 L305.42,447.07 L305.09,447.98 L304.76,448.83 L304.42,449.63 L304.08,450.41 L303.73,451.16 L303.36,451.88 L302.98,452.59 L302.59,453.29 L302.17,453.97 L301.73,454.64 L301.27,455.29 L300.77,455.94 L300.24,456.58 L299.68,457.21 L299.07,457.83 L298.41,458.44 L297.70,459.05 L296.92,459.65 L296.06,460.25 L295.12,460.84 L294.07,461.42 L292.90,462.00 C298.30,464.64 304.30,465.60 307.30,466.32 C309.94,465.60 312.10,465.00 315.10,463.44 L314.18,462.81 L313.37,462.18 L312.65,461.54 L312.01,460.90 L311.43,460.25 L310.91,459.59 L310.44,458.92 L310.01,458.25 L309.61,457.57 L309.25,456.88 L308.92,456.18 L308.62,455.46 L308.34,454.74 L308.08,454.00 L307.84,453.25 L307.61,452.48 L307.40,451.69 L307.21,450.88 L307.03,450.04 L306.85,449.17 L306.69,448.25 L306.53,447.27 L306.38,446.17 L306.20,444.70 Z" fill="url(#gF)"/>
<path d="M306.20,444.70 L306.38,446.17 L306.53,447.27 L306.69,448.25 L306.85,449.17 L307.03,450.04 L307.21,450.88 L307.40,451.69 L307.61,452.48 L307.84,453.25 L308.08,454.00 L308.34,454.74 L308.62,455.46 L308.92,456.18 L309.25,456.88 L309.61,457.57 L310.01,458.25 L310.44,458.92 L310.91,459.59 L311.43,460.25 L312.01,460.90 L312.65,461.54 L307.02,462.63 L306.96,461.88 L306.91,461.11 L306.85,460.33 L306.80,459.54 L306.75,458.75 L306.70,457.94 L306.65,457.12 L306.61,456.28 L306.56,455.43 L306.51,454.56 L306.47,453.68 L306.43,452.77 L306.39,451.83 L306.35,450.86 L306.31,449.86 L306.28,448.80 L306.25,447.66 L306.22,446.40 L306.20,444.70 Z" fill="#106058" opacity="0.40"/>
<path d="M303.73,451.16 L303.36,451.88 L302.98,452.59 L302.59,453.29 L302.17,453.97 L301.73,454.64 L301.27,455.29 L300.77,455.94 L300.24,456.58 L299.68,457.21 L299.07,457.83 L298.41,458.44 L297.70,459.05 L296.92,459.65 L296.06,460.25 L295.12,460.84 L294.07,461.42 L295.75,461.92 L296.77,461.34 L297.68,460.75 L298.51,460.15 L299.26,459.55 L299.95,458.94 L300.58,458.33 L301.16,457.71 L301.69,457.08 L302.19,456.44 L302.65,455.79 L303.09,455.14 L303.50,454.47 L303.88,453.79 L304.25,453.09 L304.60,452.38 L304.93,451.66 Z" fill="#7ef0d6" opacity="0.5"/>
<path d="M306.39,451.83 L306.43,452.77 L306.47,453.68 L306.51,454.56 L306.56,455.43 L306.61,456.28 L306.65,457.12 L306.70,457.94 L306.75,458.75 L306.80,459.54 L306.85,460.33 L306.91,461.11 L306.96,461.88 L307.02,462.63 L307.07,463.39 L307.13,464.13 L307.18,464.87 L307.24,465.60 L307.30,466.32" fill="none" stroke="#154f46" stroke-width="0.7" opacity="0.6" stroke-linecap="round"/>
<path d="M302.98,452.59 L302.59,453.29 L302.17,453.97 L301.73,454.64 L301.27,455.29 L300.77,455.94 L300.24,456.58 L299.68,457.21 L299.07,457.83 L298.41,458.44 L297.70,459.05 L296.92,459.65 L296.06,460.25 L295.12,460.84 L294.07,461.42 L292.90,462.00" fill="none" stroke="#1a6658" stroke-width="0.45" opacity="0.55"/>
<path d="M308.62,455.46 L308.92,456.18 L309.25,456.88 L309.61,457.57 L310.01,458.25 L310.44,458.92 L310.91,459.59 L311.43,460.25 L312.01,460.90 L312.65,461.54 L313.37,462.18 L314.18,462.81 L315.10,463.44" fill="none" stroke="#1a6658" stroke-width="0.45" opacity="0.45"/>
<path d="M279.20,451.50 L278.85,452.92 L278.57,453.97 L278.30,454.91 L278.02,455.79 L277.73,456.63 L277.44,457.44 L277.13,458.22 L276.81,458.97 L276.47,459.71 L276.11,460.44 L275.73,461.14 L275.32,461.84 L274.89,462.52 L274.42,463.20 L273.92,463.86 L273.38,464.51 L272.80,465.16 L272.16,465.80 L271.47,466.43 L270.70,467.06 L269.86,467.68 L268.92,468.29 L267.88,468.90 L266.70,469.50 C272.32,472.25 278.57,473.25 281.70,474.00 C284.45,473.25 286.70,472.62 289.82,471.00 L288.82,470.35 L287.94,469.69 L287.14,469.02 L286.42,468.35 L285.77,467.68 L285.18,466.99 L284.64,466.30 L284.14,465.60 L283.68,464.89 L283.26,464.17 L282.86,463.44 L282.50,462.70 L282.15,461.95 L281.83,461.18 L281.52,460.40 L281.23,459.60 L280.96,458.78 L280.70,457.93 L280.45,457.06 L280.20,456.15 L279.97,455.19 L279.73,454.17 L279.49,453.03 L279.20,451.50 Z" fill="url(#gF)"/>
<path d="M279.20,451.50 L279.49,453.03 L279.73,454.17 L279.97,455.19 L280.20,456.15 L280.45,457.06 L280.70,457.93 L280.96,458.78 L281.23,459.60 L281.52,460.40 L281.83,461.18 L282.15,461.95 L282.50,462.70 L282.86,463.44 L283.26,464.17 L283.68,464.89 L284.14,465.60 L284.64,466.30 L285.18,466.99 L285.77,467.68 L286.42,468.35 L287.14,469.02 L281.05,470.16 L280.93,469.37 L280.81,468.58 L280.69,467.77 L280.57,466.95 L280.45,466.12 L280.34,465.28 L280.23,464.42 L280.12,463.55 L280.02,462.67 L279.91,461.77 L279.81,460.84 L279.72,459.90 L279.62,458.92 L279.54,457.91 L279.45,456.87 L279.37,455.76 L279.30,454.58 L279.24,453.27 L279.20,451.50 Z" fill="#106058" opacity="0.40"/>
<path d="M277.13,458.22 L276.81,458.97 L276.47,459.71 L276.11,460.44 L275.73,461.14 L275.32,461.84 L274.89,462.52 L274.42,463.20 L273.92,463.86 L273.38,464.51 L272.80,465.16 L272.16,465.80 L271.47,466.43 L270.70,467.06 L269.86,467.68 L268.92,468.29 L267.88,468.90 L269.55,469.40 L270.57,468.79 L271.48,468.18 L272.29,467.56 L273.03,466.93 L273.70,466.30 L274.31,465.66 L274.86,465.01 L275.37,464.36 L275.84,463.70 L276.28,463.02 L276.68,462.34 L277.06,461.64 L277.41,460.94 L277.73,460.21 L278.04,459.47 L278.33,458.72 Z" fill="#7ef0d6" opacity="0.5"/>
<path d="M279.62,458.92 L279.72,459.90 L279.81,460.84 L279.91,461.77 L280.02,462.67 L280.12,463.55 L280.23,464.42 L280.34,465.28 L280.45,466.12 L280.57,466.95 L280.69,467.77 L280.81,468.58 L280.93,469.37 L281.05,470.16 L281.18,470.95 L281.31,471.72 L281.44,472.49 L281.57,473.25 L281.70,474.00" fill="none" stroke="#154f46" stroke-width="0.7" opacity="0.6" stroke-linecap="round"/>
<path d="M276.47,459.71 L276.11,460.44 L275.73,461.14 L275.32,461.84 L274.89,462.52 L274.42,463.20 L273.92,463.86 L273.38,464.51 L272.80,465.16 L272.16,465.80 L271.47,466.43 L270.70,467.06 L269.86,467.68 L268.92,468.29 L267.88,468.90 L266.70,469.50" fill="none" stroke="#1a6658" stroke-width="0.45" opacity="0.55"/>
<path d="M282.50,462.70 L282.86,463.44 L283.26,464.17 L283.68,464.89 L284.14,465.60 L284.64,466.30 L285.18,466.99 L285.77,467.68 L286.42,468.35 L287.14,469.02 L287.94,469.69 L288.82,470.35 L289.82,471.00" fill="none" stroke="#1a6658" stroke-width="0.45" opacity="0.45"/>
</svg>
</body></html>
